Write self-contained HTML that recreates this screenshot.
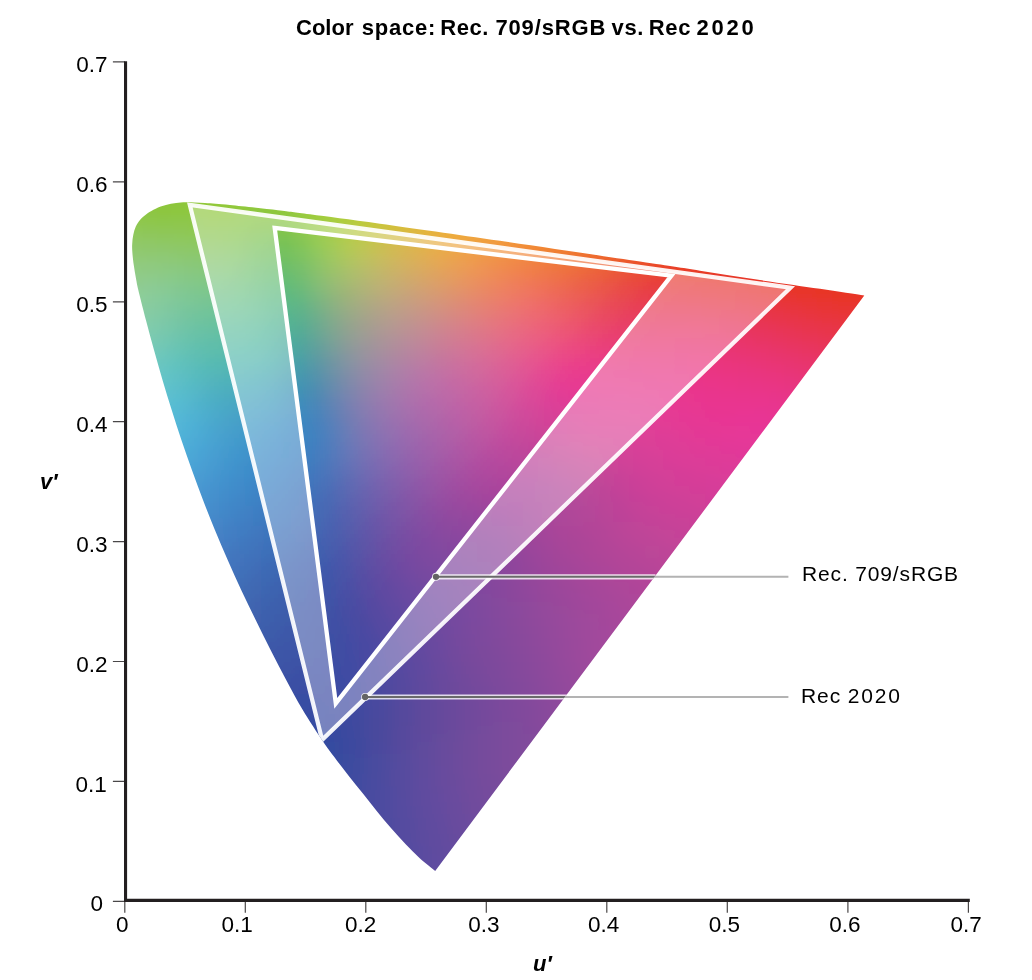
<!DOCTYPE html>
<html lang="en"><head><meta charset="utf-8"><title>Color space: Rec. 709/sRGB vs. Rec 2020</title>
<style>html,body{margin:0;padding:0;background:#fff}svg{display:block}</style></head>
<body>
<svg width="1032" height="980" viewBox="0 0 1032 980">
<defs><clipPath id="hs"><path d="M864.3 295.5C856.9 294.4 837.4 291.4 820.0 288.8C802.6 286.2 780.0 283.1 760.0 280.1C740.0 277.1 720.0 273.8 700.0 270.7C680.0 267.6 673.3 266.6 640.0 261.6C606.7 256.6 543.3 247.1 500.0 240.8C456.7 234.5 411.7 228.1 380.0 223.7C348.3 219.3 327.0 216.6 310.0 214.3C293.0 212.1 291.2 211.8 277.9 210.2C264.6 208.6 242.2 206.1 230.0 204.9C217.8 203.7 212.2 203.4 205.0 203.0C197.8 202.6 191.3 202.2 186.5 202.2C181.7 202.2 179.5 202.6 176.1 203.1C172.7 203.6 169.3 204.2 165.9 205.1C162.5 206.0 158.8 207.3 155.7 208.7C152.6 210.1 150.1 211.5 147.6 213.3C145.1 215.1 142.4 217.2 140.4 219.4C138.4 221.6 137.0 223.9 135.8 226.5C134.6 229.1 133.9 231.8 133.3 234.7C132.7 237.6 132.3 240.8 132.2 243.9C132.0 247.0 132.1 249.5 132.4 253.1C132.7 256.7 133.2 261.2 133.8 265.3C134.4 269.4 135.1 273.5 135.8 277.6C136.6 281.7 136.6 282.9 138.3 290.0C140.0 297.1 143.3 310.0 145.9 320.0C148.5 330.0 151.2 340.0 154.0 350.0C156.8 360.0 159.6 370.0 162.5 380.0C165.4 390.0 168.5 400.0 171.7 410.0C174.8 420.0 178.0 430.0 181.4 440.0C184.8 450.0 188.3 460.0 191.9 470.0C195.5 480.0 199.2 490.0 203.0 500.0C206.8 510.0 210.8 520.0 214.9 530.0C219.0 540.0 223.3 550.0 227.7 560.0C232.1 570.0 236.5 580.0 241.2 590.0C245.9 600.0 250.8 610.0 255.7 620.0C260.6 630.0 265.5 640.0 270.6 650.0C275.7 660.0 280.8 670.0 286.2 680.0C291.6 690.0 296.7 699.8 302.8 710.0C308.9 720.2 317.4 733.1 322.7 741.0C327.9 748.9 330.0 751.3 334.3 757.1C338.6 762.9 343.8 769.6 348.6 775.7C353.4 781.8 358.1 787.7 362.9 793.6C367.6 799.5 372.4 805.6 377.1 811.4C381.9 817.2 386.6 823.1 391.4 828.6C396.2 834.1 400.9 839.3 405.7 844.3C410.5 849.3 415.1 854.1 420.0 858.6C424.9 863.1 432.7 868.9 435.2 871.0Z"/></clipPath><clipPath id="c709"><path d="M274.7 227.9 L671.4 275.7 L335.8 703.4 Z"/></clipPath>
<linearGradient id="r1" gradientUnits="userSpaceOnUse" x1="120" x2="880"><stop offset=".04" stop-color="#8ec733"/><stop offset=".06" stop-color="#8dc633"/><stop offset=".08" stop-color="#8ec734"/><stop offset=".1" stop-color="#90c733"/><stop offset=".12" stop-color="#91c832"/><stop offset=".14" stop-color="#93c831"/><stop offset=".16" stop-color="#93c932"/></linearGradient>
<linearGradient id="r2" gradientUnits="userSpaceOnUse" x1="120" x2="880"><stop offset=".02" stop-color="#8ec739"/><stop offset=".04" stop-color="#8dc737"/><stop offset=".06" stop-color="#8dc636"/><stop offset=".08" stop-color="#8ec637"/><stop offset=".1" stop-color="#8fc737"/><stop offset=".12" stop-color="#91c835"/><stop offset=".14" stop-color="#92c834"/><stop offset=".16" stop-color="#92c835"/><stop offset=".18" stop-color="#92c835"/><stop offset=".2" stop-color="#94c934"/><stop offset=".22" stop-color="#98ca33"/></linearGradient>
<linearGradient id="r3" gradientUnits="userSpaceOnUse" x1="120" x2="880"><stop offset=".02" stop-color="#8ec73c"/><stop offset=".04" stop-color="#8dc63a"/><stop offset=".06" stop-color="#8dc63a"/><stop offset=".08" stop-color="#8dc63b"/><stop offset=".1" stop-color="#8fc73a"/><stop offset=".12" stop-color="#91c838"/><stop offset=".14" stop-color="#91c838"/><stop offset=".16" stop-color="#91c838"/><stop offset=".18" stop-color="#91c838"/><stop offset=".2" stop-color="#92c837"/><stop offset=".22" stop-color="#96c936"/><stop offset=".24" stop-color="#9ccb35"/><stop offset=".26" stop-color="#a4cd33"/></linearGradient>
<linearGradient id="r4" gradientUnits="userSpaceOnUse" x1="120" x2="880"><stop offset="0" stop-color="#90c843"/><stop offset=".02" stop-color="#8ec740"/><stop offset=".04" stop-color="#8dc63e"/><stop offset=".06" stop-color="#8dc63d"/><stop offset=".08" stop-color="#8dc63e"/><stop offset=".1" stop-color="#8fc73d"/><stop offset=".12" stop-color="#90c83b"/><stop offset=".14" stop-color="#91c83b"/><stop offset=".16" stop-color="#90c83c"/><stop offset=".18" stop-color="#8fc83c"/><stop offset=".2" stop-color="#8fc83b"/><stop offset=".22" stop-color="#93c939"/><stop offset=".24" stop-color="#9acb38"/><stop offset=".26" stop-color="#a2cd37"/><stop offset=".28" stop-color="#abcd35"/><stop offset=".3" stop-color="#b4cd32"/></linearGradient>
<linearGradient id="r5" gradientUnits="userSpaceOnUse" x1="120" x2="880"><stop offset="0" stop-color="#90c847"/><stop offset=".02" stop-color="#8ec744"/><stop offset=".04" stop-color="#8dc642"/><stop offset=".06" stop-color="#8dc641"/><stop offset=".08" stop-color="#8dc741"/><stop offset=".1" stop-color="#8fc741"/><stop offset=".12" stop-color="#90c83e"/><stop offset=".14" stop-color="#90c83e"/><stop offset=".16" stop-color="#8fc83f"/><stop offset=".18" stop-color="#8dc73f"/><stop offset=".2" stop-color="#8dc73e"/><stop offset=".22" stop-color="#91c83d"/><stop offset=".24" stop-color="#98ca3c"/><stop offset=".26" stop-color="#a1cc3a"/><stop offset=".28" stop-color="#aacd38"/><stop offset=".3" stop-color="#b3cd35"/><stop offset=".32" stop-color="#beca33"/><stop offset=".34" stop-color="#c8c632"/></linearGradient>
<linearGradient id="r6" gradientUnits="userSpaceOnUse" x1="120" x2="880"><stop offset="0" stop-color="#90c84b"/><stop offset=".02" stop-color="#8ec748"/><stop offset=".04" stop-color="#8dc646"/><stop offset=".06" stop-color="#8dc645"/><stop offset=".08" stop-color="#8dc745"/><stop offset=".1" stop-color="#8ec744"/><stop offset=".12" stop-color="#90c842"/><stop offset=".14" stop-color="#8fc841"/><stop offset=".16" stop-color="#8dc742"/><stop offset=".18" stop-color="#8bc742"/><stop offset=".2" stop-color="#8ac741"/><stop offset=".22" stop-color="#8ec840"/><stop offset=".24" stop-color="#96ca3f"/><stop offset=".26" stop-color="#9fcc3e"/><stop offset=".28" stop-color="#a9cd3c"/><stop offset=".3" stop-color="#b3cc39"/><stop offset=".32" stop-color="#bdca37"/><stop offset=".34" stop-color="#c8c635"/><stop offset=".36" stop-color="#d2c134"/><stop offset=".38" stop-color="#dabd32"/></linearGradient>
<linearGradient id="r7" gradientUnits="userSpaceOnUse" x1="120" x2="880"><stop offset="0" stop-color="#90c94f"/><stop offset=".02" stop-color="#8fc74c"/><stop offset=".04" stop-color="#8ec74a"/><stop offset=".06" stop-color="#8dc649"/><stop offset=".08" stop-color="#8dc749"/><stop offset=".1" stop-color="#8ec748"/><stop offset=".12" stop-color="#8fc845"/><stop offset=".14" stop-color="#8ec845"/><stop offset=".16" stop-color="#8cc746"/><stop offset=".18" stop-color="#89c646"/><stop offset=".2" stop-color="#88c644"/><stop offset=".22" stop-color="#8bc743"/><stop offset=".24" stop-color="#94c943"/><stop offset=".26" stop-color="#9ecc42"/><stop offset=".28" stop-color="#a8cd3f"/><stop offset=".3" stop-color="#b2cc3c"/><stop offset=".32" stop-color="#bdca3a"/><stop offset=".34" stop-color="#c8c539"/><stop offset=".36" stop-color="#d2c137"/><stop offset=".38" stop-color="#dabc35"/><stop offset=".4" stop-color="#e2b834"/><stop offset=".42" stop-color="#e8b333"/></linearGradient>
<linearGradient id="r8" gradientUnits="userSpaceOnUse" x1="120" x2="880"><stop offset="0" stop-color="#90c953"/><stop offset=".02" stop-color="#8fc751"/><stop offset=".04" stop-color="#8ec74f"/><stop offset=".06" stop-color="#8dc74d"/><stop offset=".08" stop-color="#8ec74d"/><stop offset=".1" stop-color="#8ec74c"/><stop offset=".12" stop-color="#8fc849"/><stop offset=".14" stop-color="#8ec849"/><stop offset=".16" stop-color="#8bc749"/><stop offset=".18" stop-color="#87c649"/><stop offset=".2" stop-color="#85c548"/><stop offset=".22" stop-color="#88c646"/><stop offset=".24" stop-color="#91c946"/><stop offset=".26" stop-color="#9ccc45"/><stop offset=".28" stop-color="#a7cd43"/><stop offset=".3" stop-color="#b2cc40"/><stop offset=".32" stop-color="#bec93e"/><stop offset=".34" stop-color="#c8c53c"/><stop offset=".36" stop-color="#d2c03b"/><stop offset=".38" stop-color="#dbbb39"/><stop offset=".4" stop-color="#e2b737"/><stop offset=".42" stop-color="#e8b236"/><stop offset=".44" stop-color="#ecae35"/></linearGradient>
<linearGradient id="r9" gradientUnits="userSpaceOnUse" x1="120" x2="880"><stop offset="0" stop-color="#90c957"/><stop offset=".02" stop-color="#8fc855"/><stop offset=".04" stop-color="#8ec753"/><stop offset=".06" stop-color="#8ec752"/><stop offset=".08" stop-color="#8ec751"/><stop offset=".1" stop-color="#8ec850"/><stop offset=".12" stop-color="#8ec84d"/><stop offset=".14" stop-color="#8dc84d"/><stop offset=".16" stop-color="#89c74d"/><stop offset=".18" stop-color="#85c54c"/><stop offset=".2" stop-color="#82c54b"/><stop offset=".22" stop-color="#85c54a"/><stop offset=".24" stop-color="#8ec84a"/><stop offset=".26" stop-color="#9bcc49"/><stop offset=".28" stop-color="#a7cd46"/><stop offset=".3" stop-color="#b2cc44"/><stop offset=".32" stop-color="#bec942"/><stop offset=".34" stop-color="#c8c440"/><stop offset=".36" stop-color="#d2bf3e"/><stop offset=".38" stop-color="#dbba3c"/><stop offset=".4" stop-color="#e2b63b"/><stop offset=".42" stop-color="#e8b139"/><stop offset=".44" stop-color="#edad38"/><stop offset=".46" stop-color="#efa837"/><stop offset=".48" stop-color="#f1a335"/></linearGradient>
<linearGradient id="r10" gradientUnits="userSpaceOnUse" x1="120" x2="880"><stop offset="0" stop-color="#91c95b"/><stop offset=".02" stop-color="#8fc85a"/><stop offset=".04" stop-color="#8ec758"/><stop offset=".06" stop-color="#8ec757"/><stop offset=".08" stop-color="#8ec756"/><stop offset=".1" stop-color="#8ec854"/><stop offset=".12" stop-color="#8ec852"/><stop offset=".14" stop-color="#8cc851"/><stop offset=".16" stop-color="#88c650"/><stop offset=".18" stop-color="#83c550"/><stop offset=".2" stop-color="#80c44e"/><stop offset=".22" stop-color="#82c44d"/><stop offset=".24" stop-color="#8cc84d"/><stop offset=".26" stop-color="#99cb4d"/><stop offset=".28" stop-color="#a6cd4a"/><stop offset=".3" stop-color="#b3cc47"/><stop offset=".32" stop-color="#bec845"/><stop offset=".34" stop-color="#c9c444"/><stop offset=".36" stop-color="#d2be42"/><stop offset=".38" stop-color="#dbb940"/><stop offset=".4" stop-color="#e2b53e"/><stop offset=".42" stop-color="#e8b03c"/><stop offset=".44" stop-color="#edac3b"/><stop offset=".46" stop-color="#efa73a"/><stop offset=".48" stop-color="#f1a238"/><stop offset=".5" stop-color="#f19d35"/><stop offset=".52" stop-color="#f19730"/></linearGradient>
<linearGradient id="r11" gradientUnits="userSpaceOnUse" x1="120" x2="880"><stop offset="0" stop-color="#91c960"/><stop offset=".02" stop-color="#90c85e"/><stop offset=".04" stop-color="#8fc75d"/><stop offset=".06" stop-color="#8ec75c"/><stop offset=".08" stop-color="#8ec85a"/><stop offset=".1" stop-color="#8ec858"/><stop offset=".12" stop-color="#8dc856"/><stop offset=".14" stop-color="#8bc855"/><stop offset=".16" stop-color="#87c654"/><stop offset=".18" stop-color="#81c553"/><stop offset=".2" stop-color="#7dc352"/><stop offset=".22" stop-color="#7ec350"/><stop offset=".24" stop-color="#89c750"/><stop offset=".26" stop-color="#98cb50"/><stop offset=".28" stop-color="#a6cc4e"/><stop offset=".3" stop-color="#b3cb4b"/><stop offset=".32" stop-color="#bfc849"/><stop offset=".34" stop-color="#c9c347"/><stop offset=".36" stop-color="#d2bd46"/><stop offset=".38" stop-color="#dbb944"/><stop offset=".4" stop-color="#e2b441"/><stop offset=".42" stop-color="#e8af3f"/><stop offset=".44" stop-color="#edaa3e"/><stop offset=".46" stop-color="#efa53d"/><stop offset=".48" stop-color="#f1a13b"/><stop offset=".5" stop-color="#f19b38"/><stop offset=".52" stop-color="#f19633"/><stop offset=".54" stop-color="#f1902f"/><stop offset=".56" stop-color="#f18a2a"/></linearGradient>
<linearGradient id="r12" gradientUnits="userSpaceOnUse" x1="120" x2="880"><stop offset="0" stop-color="#91c964"/><stop offset=".02" stop-color="#90c863"/><stop offset=".04" stop-color="#8fc862"/><stop offset=".06" stop-color="#8ec860"/><stop offset=".08" stop-color="#8ec85f"/><stop offset=".1" stop-color="#8dc85d"/><stop offset=".12" stop-color="#8dc85a"/><stop offset=".14" stop-color="#8bc859"/><stop offset=".16" stop-color="#86c658"/><stop offset=".18" stop-color="#7fc457"/><stop offset=".2" stop-color="#7bc355"/><stop offset=".22" stop-color="#7cc354"/><stop offset=".24" stop-color="#87c654"/><stop offset=".26" stop-color="#96ca54"/><stop offset=".28" stop-color="#a5cc51"/><stop offset=".3" stop-color="#b3cb4e"/><stop offset=".32" stop-color="#bfc74d"/><stop offset=".34" stop-color="#c9c24b"/><stop offset=".36" stop-color="#d2bc49"/><stop offset=".38" stop-color="#dbb847"/><stop offset=".4" stop-color="#e2b345"/><stop offset=".42" stop-color="#e8ae42"/><stop offset=".44" stop-color="#eda941"/><stop offset=".46" stop-color="#efa440"/><stop offset=".48" stop-color="#f09f3e"/><stop offset=".5" stop-color="#f19a3b"/><stop offset=".52" stop-color="#f19436"/><stop offset=".54" stop-color="#f18e32"/><stop offset=".56" stop-color="#f1892d"/><stop offset=".58" stop-color="#f18329"/><stop offset=".6" stop-color="#f07c25"/></linearGradient>
<linearGradient id="r13" gradientUnits="userSpaceOnUse" x1="120" x2="880"><stop offset="0" stop-color="#91ca68"/><stop offset=".02" stop-color="#90c868"/><stop offset=".04" stop-color="#8fc867"/><stop offset=".06" stop-color="#8ec865"/><stop offset=".08" stop-color="#8ec863"/><stop offset=".1" stop-color="#8dc861"/><stop offset=".12" stop-color="#8cc85f"/><stop offset=".14" stop-color="#8ac85d"/><stop offset=".16" stop-color="#84c65c"/><stop offset=".18" stop-color="#7dc45a"/><stop offset=".2" stop-color="#78c258"/><stop offset=".22" stop-color="#79c257"/><stop offset=".24" stop-color="#85c557"/><stop offset=".26" stop-color="#95ca57"/><stop offset=".28" stop-color="#a4cb54"/><stop offset=".3" stop-color="#b3ca52"/><stop offset=".32" stop-color="#bec751"/><stop offset=".34" stop-color="#c9c14f"/><stop offset=".36" stop-color="#d2bb4d"/><stop offset=".38" stop-color="#dab74b"/><stop offset=".4" stop-color="#e2b248"/><stop offset=".42" stop-color="#e8ad46"/><stop offset=".44" stop-color="#eca844"/><stop offset=".46" stop-color="#efa343"/><stop offset=".48" stop-color="#f09d41"/><stop offset=".5" stop-color="#f1983e"/><stop offset=".52" stop-color="#f19239"/><stop offset=".54" stop-color="#f18c35"/><stop offset=".56" stop-color="#f18730"/><stop offset=".58" stop-color="#f0812c"/><stop offset=".6" stop-color="#f07b28"/><stop offset=".62" stop-color="#ef7325"/></linearGradient>
<linearGradient id="r14" gradientUnits="userSpaceOnUse" x1="120" x2="880"><stop offset="0" stop-color="#91ca6c"/><stop offset=".02" stop-color="#90c96c"/><stop offset=".04" stop-color="#8fc86b"/><stop offset=".06" stop-color="#8ec86a"/><stop offset=".08" stop-color="#8dc868"/><stop offset=".1" stop-color="#8dc866"/><stop offset=".12" stop-color="#8cc863"/><stop offset=".14" stop-color="#89c862"/><stop offset=".16" stop-color="#83c660"/><stop offset=".18" stop-color="#7cc45e"/><stop offset=".2" stop-color="#76c25c"/><stop offset=".22" stop-color="#77c25a"/><stop offset=".24" stop-color="#83c55a"/><stop offset=".26" stop-color="#93c95a"/><stop offset=".28" stop-color="#a3ca58"/><stop offset=".3" stop-color="#b2ca55"/><stop offset=".32" stop-color="#bec654"/><stop offset=".34" stop-color="#c8c053"/><stop offset=".36" stop-color="#d2ba51"/><stop offset=".38" stop-color="#dab64f"/><stop offset=".4" stop-color="#e1b14c"/><stop offset=".42" stop-color="#e8ac49"/><stop offset=".44" stop-color="#eca747"/><stop offset=".46" stop-color="#efa146"/><stop offset=".48" stop-color="#f09c44"/><stop offset=".5" stop-color="#f19640"/><stop offset=".52" stop-color="#f1903c"/><stop offset=".54" stop-color="#f18a38"/><stop offset=".56" stop-color="#f18533"/><stop offset=".58" stop-color="#f07f2f"/><stop offset=".6" stop-color="#ef792c"/><stop offset=".62" stop-color="#ef7128"/><stop offset=".64" stop-color="#ee6925"/><stop offset=".66" stop-color="#ed6121"/></linearGradient>
<linearGradient id="r15" gradientUnits="userSpaceOnUse" x1="120" x2="880"><stop offset="0" stop-color="#91ca70"/><stop offset=".02" stop-color="#90c970"/><stop offset=".04" stop-color="#8fc970"/><stop offset=".06" stop-color="#8ec96f"/><stop offset=".08" stop-color="#8dc86c"/><stop offset=".1" stop-color="#8cc86a"/><stop offset=".12" stop-color="#8bc868"/><stop offset=".14" stop-color="#88c866"/><stop offset=".16" stop-color="#82c664"/><stop offset=".18" stop-color="#7ac362"/><stop offset=".2" stop-color="#74c15f"/><stop offset=".22" stop-color="#76c15e"/><stop offset=".24" stop-color="#81c45e"/><stop offset=".26" stop-color="#91c85d"/><stop offset=".28" stop-color="#a2c95b"/><stop offset=".3" stop-color="#b1c859"/><stop offset=".32" stop-color="#bdc458"/><stop offset=".34" stop-color="#c8bf57"/><stop offset=".36" stop-color="#d1b955"/><stop offset=".38" stop-color="#d9b453"/><stop offset=".4" stop-color="#e1b04f"/><stop offset=".42" stop-color="#e7ab4c"/><stop offset=".44" stop-color="#eca54a"/><stop offset=".46" stop-color="#eea048"/><stop offset=".48" stop-color="#f09a46"/><stop offset=".5" stop-color="#f19443"/><stop offset=".52" stop-color="#f18e3f"/><stop offset=".54" stop-color="#f1883b"/><stop offset=".56" stop-color="#f08336"/><stop offset=".58" stop-color="#f07d32"/><stop offset=".6" stop-color="#ef772f"/><stop offset=".62" stop-color="#ee6f2b"/><stop offset=".64" stop-color="#ed6728"/><stop offset=".66" stop-color="#ed6025"/><stop offset=".68" stop-color="#ec5821"/><stop offset=".7" stop-color="#eb501d"/></linearGradient>
<linearGradient id="r16" gradientUnits="userSpaceOnUse" x1="120" x2="880"><stop offset="0" stop-color="#92cb74"/><stop offset=".02" stop-color="#91c975"/><stop offset=".04" stop-color="#8fc974"/><stop offset=".06" stop-color="#8ec973"/><stop offset=".08" stop-color="#8cc971"/><stop offset=".1" stop-color="#8bc86e"/><stop offset=".12" stop-color="#8ac86c"/><stop offset=".14" stop-color="#87c86a"/><stop offset=".16" stop-color="#81c668"/><stop offset=".18" stop-color="#79c365"/><stop offset=".2" stop-color="#73c163"/><stop offset=".22" stop-color="#74c161"/><stop offset=".24" stop-color="#7fc361"/><stop offset=".26" stop-color="#90c760"/><stop offset=".28" stop-color="#a1c85e"/><stop offset=".3" stop-color="#b0c75c"/><stop offset=".32" stop-color="#bcc35c"/><stop offset=".34" stop-color="#c7be5b"/><stop offset=".36" stop-color="#d0b859"/><stop offset=".38" stop-color="#d8b356"/><stop offset=".4" stop-color="#e0ae53"/><stop offset=".42" stop-color="#e7a94f"/><stop offset=".44" stop-color="#eba44d"/><stop offset=".46" stop-color="#ee9e4b"/><stop offset=".48" stop-color="#f09849"/><stop offset=".5" stop-color="#f19246"/><stop offset=".52" stop-color="#f18c42"/><stop offset=".54" stop-color="#f1863e"/><stop offset=".56" stop-color="#f08039"/><stop offset=".58" stop-color="#ef7b35"/><stop offset=".6" stop-color="#ef7532"/><stop offset=".62" stop-color="#ee6d2f"/><stop offset=".64" stop-color="#ed652c"/><stop offset=".66" stop-color="#ec5e28"/><stop offset=".68" stop-color="#ec5625"/><stop offset=".7" stop-color="#eb4f21"/><stop offset=".72" stop-color="#ea481e"/><stop offset=".74" stop-color="#ea431b"/></linearGradient>
<linearGradient id="r17" gradientUnits="userSpaceOnUse" x1="120" x2="880"><stop offset="0" stop-color="#92cb78"/><stop offset=".02" stop-color="#91ca79"/><stop offset=".04" stop-color="#8fc979"/><stop offset=".06" stop-color="#8ec978"/><stop offset=".08" stop-color="#8cc975"/><stop offset=".1" stop-color="#8ac873"/><stop offset=".12" stop-color="#89c870"/><stop offset=".14" stop-color="#86c76e"/><stop offset=".16" stop-color="#80c66c"/><stop offset=".18" stop-color="#77c369"/><stop offset=".2" stop-color="#71c166"/><stop offset=".22" stop-color="#72c064"/><stop offset=".24" stop-color="#7dc264"/><stop offset=".26" stop-color="#8ec563"/><stop offset=".28" stop-color="#9fc762"/><stop offset=".3" stop-color="#aec560"/><stop offset=".32" stop-color="#bbc260"/><stop offset=".34" stop-color="#c5bc5f"/><stop offset=".36" stop-color="#cfb75d"/><stop offset=".38" stop-color="#d7b25a"/><stop offset=".4" stop-color="#dfad56"/><stop offset=".42" stop-color="#e6a852"/><stop offset=".44" stop-color="#eaa250"/><stop offset=".46" stop-color="#ed9c4e"/><stop offset=".48" stop-color="#ef964c"/><stop offset=".5" stop-color="#f09049"/><stop offset=".52" stop-color="#f18a45"/><stop offset=".54" stop-color="#f18441"/><stop offset=".56" stop-color="#f07e3d"/><stop offset=".58" stop-color="#ef7939"/><stop offset=".6" stop-color="#ee7235"/><stop offset=".62" stop-color="#ed6b32"/><stop offset=".64" stop-color="#ec632f"/><stop offset=".66" stop-color="#ec5c2c"/><stop offset=".68" stop-color="#eb5429"/><stop offset=".7" stop-color="#eb4d25"/><stop offset=".72" stop-color="#ea4622"/><stop offset=".74" stop-color="#e9421f"/><stop offset=".76" stop-color="#e93f1c"/></linearGradient>
<linearGradient id="r18" gradientUnits="userSpaceOnUse" x1="120" x2="880"><stop offset="0" stop-color="#92cb7c"/><stop offset=".02" stop-color="#91ca7d"/><stop offset=".04" stop-color="#8fca7d"/><stop offset=".06" stop-color="#8dc97c"/><stop offset=".08" stop-color="#8bc97a"/><stop offset=".1" stop-color="#89c877"/><stop offset=".12" stop-color="#88c874"/><stop offset=".14" stop-color="#85c772"/><stop offset=".16" stop-color="#7ec570"/><stop offset=".18" stop-color="#75c36d"/><stop offset=".2" stop-color="#6fc06a"/><stop offset=".22" stop-color="#70bf68"/><stop offset=".24" stop-color="#7bc167"/><stop offset=".26" stop-color="#8dc466"/><stop offset=".28" stop-color="#9ec565"/><stop offset=".3" stop-color="#adc464"/><stop offset=".32" stop-color="#b9c063"/><stop offset=".34" stop-color="#c4bb62"/><stop offset=".36" stop-color="#cdb561"/><stop offset=".38" stop-color="#d6b05e"/><stop offset=".4" stop-color="#ddab5a"/><stop offset=".42" stop-color="#e4a755"/><stop offset=".44" stop-color="#e9a153"/><stop offset=".46" stop-color="#ed9b51"/><stop offset=".48" stop-color="#ef944f"/><stop offset=".5" stop-color="#f08e4c"/><stop offset=".52" stop-color="#f18849"/><stop offset=".54" stop-color="#f08244"/><stop offset=".56" stop-color="#f07c40"/><stop offset=".58" stop-color="#ef773c"/><stop offset=".6" stop-color="#ee7038"/><stop offset=".62" stop-color="#ed6935"/><stop offset=".64" stop-color="#ec6133"/><stop offset=".66" stop-color="#eb5a30"/><stop offset=".68" stop-color="#eb522c"/><stop offset=".7" stop-color="#ea4b29"/><stop offset=".72" stop-color="#ea4526"/><stop offset=".74" stop-color="#e94023"/><stop offset=".76" stop-color="#e93d20"/><stop offset=".78" stop-color="#e83b1e"/><stop offset=".8" stop-color="#e83a1c"/></linearGradient>
<linearGradient id="r19" gradientUnits="userSpaceOnUse" x1="120" x2="880"><stop offset="0" stop-color="#92cc80"/><stop offset=".02" stop-color="#90cb81"/><stop offset=".04" stop-color="#8fca81"/><stop offset=".06" stop-color="#8cc980"/><stop offset=".08" stop-color="#8ac97e"/><stop offset=".1" stop-color="#88c87b"/><stop offset=".12" stop-color="#86c878"/><stop offset=".14" stop-color="#84c776"/><stop offset=".16" stop-color="#7dc573"/><stop offset=".18" stop-color="#74c270"/><stop offset=".2" stop-color="#6dc06d"/><stop offset=".22" stop-color="#6ebf6b"/><stop offset=".24" stop-color="#79c06a"/><stop offset=".26" stop-color="#8bc369"/><stop offset=".28" stop-color="#9cc368"/><stop offset=".3" stop-color="#abc267"/><stop offset=".32" stop-color="#b8be67"/><stop offset=".34" stop-color="#c2b966"/><stop offset=".36" stop-color="#ccb464"/><stop offset=".38" stop-color="#d4af61"/><stop offset=".4" stop-color="#dcaa5d"/><stop offset=".42" stop-color="#e3a559"/><stop offset=".44" stop-color="#e89f56"/><stop offset=".46" stop-color="#ec9954"/><stop offset=".48" stop-color="#ee9252"/><stop offset=".5" stop-color="#f08c4f"/><stop offset=".52" stop-color="#f0864c"/><stop offset=".54" stop-color="#f08048"/><stop offset=".56" stop-color="#f07a43"/><stop offset=".58" stop-color="#ee743f"/><stop offset=".6" stop-color="#ed6e3b"/><stop offset=".62" stop-color="#ec6739"/><stop offset=".64" stop-color="#eb5f36"/><stop offset=".66" stop-color="#eb5734"/><stop offset=".68" stop-color="#ea5030"/><stop offset=".7" stop-color="#ea492d"/><stop offset=".72" stop-color="#e9432a"/><stop offset=".74" stop-color="#e93f27"/><stop offset=".76" stop-color="#e83c24"/><stop offset=".78" stop-color="#e83b22"/><stop offset=".8" stop-color="#e83920"/><stop offset=".82" stop-color="#e8381e"/><stop offset=".84" stop-color="#e8371b"/></linearGradient>
<linearGradient id="r20" gradientUnits="userSpaceOnUse" x1="120" x2="880"><stop offset="0" stop-color="#91cc84"/><stop offset=".02" stop-color="#90cb85"/><stop offset=".04" stop-color="#8eca85"/><stop offset=".06" stop-color="#8cca84"/><stop offset=".08" stop-color="#89c982"/><stop offset=".1" stop-color="#87c87f"/><stop offset=".12" stop-color="#85c87c"/><stop offset=".14" stop-color="#82c77a"/><stop offset=".16" stop-color="#7bc577"/><stop offset=".18" stop-color="#72c274"/><stop offset=".2" stop-color="#6bbf71"/><stop offset=".22" stop-color="#6cbe6e"/><stop offset=".24" stop-color="#77bf6d"/><stop offset=".26" stop-color="#8ac16c"/><stop offset=".28" stop-color="#9bc26b"/><stop offset=".3" stop-color="#a9c06a"/><stop offset=".32" stop-color="#b6bc6a"/><stop offset=".34" stop-color="#c1b76a"/><stop offset=".36" stop-color="#cab268"/><stop offset=".38" stop-color="#d2ad65"/><stop offset=".4" stop-color="#daa861"/><stop offset=".42" stop-color="#e1a35d"/><stop offset=".44" stop-color="#e79d5a"/><stop offset=".46" stop-color="#eb9757"/><stop offset=".48" stop-color="#ee9155"/><stop offset=".5" stop-color="#ef8a52"/><stop offset=".52" stop-color="#f0844f"/><stop offset=".54" stop-color="#f07e4b"/><stop offset=".56" stop-color="#ef7847"/><stop offset=".58" stop-color="#ee7243"/><stop offset=".6" stop-color="#ed6c3f"/><stop offset=".62" stop-color="#ec653c"/><stop offset=".64" stop-color="#eb5d3a"/><stop offset=".66" stop-color="#ea5538"/><stop offset=".68" stop-color="#ea4e35"/><stop offset=".7" stop-color="#e94731"/><stop offset=".72" stop-color="#e9412e"/><stop offset=".74" stop-color="#e93e2b"/><stop offset=".76" stop-color="#e83b28"/><stop offset=".78" stop-color="#e83a26"/><stop offset=".8" stop-color="#e73925"/><stop offset=".82" stop-color="#e73822"/><stop offset=".84" stop-color="#e8361f"/><stop offset=".86" stop-color="#e8361c"/><stop offset=".88" stop-color="#e8351a"/></linearGradient>
<linearGradient id="r21" gradientUnits="userSpaceOnUse" x1="120" x2="880"><stop offset="0" stop-color="#91cc87"/><stop offset=".02" stop-color="#90cb88"/><stop offset=".04" stop-color="#8ecb89"/><stop offset=".06" stop-color="#8bca88"/><stop offset=".08" stop-color="#87c985"/><stop offset=".1" stop-color="#85c882"/><stop offset=".12" stop-color="#83c880"/><stop offset=".14" stop-color="#80c77d"/><stop offset=".16" stop-color="#79c57a"/><stop offset=".18" stop-color="#71c277"/><stop offset=".2" stop-color="#6abf74"/><stop offset=".22" stop-color="#69bd71"/><stop offset=".24" stop-color="#75be70"/><stop offset=".26" stop-color="#88c06f"/><stop offset=".28" stop-color="#99c06e"/><stop offset=".3" stop-color="#a8be6d"/><stop offset=".32" stop-color="#b4ba6d"/><stop offset=".34" stop-color="#bfb66d"/><stop offset=".36" stop-color="#c9b06b"/><stop offset=".38" stop-color="#d1ab69"/><stop offset=".4" stop-color="#d9a665"/><stop offset=".42" stop-color="#e0a160"/><stop offset=".44" stop-color="#e59c5d"/><stop offset=".46" stop-color="#ea955a"/><stop offset=".48" stop-color="#ed8f58"/><stop offset=".5" stop-color="#ef8855"/><stop offset=".52" stop-color="#f08253"/><stop offset=".54" stop-color="#f07c4f"/><stop offset=".56" stop-color="#ef764b"/><stop offset=".58" stop-color="#ee7046"/><stop offset=".6" stop-color="#ed6942"/><stop offset=".62" stop-color="#ec6240"/><stop offset=".64" stop-color="#eb5b3e"/><stop offset=".66" stop-color="#ea533c"/><stop offset=".68" stop-color="#e94c39"/><stop offset=".7" stop-color="#e94536"/><stop offset=".72" stop-color="#e94032"/><stop offset=".74" stop-color="#e83d2f"/><stop offset=".76" stop-color="#e83a2d"/><stop offset=".78" stop-color="#e8392b"/><stop offset=".8" stop-color="#e73829"/><stop offset=".82" stop-color="#e73726"/><stop offset=".84" stop-color="#e83623"/><stop offset=".86" stop-color="#e83520"/><stop offset=".88" stop-color="#e8351e"/><stop offset=".9" stop-color="#e8351b"/></linearGradient>
<linearGradient id="r22" gradientUnits="userSpaceOnUse" x1="120" x2="880"><stop offset="0" stop-color="#91cd8b"/><stop offset=".02" stop-color="#90cc8c"/><stop offset=".04" stop-color="#8dcb8d"/><stop offset=".06" stop-color="#8aca8c"/><stop offset=".08" stop-color="#86c989"/><stop offset=".1" stop-color="#84c886"/><stop offset=".12" stop-color="#81c783"/><stop offset=".14" stop-color="#7ec681"/><stop offset=".16" stop-color="#78c57e"/><stop offset=".18" stop-color="#6fc27b"/><stop offset=".2" stop-color="#68bf77"/><stop offset=".22" stop-color="#67bd74"/><stop offset=".24" stop-color="#73bd73"/><stop offset=".26" stop-color="#86bf72"/><stop offset=".28" stop-color="#98be71"/><stop offset=".3" stop-color="#a6bc70"/><stop offset=".32" stop-color="#b3b871"/><stop offset=".34" stop-color="#beb470"/><stop offset=".36" stop-color="#c7af6f"/><stop offset=".38" stop-color="#cfa96c"/><stop offset=".4" stop-color="#d7a568"/><stop offset=".42" stop-color="#dea064"/><stop offset=".44" stop-color="#e49a61"/><stop offset=".46" stop-color="#e9935e"/><stop offset=".48" stop-color="#ec8d5b"/><stop offset=".5" stop-color="#ee8759"/><stop offset=".52" stop-color="#ef8056"/><stop offset=".54" stop-color="#f07a53"/><stop offset=".56" stop-color="#ef744f"/><stop offset=".58" stop-color="#ee6e4a"/><stop offset=".6" stop-color="#ec6746"/><stop offset=".62" stop-color="#eb6043"/><stop offset=".64" stop-color="#ea5941"/><stop offset=".66" stop-color="#e9513f"/><stop offset=".68" stop-color="#e94a3d"/><stop offset=".7" stop-color="#e9433a"/><stop offset=".72" stop-color="#e93e37"/><stop offset=".74" stop-color="#e83c34"/><stop offset=".76" stop-color="#e83a31"/><stop offset=".78" stop-color="#e8392f"/><stop offset=".8" stop-color="#e7382e"/><stop offset=".82" stop-color="#e7372b"/><stop offset=".84" stop-color="#e83627"/><stop offset=".86" stop-color="#e83524"/><stop offset=".88" stop-color="#e83521"/><stop offset=".9" stop-color="#e8341f"/><stop offset=".92" stop-color="#e8341d"/><stop offset=".94" stop-color="#e8351b"/></linearGradient>
<linearGradient id="r23" gradientUnits="userSpaceOnUse" x1="120" x2="880"><stop offset="0" stop-color="#91cd8e"/><stop offset=".02" stop-color="#8fcc8f"/><stop offset=".04" stop-color="#8dcb90"/><stop offset=".06" stop-color="#89ca8f"/><stop offset=".08" stop-color="#85c98c"/><stop offset=".1" stop-color="#82c889"/><stop offset=".12" stop-color="#80c786"/><stop offset=".14" stop-color="#7cc684"/><stop offset=".16" stop-color="#76c481"/><stop offset=".18" stop-color="#6ec17e"/><stop offset=".2" stop-color="#66be7a"/><stop offset=".22" stop-color="#65bc77"/><stop offset=".24" stop-color="#70bc76"/><stop offset=".26" stop-color="#84bd75"/><stop offset=".28" stop-color="#96bc74"/><stop offset=".3" stop-color="#a5ba73"/><stop offset=".32" stop-color="#b1b673"/><stop offset=".34" stop-color="#bcb273"/><stop offset=".36" stop-color="#c5ad72"/><stop offset=".38" stop-color="#cda870"/><stop offset=".4" stop-color="#d5a36c"/><stop offset=".42" stop-color="#dd9e68"/><stop offset=".44" stop-color="#e39864"/><stop offset=".46" stop-color="#e89261"/><stop offset=".48" stop-color="#eb8b5e"/><stop offset=".5" stop-color="#ee855c"/><stop offset=".52" stop-color="#ef7e5a"/><stop offset=".54" stop-color="#f07857"/><stop offset=".56" stop-color="#ef7252"/><stop offset=".58" stop-color="#ee6c4e"/><stop offset=".6" stop-color="#ec654a"/><stop offset=".62" stop-color="#eb5e47"/><stop offset=".64" stop-color="#ea5745"/><stop offset=".66" stop-color="#e94f43"/><stop offset=".68" stop-color="#e94841"/><stop offset=".7" stop-color="#e8413e"/><stop offset=".72" stop-color="#e83d3b"/><stop offset=".74" stop-color="#e83b38"/><stop offset=".76" stop-color="#e83936"/><stop offset=".78" stop-color="#e73834"/><stop offset=".8" stop-color="#e73832"/><stop offset=".82" stop-color="#e7372f"/><stop offset=".84" stop-color="#e7352b"/><stop offset=".86" stop-color="#e83528"/><stop offset=".88" stop-color="#e83425"/><stop offset=".9" stop-color="#e83423"/><stop offset=".92" stop-color="#e83420"/><stop offset=".94" stop-color="#e8341e"/><stop offset=".96" stop-color="#e8341d"/><stop offset=".98" stop-color="#e9341c"/></linearGradient>
<linearGradient id="r24" gradientUnits="userSpaceOnUse" x1="120" x2="880"><stop offset="0" stop-color="#90cd91"/><stop offset=".02" stop-color="#8fcc93"/><stop offset=".04" stop-color="#8ccb94"/><stop offset=".06" stop-color="#88ca93"/><stop offset=".08" stop-color="#83c890"/><stop offset=".1" stop-color="#80c78c"/><stop offset=".12" stop-color="#7ec789"/><stop offset=".14" stop-color="#7ac687"/><stop offset=".16" stop-color="#74c484"/><stop offset=".18" stop-color="#6cc181"/><stop offset=".2" stop-color="#65be7e"/><stop offset=".22" stop-color="#63bb7b"/><stop offset=".24" stop-color="#6ebb79"/><stop offset=".26" stop-color="#82bb78"/><stop offset=".28" stop-color="#94ba76"/><stop offset=".3" stop-color="#a3b775"/><stop offset=".32" stop-color="#b0b476"/><stop offset=".34" stop-color="#bbb076"/><stop offset=".36" stop-color="#c4ab75"/><stop offset=".38" stop-color="#cca673"/><stop offset=".4" stop-color="#d4a170"/><stop offset=".42" stop-color="#db9c6b"/><stop offset=".44" stop-color="#e19668"/><stop offset=".46" stop-color="#e69065"/><stop offset=".48" stop-color="#ea8962"/><stop offset=".5" stop-color="#ed835f"/><stop offset=".52" stop-color="#ef7d5d"/><stop offset=".54" stop-color="#ef765b"/><stop offset=".56" stop-color="#ef7056"/><stop offset=".58" stop-color="#ed6a52"/><stop offset=".6" stop-color="#ec634d"/><stop offset=".62" stop-color="#eb5c4a"/><stop offset=".64" stop-color="#ea5548"/><stop offset=".66" stop-color="#e94d47"/><stop offset=".68" stop-color="#e84644"/><stop offset=".7" stop-color="#e84042"/><stop offset=".72" stop-color="#e83c3f"/><stop offset=".74" stop-color="#e83a3d"/><stop offset=".76" stop-color="#e8393b"/><stop offset=".78" stop-color="#e73839"/><stop offset=".8" stop-color="#e73737"/><stop offset=".82" stop-color="#e73734"/><stop offset=".84" stop-color="#e73530"/><stop offset=".86" stop-color="#e8342c"/><stop offset=".88" stop-color="#e83429"/><stop offset=".9" stop-color="#e83427"/><stop offset=".92" stop-color="#e83424"/><stop offset=".94" stop-color="#e83422"/><stop offset=".96" stop-color="#e83420"/><stop offset=".98" stop-color="#e83420"/><stop offset="1" stop-color="#e9341f"/></linearGradient>
<linearGradient id="r25" gradientUnits="userSpaceOnUse" x1="120" x2="880"><stop offset="0" stop-color="#90ce95"/><stop offset=".02" stop-color="#8ecd96"/><stop offset=".04" stop-color="#8bcc97"/><stop offset=".06" stop-color="#87ca95"/><stop offset=".08" stop-color="#82c892"/><stop offset=".1" stop-color="#7ec78f"/><stop offset=".12" stop-color="#7cc68c"/><stop offset=".14" stop-color="#78c58a"/><stop offset=".16" stop-color="#73c487"/><stop offset=".18" stop-color="#6bc184"/><stop offset=".2" stop-color="#63bd81"/><stop offset=".22" stop-color="#61ba7e"/><stop offset=".24" stop-color="#6bb97c"/><stop offset=".26" stop-color="#7fba7b"/><stop offset=".28" stop-color="#92b879"/><stop offset=".3" stop-color="#a1b578"/><stop offset=".32" stop-color="#aeb279"/><stop offset=".34" stop-color="#b9ae79"/><stop offset=".36" stop-color="#c2a979"/><stop offset=".38" stop-color="#caa477"/><stop offset=".4" stop-color="#d29f74"/><stop offset=".42" stop-color="#d99a6f"/><stop offset=".44" stop-color="#e0946c"/><stop offset=".46" stop-color="#e58e68"/><stop offset=".48" stop-color="#e98865"/><stop offset=".5" stop-color="#ec8163"/><stop offset=".52" stop-color="#ee7b61"/><stop offset=".54" stop-color="#ef755f"/><stop offset=".56" stop-color="#ef6e5a"/><stop offset=".58" stop-color="#ed6855"/><stop offset=".6" stop-color="#ec6151"/><stop offset=".62" stop-color="#eb5a4e"/><stop offset=".64" stop-color="#e9534c"/><stop offset=".66" stop-color="#e94c4a"/><stop offset=".68" stop-color="#e84448"/><stop offset=".7" stop-color="#e83e46"/><stop offset=".72" stop-color="#e83b44"/><stop offset=".74" stop-color="#e83941"/><stop offset=".76" stop-color="#e8383f"/><stop offset=".78" stop-color="#e7383d"/><stop offset=".8" stop-color="#e7373b"/><stop offset=".82" stop-color="#e73638"/><stop offset=".84" stop-color="#e73534"/><stop offset=".86" stop-color="#e83431"/><stop offset=".88" stop-color="#e8342d"/><stop offset=".9" stop-color="#e8342a"/><stop offset=".92" stop-color="#e83428"/><stop offset=".94" stop-color="#e83425"/><stop offset=".96" stop-color="#e83424"/><stop offset=".98" stop-color="#e83423"/><stop offset="1" stop-color="#e93422"/></linearGradient>
<linearGradient id="r26" gradientUnits="userSpaceOnUse" x1="120" x2="880"><stop offset="0" stop-color="#8fce98"/><stop offset=".02" stop-color="#8ecd99"/><stop offset=".04" stop-color="#8acc99"/><stop offset=".06" stop-color="#85ca98"/><stop offset=".08" stop-color="#80c895"/><stop offset=".1" stop-color="#7cc692"/><stop offset=".12" stop-color="#7ac68f"/><stop offset=".14" stop-color="#76c58d"/><stop offset=".16" stop-color="#71c48b"/><stop offset=".18" stop-color="#6ac188"/><stop offset=".2" stop-color="#62bd84"/><stop offset=".22" stop-color="#5fb981"/><stop offset=".24" stop-color="#69b87f"/><stop offset=".26" stop-color="#7cb87e"/><stop offset=".28" stop-color="#8fb67b"/><stop offset=".3" stop-color="#9fb37a"/><stop offset=".32" stop-color="#acb07c"/><stop offset=".34" stop-color="#b7ac7c"/><stop offset=".36" stop-color="#c1a77c"/><stop offset=".38" stop-color="#c8a27b"/><stop offset=".4" stop-color="#d09d77"/><stop offset=".42" stop-color="#d89873"/><stop offset=".44" stop-color="#de9270"/><stop offset=".46" stop-color="#e48c6c"/><stop offset=".48" stop-color="#e88669"/><stop offset=".5" stop-color="#ec8066"/><stop offset=".52" stop-color="#ee7965"/><stop offset=".54" stop-color="#ef7362"/><stop offset=".56" stop-color="#ef6d5e"/><stop offset=".58" stop-color="#ed6659"/><stop offset=".6" stop-color="#ec6055"/><stop offset=".62" stop-color="#eb5952"/><stop offset=".64" stop-color="#e95150"/><stop offset=".66" stop-color="#e84a4e"/><stop offset=".68" stop-color="#e8434c"/><stop offset=".7" stop-color="#e83d4a"/><stop offset=".72" stop-color="#e83a48"/><stop offset=".74" stop-color="#e83946"/><stop offset=".76" stop-color="#e83844"/><stop offset=".78" stop-color="#e73742"/><stop offset=".8" stop-color="#e73740"/><stop offset=".82" stop-color="#e7363d"/><stop offset=".84" stop-color="#e73539"/><stop offset=".86" stop-color="#e83435"/><stop offset=".88" stop-color="#e83431"/><stop offset=".9" stop-color="#e8342e"/><stop offset=".92" stop-color="#e8342b"/><stop offset=".94" stop-color="#e83428"/><stop offset=".96" stop-color="#e83427"/><stop offset=".98" stop-color="#e83427"/><stop offset="1" stop-color="#e93425"/></linearGradient>
<linearGradient id="r27" gradientUnits="userSpaceOnUse" x1="120" x2="880"><stop offset="0" stop-color="#8fce9b"/><stop offset=".02" stop-color="#8dcd9b"/><stop offset=".04" stop-color="#89cc9c"/><stop offset=".06" stop-color="#84ca9b"/><stop offset=".08" stop-color="#7fc898"/><stop offset=".1" stop-color="#7bc694"/><stop offset=".12" stop-color="#78c592"/><stop offset=".14" stop-color="#74c590"/><stop offset=".16" stop-color="#6fc38d"/><stop offset=".18" stop-color="#68c18b"/><stop offset=".2" stop-color="#60bc87"/><stop offset=".22" stop-color="#5db984"/><stop offset=".24" stop-color="#66b782"/><stop offset=".26" stop-color="#7ab680"/><stop offset=".28" stop-color="#8db47e"/><stop offset=".3" stop-color="#9db17d"/><stop offset=".32" stop-color="#abad7f"/><stop offset=".34" stop-color="#b6a97f"/><stop offset=".36" stop-color="#bfa57f"/><stop offset=".38" stop-color="#c7a07e"/><stop offset=".4" stop-color="#cf9b7b"/><stop offset=".42" stop-color="#d69677"/><stop offset=".44" stop-color="#dd9073"/><stop offset=".46" stop-color="#e38a70"/><stop offset=".48" stop-color="#e7846c"/><stop offset=".5" stop-color="#eb7e6a"/><stop offset=".52" stop-color="#ed7868"/><stop offset=".54" stop-color="#ee7166"/><stop offset=".56" stop-color="#ee6b62"/><stop offset=".58" stop-color="#ed655d"/><stop offset=".6" stop-color="#ec5e58"/><stop offset=".62" stop-color="#ea5755"/><stop offset=".64" stop-color="#e95053"/><stop offset=".66" stop-color="#e84951"/><stop offset=".68" stop-color="#e84250"/><stop offset=".7" stop-color="#e83d4e"/><stop offset=".72" stop-color="#e83a4c"/><stop offset=".74" stop-color="#e8384a"/><stop offset=".76" stop-color="#e83849"/><stop offset=".78" stop-color="#e73747"/><stop offset=".8" stop-color="#e73744"/><stop offset=".82" stop-color="#e73641"/><stop offset=".84" stop-color="#e7353d"/><stop offset=".86" stop-color="#e83439"/><stop offset=".88" stop-color="#e83435"/><stop offset=".9" stop-color="#e83432"/><stop offset=".92" stop-color="#e8342f"/><stop offset=".94" stop-color="#e8342c"/><stop offset=".96" stop-color="#e8342b"/><stop offset=".98" stop-color="#e8342a"/><stop offset="1" stop-color="#e93328"/></linearGradient>
<linearGradient id="r28" gradientUnits="userSpaceOnUse" x1="120" x2="880"><stop offset="0" stop-color="#8ece9d"/><stop offset=".02" stop-color="#8ccd9e"/><stop offset=".04" stop-color="#88cb9e"/><stop offset=".06" stop-color="#83c99d"/><stop offset=".08" stop-color="#7dc79a"/><stop offset=".1" stop-color="#79c697"/><stop offset=".12" stop-color="#75c594"/><stop offset=".14" stop-color="#72c492"/><stop offset=".16" stop-color="#6ec390"/><stop offset=".18" stop-color="#67c08e"/><stop offset=".2" stop-color="#5fbc8a"/><stop offset=".22" stop-color="#5cb887"/><stop offset=".24" stop-color="#64b585"/><stop offset=".26" stop-color="#77b483"/><stop offset=".28" stop-color="#8bb281"/><stop offset=".3" stop-color="#9caf80"/><stop offset=".32" stop-color="#a9ab81"/><stop offset=".34" stop-color="#b4a782"/><stop offset=".36" stop-color="#bda382"/><stop offset=".38" stop-color="#c59e82"/><stop offset=".4" stop-color="#cd997f"/><stop offset=".42" stop-color="#d5947b"/><stop offset=".44" stop-color="#db8e77"/><stop offset=".46" stop-color="#e18873"/><stop offset=".48" stop-color="#e68270"/><stop offset=".5" stop-color="#ea7c6d"/><stop offset=".52" stop-color="#ed766c"/><stop offset=".54" stop-color="#ee706a"/><stop offset=".56" stop-color="#ee6966"/><stop offset=".58" stop-color="#ed6360"/><stop offset=".6" stop-color="#ec5c5c"/><stop offset=".62" stop-color="#ea5559"/><stop offset=".64" stop-color="#e94e56"/><stop offset=".66" stop-color="#e84755"/><stop offset=".68" stop-color="#e84153"/><stop offset=".7" stop-color="#e83c52"/><stop offset=".72" stop-color="#e83950"/><stop offset=".74" stop-color="#e8384f"/><stop offset=".76" stop-color="#e8374d"/><stop offset=".78" stop-color="#e8374b"/><stop offset=".8" stop-color="#e73749"/><stop offset=".82" stop-color="#e73645"/><stop offset=".84" stop-color="#e73541"/><stop offset=".86" stop-color="#e8343d"/><stop offset=".88" stop-color="#e8343a"/><stop offset=".9" stop-color="#e83436"/><stop offset=".92" stop-color="#e83433"/><stop offset=".94" stop-color="#e83430"/><stop offset=".96" stop-color="#e8342e"/><stop offset=".98" stop-color="#e8342d"/><stop offset="1" stop-color="#e8332c"/></linearGradient>
<linearGradient id="r29" gradientUnits="userSpaceOnUse" x1="120" x2="880"><stop offset="0" stop-color="#8dcea0"/><stop offset=".02" stop-color="#8bcda1"/><stop offset=".04" stop-color="#87cba1"/><stop offset=".06" stop-color="#81c99f"/><stop offset=".08" stop-color="#7bc79c"/><stop offset=".1" stop-color="#77c599"/><stop offset=".12" stop-color="#73c497"/><stop offset=".14" stop-color="#70c495"/><stop offset=".16" stop-color="#6cc393"/><stop offset=".18" stop-color="#66c091"/><stop offset=".2" stop-color="#5dbb8d"/><stop offset=".22" stop-color="#5ab78a"/><stop offset=".24" stop-color="#62b488"/><stop offset=".26" stop-color="#75b286"/><stop offset=".28" stop-color="#89b084"/><stop offset=".3" stop-color="#9aad83"/><stop offset=".32" stop-color="#a7a984"/><stop offset=".34" stop-color="#b2a585"/><stop offset=".36" stop-color="#bca185"/><stop offset=".38" stop-color="#c49c85"/><stop offset=".4" stop-color="#cb9782"/><stop offset=".42" stop-color="#d3927e"/><stop offset=".44" stop-color="#da8c7b"/><stop offset=".46" stop-color="#e08677"/><stop offset=".48" stop-color="#e58173"/><stop offset=".5" stop-color="#e97a71"/><stop offset=".52" stop-color="#ec746f"/><stop offset=".54" stop-color="#ee6e6d"/><stop offset=".56" stop-color="#ee6869"/><stop offset=".58" stop-color="#ed6164"/><stop offset=".6" stop-color="#ec5b60"/><stop offset=".62" stop-color="#ea545c"/><stop offset=".64" stop-color="#e94c5a"/><stop offset=".66" stop-color="#e84658"/><stop offset=".68" stop-color="#e84057"/><stop offset=".7" stop-color="#e83b56"/><stop offset=".72" stop-color="#e83954"/><stop offset=".74" stop-color="#e83753"/><stop offset=".76" stop-color="#e83752"/><stop offset=".78" stop-color="#e83750"/><stop offset=".8" stop-color="#e7374d"/><stop offset=".82" stop-color="#e7364a"/><stop offset=".84" stop-color="#e73546"/><stop offset=".86" stop-color="#e83441"/><stop offset=".88" stop-color="#e8343e"/><stop offset=".9" stop-color="#e8343a"/><stop offset=".92" stop-color="#e83436"/><stop offset=".94" stop-color="#e83433"/><stop offset=".96" stop-color="#e83432"/><stop offset=".98" stop-color="#e83431"/><stop offset="1" stop-color="#e8332f"/></linearGradient>
<linearGradient id="r30" gradientUnits="userSpaceOnUse" x1="120" x2="880"><stop offset="0" stop-color="#8ccea3"/><stop offset=".02" stop-color="#8acda3"/><stop offset=".04" stop-color="#85cba3"/><stop offset=".06" stop-color="#80c9a2"/><stop offset=".08" stop-color="#79c69f"/><stop offset=".1" stop-color="#74c49b"/><stop offset=".12" stop-color="#71c499"/><stop offset=".14" stop-color="#6ec397"/><stop offset=".16" stop-color="#6bc296"/><stop offset=".18" stop-color="#65c093"/><stop offset=".2" stop-color="#5cbb90"/><stop offset=".22" stop-color="#58b68d"/><stop offset=".24" stop-color="#60b28a"/><stop offset=".26" stop-color="#72b088"/><stop offset=".28" stop-color="#87ae86"/><stop offset=".3" stop-color="#98ab86"/><stop offset=".32" stop-color="#a6a787"/><stop offset=".34" stop-color="#b1a388"/><stop offset=".36" stop-color="#ba9f88"/><stop offset=".38" stop-color="#c29a88"/><stop offset=".4" stop-color="#ca9585"/><stop offset=".42" stop-color="#d29082"/><stop offset=".44" stop-color="#d98a7e"/><stop offset=".46" stop-color="#df857a"/><stop offset=".48" stop-color="#e47f77"/><stop offset=".5" stop-color="#e87974"/><stop offset=".52" stop-color="#eb7373"/><stop offset=".54" stop-color="#ed6c70"/><stop offset=".56" stop-color="#ed666c"/><stop offset=".58" stop-color="#ed6067"/><stop offset=".6" stop-color="#ec5963"/><stop offset=".62" stop-color="#ea5260"/><stop offset=".64" stop-color="#e94b5d"/><stop offset=".66" stop-color="#e8445c"/><stop offset=".68" stop-color="#e83f5b"/><stop offset=".7" stop-color="#e83b5a"/><stop offset=".72" stop-color="#e83858"/><stop offset=".74" stop-color="#e83757"/><stop offset=".76" stop-color="#e83756"/><stop offset=".78" stop-color="#e83754"/><stop offset=".8" stop-color="#e83651"/><stop offset=".82" stop-color="#e7364e"/><stop offset=".84" stop-color="#e8354a"/><stop offset=".86" stop-color="#e83446"/><stop offset=".88" stop-color="#e83442"/><stop offset=".9" stop-color="#e8343e"/><stop offset=".92" stop-color="#e8343a"/><stop offset=".94" stop-color="#e83437"/><stop offset=".96" stop-color="#e83435"/><stop offset=".98" stop-color="#e83434"/><stop offset="1" stop-color="#e83332"/></linearGradient>
<linearGradient id="r31" gradientUnits="userSpaceOnUse" x1="120" x2="880"><stop offset="0" stop-color="#8bcea5"/><stop offset=".02" stop-color="#88cda6"/><stop offset=".04" stop-color="#84cba5"/><stop offset=".06" stop-color="#7ec9a4"/><stop offset=".08" stop-color="#78c6a1"/><stop offset=".1" stop-color="#72c49d"/><stop offset=".12" stop-color="#6fc39b"/><stop offset=".14" stop-color="#6cc39a"/><stop offset=".16" stop-color="#69c298"/><stop offset=".18" stop-color="#63bf96"/><stop offset=".2" stop-color="#5bba93"/><stop offset=".22" stop-color="#57b58f"/><stop offset=".24" stop-color="#5eb18d"/><stop offset=".26" stop-color="#70ae8b"/><stop offset=".28" stop-color="#85ac89"/><stop offset=".3" stop-color="#96a988"/><stop offset=".32" stop-color="#a4a589"/><stop offset=".34" stop-color="#afa18b"/><stop offset=".36" stop-color="#b99d8b"/><stop offset=".38" stop-color="#c1988b"/><stop offset=".4" stop-color="#c99389"/><stop offset=".42" stop-color="#d08e85"/><stop offset=".44" stop-color="#d78882"/><stop offset=".46" stop-color="#de837e"/><stop offset=".48" stop-color="#e37d7a"/><stop offset=".5" stop-color="#e77778"/><stop offset=".52" stop-color="#ea7176"/><stop offset=".54" stop-color="#ec6b73"/><stop offset=".56" stop-color="#ed656f"/><stop offset=".58" stop-color="#ed5e6b"/><stop offset=".6" stop-color="#ec5866"/><stop offset=".62" stop-color="#ea5063"/><stop offset=".64" stop-color="#e94961"/><stop offset=".66" stop-color="#e8435f"/><stop offset=".68" stop-color="#e83e5e"/><stop offset=".7" stop-color="#e83a5d"/><stop offset=".72" stop-color="#e8385c"/><stop offset=".74" stop-color="#e8375b"/><stop offset=".76" stop-color="#e8375a"/><stop offset=".78" stop-color="#e83758"/><stop offset=".8" stop-color="#e83656"/><stop offset=".82" stop-color="#e83652"/><stop offset=".84" stop-color="#e8354e"/><stop offset=".86" stop-color="#e8344a"/><stop offset=".88" stop-color="#e83446"/><stop offset=".9" stop-color="#e83442"/><stop offset=".92" stop-color="#e8343e"/><stop offset=".94" stop-color="#e8343b"/><stop offset=".96" stop-color="#e83439"/><stop offset=".98" stop-color="#e83337"/></linearGradient>
<linearGradient id="r32" gradientUnits="userSpaceOnUse" x1="120" x2="880"><stop offset="0" stop-color="#89cea8"/><stop offset=".02" stop-color="#87cda8"/><stop offset=".04" stop-color="#82cba7"/><stop offset=".06" stop-color="#7cc8a6"/><stop offset=".08" stop-color="#76c5a3"/><stop offset=".1" stop-color="#70c39f"/><stop offset=".12" stop-color="#6dc29d"/><stop offset=".14" stop-color="#6ac29c"/><stop offset=".16" stop-color="#67c19a"/><stop offset=".18" stop-color="#61be98"/><stop offset=".2" stop-color="#59b995"/><stop offset=".22" stop-color="#55b492"/><stop offset=".24" stop-color="#5caf8f"/><stop offset=".26" stop-color="#6ead8d"/><stop offset=".28" stop-color="#83aa8b"/><stop offset=".3" stop-color="#95a78b"/><stop offset=".32" stop-color="#a3a38c"/><stop offset=".34" stop-color="#ae9f8d"/><stop offset=".36" stop-color="#b79b8e"/><stop offset=".38" stop-color="#bf968d"/><stop offset=".4" stop-color="#c7918b"/><stop offset=".42" stop-color="#cf8c88"/><stop offset=".44" stop-color="#d68685"/><stop offset=".46" stop-color="#dd8181"/><stop offset=".48" stop-color="#e27b7e"/><stop offset=".5" stop-color="#e6757b"/><stop offset=".52" stop-color="#ea6f79"/><stop offset=".54" stop-color="#ec6976"/><stop offset=".56" stop-color="#ed6373"/><stop offset=".58" stop-color="#ed5d6e"/><stop offset=".6" stop-color="#ec566a"/><stop offset=".62" stop-color="#ea4f66"/><stop offset=".64" stop-color="#e94864"/><stop offset=".66" stop-color="#e84263"/><stop offset=".68" stop-color="#e83d62"/><stop offset=".7" stop-color="#e83a61"/><stop offset=".72" stop-color="#e83860"/><stop offset=".74" stop-color="#e8375f"/><stop offset=".76" stop-color="#e8375e"/><stop offset=".78" stop-color="#e8375d"/><stop offset=".8" stop-color="#e8365a"/><stop offset=".82" stop-color="#e83656"/><stop offset=".84" stop-color="#e83552"/><stop offset=".86" stop-color="#e8344e"/><stop offset=".88" stop-color="#e8344a"/><stop offset=".9" stop-color="#e83446"/><stop offset=".92" stop-color="#e83442"/><stop offset=".94" stop-color="#e8343f"/><stop offset=".96" stop-color="#e8343d"/><stop offset=".98" stop-color="#e8333b"/></linearGradient>
<linearGradient id="r33" gradientUnits="userSpaceOnUse" x1="120" x2="880"><stop offset=".02" stop-color="#85cdaa"/><stop offset=".04" stop-color="#81cbaa"/><stop offset=".06" stop-color="#7bc8a8"/><stop offset=".08" stop-color="#74c5a5"/><stop offset=".1" stop-color="#6ec3a2"/><stop offset=".12" stop-color="#6bc29f"/><stop offset=".14" stop-color="#68c19e"/><stop offset=".16" stop-color="#65c09d"/><stop offset=".18" stop-color="#5fbe9b"/><stop offset=".2" stop-color="#57b997"/><stop offset=".22" stop-color="#54b394"/><stop offset=".24" stop-color="#5aae91"/><stop offset=".26" stop-color="#6cab8f"/><stop offset=".28" stop-color="#81a98d"/><stop offset=".3" stop-color="#93a58d"/><stop offset=".32" stop-color="#a1a18e"/><stop offset=".34" stop-color="#ac9d8f"/><stop offset=".36" stop-color="#b69990"/><stop offset=".38" stop-color="#be9490"/><stop offset=".4" stop-color="#c68f8e"/><stop offset=".42" stop-color="#ce898b"/><stop offset=".44" stop-color="#d58488"/><stop offset=".46" stop-color="#dc7f84"/><stop offset=".48" stop-color="#e17a81"/><stop offset=".5" stop-color="#e6747e"/><stop offset=".52" stop-color="#e96e7c"/><stop offset=".54" stop-color="#eb6779"/><stop offset=".56" stop-color="#ec6176"/><stop offset=".58" stop-color="#ec5b71"/><stop offset=".6" stop-color="#ec546d"/><stop offset=".62" stop-color="#ea4d6a"/><stop offset=".64" stop-color="#e94767"/><stop offset=".66" stop-color="#e84166"/><stop offset=".68" stop-color="#e83d65"/><stop offset=".7" stop-color="#e83965"/><stop offset=".72" stop-color="#e83764"/><stop offset=".74" stop-color="#e83763"/><stop offset=".76" stop-color="#e93762"/><stop offset=".78" stop-color="#e83761"/><stop offset=".8" stop-color="#e8365e"/><stop offset=".82" stop-color="#e8355a"/><stop offset=".84" stop-color="#e83556"/><stop offset=".86" stop-color="#e83452"/><stop offset=".88" stop-color="#e8344e"/><stop offset=".9" stop-color="#e8344a"/><stop offset=".92" stop-color="#e83446"/><stop offset=".94" stop-color="#e83443"/><stop offset=".96" stop-color="#e83440"/><stop offset=".98" stop-color="#e8333e"/></linearGradient>
<linearGradient id="r34" gradientUnits="userSpaceOnUse" x1="120" x2="880"><stop offset=".02" stop-color="#84cdad"/><stop offset=".04" stop-color="#7fcbac"/><stop offset=".06" stop-color="#79c8aa"/><stop offset=".08" stop-color="#72c5a7"/><stop offset=".1" stop-color="#6cc2a4"/><stop offset=".12" stop-color="#69c1a1"/><stop offset=".14" stop-color="#66c1a0"/><stop offset=".16" stop-color="#63c09f"/><stop offset=".18" stop-color="#5dbd9d"/><stop offset=".2" stop-color="#56b89a"/><stop offset=".22" stop-color="#52b196"/><stop offset=".24" stop-color="#58ac93"/><stop offset=".26" stop-color="#6ba991"/><stop offset=".28" stop-color="#80a78f"/><stop offset=".3" stop-color="#92a38f"/><stop offset=".32" stop-color="#a09f90"/><stop offset=".34" stop-color="#ab9b92"/><stop offset=".36" stop-color="#b59792"/><stop offset=".38" stop-color="#bd9292"/><stop offset=".4" stop-color="#c58d91"/><stop offset=".42" stop-color="#cd878e"/><stop offset=".44" stop-color="#d4828b"/><stop offset=".46" stop-color="#da7d87"/><stop offset=".48" stop-color="#e07884"/><stop offset=".5" stop-color="#e57281"/><stop offset=".52" stop-color="#e86c7f"/><stop offset=".54" stop-color="#eb667c"/><stop offset=".56" stop-color="#ec5f78"/><stop offset=".58" stop-color="#ec5974"/><stop offset=".6" stop-color="#ec5370"/><stop offset=".62" stop-color="#ea4b6d"/><stop offset=".64" stop-color="#e9456b"/><stop offset=".66" stop-color="#e84069"/><stop offset=".68" stop-color="#e83c69"/><stop offset=".7" stop-color="#e83968"/><stop offset=".72" stop-color="#e83767"/><stop offset=".74" stop-color="#e93767"/><stop offset=".76" stop-color="#e93766"/><stop offset=".78" stop-color="#e93764"/><stop offset=".8" stop-color="#e83661"/><stop offset=".82" stop-color="#e8355e"/><stop offset=".84" stop-color="#e8355a"/><stop offset=".86" stop-color="#e83456"/><stop offset=".88" stop-color="#e83452"/><stop offset=".9" stop-color="#e8344e"/><stop offset=".92" stop-color="#e8344a"/><stop offset=".94" stop-color="#e83447"/><stop offset=".96" stop-color="#e83444"/><stop offset=".98" stop-color="#e83341"/></linearGradient>
<linearGradient id="r35" gradientUnits="userSpaceOnUse" x1="120" x2="880"><stop offset=".02" stop-color="#82ccaf"/><stop offset=".04" stop-color="#7dcaae"/><stop offset=".06" stop-color="#77c8ac"/><stop offset=".08" stop-color="#70c4a9"/><stop offset=".1" stop-color="#6ac2a6"/><stop offset=".12" stop-color="#67c0a4"/><stop offset=".14" stop-color="#64c0a2"/><stop offset=".16" stop-color="#61bfa1"/><stop offset=".18" stop-color="#5bbc9f"/><stop offset=".2" stop-color="#54b79c"/><stop offset=".22" stop-color="#51b099"/><stop offset=".24" stop-color="#57ab96"/><stop offset=".26" stop-color="#69a893"/><stop offset=".28" stop-color="#7ea591"/><stop offset=".3" stop-color="#90a291"/><stop offset=".32" stop-color="#9f9e92"/><stop offset=".34" stop-color="#aa9994"/><stop offset=".36" stop-color="#b49594"/><stop offset=".38" stop-color="#bc9094"/><stop offset=".4" stop-color="#c48b93"/><stop offset=".42" stop-color="#cc8590"/><stop offset=".44" stop-color="#d3808e"/><stop offset=".46" stop-color="#d97b8a"/><stop offset=".48" stop-color="#df7687"/><stop offset=".5" stop-color="#e47084"/><stop offset=".52" stop-color="#e76a82"/><stop offset=".54" stop-color="#ea647f"/><stop offset=".56" stop-color="#ec5e7b"/><stop offset=".58" stop-color="#ec5777"/><stop offset=".6" stop-color="#eb5173"/><stop offset=".62" stop-color="#ea4a70"/><stop offset=".64" stop-color="#e9446e"/><stop offset=".66" stop-color="#e83f6d"/><stop offset=".68" stop-color="#e83b6c"/><stop offset=".7" stop-color="#e8396c"/><stop offset=".72" stop-color="#e9376b"/><stop offset=".74" stop-color="#e9376a"/><stop offset=".76" stop-color="#e9376a"/><stop offset=".78" stop-color="#e93768"/><stop offset=".8" stop-color="#e83665"/><stop offset=".82" stop-color="#e83561"/><stop offset=".84" stop-color="#e8355e"/><stop offset=".86" stop-color="#e8345a"/><stop offset=".88" stop-color="#e83456"/><stop offset=".9" stop-color="#e83451"/><stop offset=".92" stop-color="#e8344e"/><stop offset=".94" stop-color="#e8344a"/><stop offset=".96" stop-color="#e83447"/><stop offset=".98" stop-color="#e83345"/></linearGradient>
<linearGradient id="r36" gradientUnits="userSpaceOnUse" x1="120" x2="880"><stop offset=".02" stop-color="#80ccb1"/><stop offset=".04" stop-color="#7ccab0"/><stop offset=".06" stop-color="#75c7af"/><stop offset=".08" stop-color="#6ec4ac"/><stop offset=".1" stop-color="#68c1a8"/><stop offset=".12" stop-color="#65c0a6"/><stop offset=".14" stop-color="#62bfa4"/><stop offset=".16" stop-color="#5fbea3"/><stop offset=".18" stop-color="#5abca1"/><stop offset=".2" stop-color="#53b69e"/><stop offset=".22" stop-color="#4faf9b"/><stop offset=".24" stop-color="#55a998"/><stop offset=".26" stop-color="#67a696"/><stop offset=".28" stop-color="#7ca493"/><stop offset=".3" stop-color="#8fa093"/><stop offset=".32" stop-color="#9d9c95"/><stop offset=".34" stop-color="#a99796"/><stop offset=".36" stop-color="#b29397"/><stop offset=".38" stop-color="#bb8e97"/><stop offset=".4" stop-color="#c38995"/><stop offset=".42" stop-color="#cb8393"/><stop offset=".44" stop-color="#d27e90"/><stop offset=".46" stop-color="#d8798d"/><stop offset=".48" stop-color="#de7489"/><stop offset=".5" stop-color="#e36f87"/><stop offset=".52" stop-color="#e76984"/><stop offset=".54" stop-color="#e96282"/><stop offset=".56" stop-color="#eb5c7e"/><stop offset=".58" stop-color="#ec557a"/><stop offset=".6" stop-color="#eb4f77"/><stop offset=".62" stop-color="#ea4874"/><stop offset=".64" stop-color="#e94271"/><stop offset=".66" stop-color="#e83e70"/><stop offset=".68" stop-color="#e83b6f"/><stop offset=".7" stop-color="#e8386f"/><stop offset=".72" stop-color="#e9376e"/><stop offset=".74" stop-color="#e9376e"/><stop offset=".76" stop-color="#e9376d"/><stop offset=".78" stop-color="#e9366b"/><stop offset=".8" stop-color="#e93668"/><stop offset=".82" stop-color="#e83565"/><stop offset=".84" stop-color="#e83561"/><stop offset=".86" stop-color="#e8345d"/><stop offset=".88" stop-color="#e83459"/><stop offset=".9" stop-color="#e83455"/><stop offset=".92" stop-color="#e83451"/><stop offset=".94" stop-color="#e8344e"/><stop offset=".96" stop-color="#e8344b"/></linearGradient>
<linearGradient id="r37" gradientUnits="userSpaceOnUse" x1="120" x2="880"><stop offset=".02" stop-color="#7fccb3"/><stop offset=".04" stop-color="#7acab2"/><stop offset=".06" stop-color="#73c7b1"/><stop offset=".08" stop-color="#6cc4ae"/><stop offset=".1" stop-color="#66c1aa"/><stop offset=".12" stop-color="#63bfa8"/><stop offset=".14" stop-color="#60bea6"/><stop offset=".16" stop-color="#5dbda5"/><stop offset=".18" stop-color="#58bba3"/><stop offset=".2" stop-color="#52b5a1"/><stop offset=".22" stop-color="#4eae9d"/><stop offset=".24" stop-color="#53a79a"/><stop offset=".26" stop-color="#66a498"/><stop offset=".28" stop-color="#7ba296"/><stop offset=".3" stop-color="#8e9e96"/><stop offset=".32" stop-color="#9c9a97"/><stop offset=".34" stop-color="#a79598"/><stop offset=".36" stop-color="#b19199"/><stop offset=".38" stop-color="#ba8c99"/><stop offset=".4" stop-color="#c28797"/><stop offset=".42" stop-color="#ca8195"/><stop offset=".44" stop-color="#d17c92"/><stop offset=".46" stop-color="#d7788f"/><stop offset=".48" stop-color="#dd738c"/><stop offset=".5" stop-color="#e26d89"/><stop offset=".52" stop-color="#e66787"/><stop offset=".54" stop-color="#e96184"/><stop offset=".56" stop-color="#eb5a81"/><stop offset=".58" stop-color="#ec537d"/><stop offset=".6" stop-color="#eb4d7a"/><stop offset=".62" stop-color="#ea4677"/><stop offset=".64" stop-color="#e94175"/><stop offset=".66" stop-color="#e83d73"/><stop offset=".68" stop-color="#e83a73"/><stop offset=".7" stop-color="#e93872"/><stop offset=".72" stop-color="#e93772"/><stop offset=".74" stop-color="#e93671"/><stop offset=".76" stop-color="#e93670"/><stop offset=".78" stop-color="#e9366f"/><stop offset=".8" stop-color="#e9366c"/><stop offset=".82" stop-color="#e93569"/><stop offset=".84" stop-color="#e83465"/><stop offset=".86" stop-color="#e83461"/><stop offset=".88" stop-color="#e8345d"/><stop offset=".9" stop-color="#e83459"/><stop offset=".92" stop-color="#e83455"/><stop offset=".94" stop-color="#e83452"/><stop offset=".96" stop-color="#e8344e"/></linearGradient>
<linearGradient id="r38" gradientUnits="userSpaceOnUse" x1="120" x2="880"><stop offset=".02" stop-color="#7dccb6"/><stop offset=".04" stop-color="#78cab5"/><stop offset=".06" stop-color="#71c7b3"/><stop offset=".08" stop-color="#6ac3b0"/><stop offset=".1" stop-color="#64c0ac"/><stop offset=".12" stop-color="#61beaa"/><stop offset=".14" stop-color="#5ebda8"/><stop offset=".16" stop-color="#5bbda7"/><stop offset=".18" stop-color="#57baa5"/><stop offset=".2" stop-color="#51b5a3"/><stop offset=".22" stop-color="#4dada0"/><stop offset=".24" stop-color="#52a69d"/><stop offset=".26" stop-color="#64a29a"/><stop offset=".28" stop-color="#79a098"/><stop offset=".3" stop-color="#8c9c98"/><stop offset=".32" stop-color="#9b9899"/><stop offset=".34" stop-color="#a6949a"/><stop offset=".36" stop-color="#b08f9a"/><stop offset=".38" stop-color="#b98a9b"/><stop offset=".4" stop-color="#c18599"/><stop offset=".42" stop-color="#c97f96"/><stop offset=".44" stop-color="#d07a94"/><stop offset=".46" stop-color="#d67692"/><stop offset=".48" stop-color="#dc718f"/><stop offset=".5" stop-color="#e16b8c"/><stop offset=".52" stop-color="#e56589"/><stop offset=".54" stop-color="#e85f86"/><stop offset=".56" stop-color="#ea5883"/><stop offset=".58" stop-color="#eb5180"/><stop offset=".6" stop-color="#eb4b7d"/><stop offset=".62" stop-color="#ea457a"/><stop offset=".64" stop-color="#e94078"/><stop offset=".66" stop-color="#e93c76"/><stop offset=".68" stop-color="#e83a76"/><stop offset=".7" stop-color="#e93875"/><stop offset=".72" stop-color="#e93775"/><stop offset=".74" stop-color="#e93674"/><stop offset=".76" stop-color="#e93673"/><stop offset=".78" stop-color="#e93672"/><stop offset=".8" stop-color="#e9366f"/><stop offset=".82" stop-color="#e9356c"/><stop offset=".84" stop-color="#e83468"/><stop offset=".86" stop-color="#e83465"/><stop offset=".88" stop-color="#e83461"/><stop offset=".9" stop-color="#e8345d"/><stop offset=".92" stop-color="#e83459"/><stop offset=".94" stop-color="#e83455"/><stop offset=".96" stop-color="#e83352"/></linearGradient>
<linearGradient id="r39" gradientUnits="userSpaceOnUse" x1="120" x2="880"><stop offset=".02" stop-color="#7bccb8"/><stop offset=".04" stop-color="#76c9b7"/><stop offset=".06" stop-color="#6fc6b6"/><stop offset=".08" stop-color="#68c3b3"/><stop offset=".1" stop-color="#62c0af"/><stop offset=".12" stop-color="#5fbeab"/><stop offset=".14" stop-color="#5cbdaa"/><stop offset=".16" stop-color="#59bca9"/><stop offset=".18" stop-color="#55b9a7"/><stop offset=".2" stop-color="#50b4a5"/><stop offset=".22" stop-color="#4caba2"/><stop offset=".24" stop-color="#51a49f"/><stop offset=".26" stop-color="#62a09c"/><stop offset=".28" stop-color="#779e9a"/><stop offset=".3" stop-color="#8b9a9a"/><stop offset=".32" stop-color="#99969b"/><stop offset=".34" stop-color="#a5929c"/><stop offset=".36" stop-color="#af8d9c"/><stop offset=".38" stop-color="#b8889d"/><stop offset=".4" stop-color="#c0839b"/><stop offset=".42" stop-color="#c87d98"/><stop offset=".44" stop-color="#cf7997"/><stop offset=".46" stop-color="#d57494"/><stop offset=".48" stop-color="#db6f91"/><stop offset=".5" stop-color="#e06a8e"/><stop offset=".52" stop-color="#e4648b"/><stop offset=".54" stop-color="#e75d89"/><stop offset=".56" stop-color="#ea5686"/><stop offset=".58" stop-color="#eb4f82"/><stop offset=".6" stop-color="#eb4980"/><stop offset=".62" stop-color="#ea437d"/><stop offset=".64" stop-color="#e93f7b"/><stop offset=".66" stop-color="#e93c7a"/><stop offset=".68" stop-color="#e93979"/><stop offset=".7" stop-color="#e93878"/><stop offset=".72" stop-color="#e93778"/><stop offset=".74" stop-color="#e93677"/><stop offset=".76" stop-color="#e93676"/><stop offset=".78" stop-color="#e93675"/><stop offset=".8" stop-color="#e93572"/><stop offset=".82" stop-color="#e9356f"/><stop offset=".84" stop-color="#e9346c"/><stop offset=".86" stop-color="#e83468"/><stop offset=".88" stop-color="#e83465"/><stop offset=".9" stop-color="#e83461"/><stop offset=".92" stop-color="#e8345c"/><stop offset=".94" stop-color="#e83459"/><stop offset=".96" stop-color="#e83355"/></linearGradient>
<linearGradient id="r40" gradientUnits="userSpaceOnUse" x1="120" x2="880"><stop offset=".02" stop-color="#79cbba"/><stop offset=".04" stop-color="#74c9ba"/><stop offset=".06" stop-color="#6dc6b8"/><stop offset=".08" stop-color="#66c3b5"/><stop offset=".1" stop-color="#61bfb1"/><stop offset=".12" stop-color="#5dbdad"/><stop offset=".14" stop-color="#5abcac"/><stop offset=".16" stop-color="#58bbab"/><stop offset=".18" stop-color="#54b8aa"/><stop offset=".2" stop-color="#4fb3a7"/><stop offset=".22" stop-color="#4baaa4"/><stop offset=".24" stop-color="#50a3a1"/><stop offset=".26" stop-color="#619e9f"/><stop offset=".28" stop-color="#769c9d"/><stop offset=".3" stop-color="#89989c"/><stop offset=".32" stop-color="#98949d"/><stop offset=".34" stop-color="#a4909e"/><stop offset=".36" stop-color="#ae8b9e"/><stop offset=".38" stop-color="#b7869f"/><stop offset=".4" stop-color="#bf819d"/><stop offset=".42" stop-color="#c67b9a"/><stop offset=".44" stop-color="#cd7799"/><stop offset=".46" stop-color="#d47296"/><stop offset=".48" stop-color="#da6e93"/><stop offset=".5" stop-color="#df6890"/><stop offset=".52" stop-color="#e3628d"/><stop offset=".54" stop-color="#e65b8b"/><stop offset=".56" stop-color="#e95488"/><stop offset=".58" stop-color="#ea4d85"/><stop offset=".6" stop-color="#eb4782"/><stop offset=".62" stop-color="#ea4180"/><stop offset=".64" stop-color="#e93e7e"/><stop offset=".66" stop-color="#e93b7c"/><stop offset=".68" stop-color="#e9397c"/><stop offset=".7" stop-color="#e9387b"/><stop offset=".72" stop-color="#e9377b"/><stop offset=".74" stop-color="#e9367a"/><stop offset=".76" stop-color="#e93679"/><stop offset=".78" stop-color="#e93677"/><stop offset=".8" stop-color="#e93575"/><stop offset=".82" stop-color="#e93572"/><stop offset=".84" stop-color="#e9346f"/><stop offset=".86" stop-color="#e8346c"/><stop offset=".88" stop-color="#e83468"/><stop offset=".9" stop-color="#e83464"/><stop offset=".92" stop-color="#e83460"/><stop offset=".94" stop-color="#e8345c"/><stop offset=".96" stop-color="#e83358"/></linearGradient>
<linearGradient id="r41" gradientUnits="userSpaceOnUse" x1="120" x2="880"><stop offset=".02" stop-color="#77cbbd"/><stop offset=".04" stop-color="#72c9bc"/><stop offset=".06" stop-color="#6bc6bb"/><stop offset=".08" stop-color="#64c2b7"/><stop offset=".1" stop-color="#5fbeb3"/><stop offset=".12" stop-color="#5bbcaf"/><stop offset=".14" stop-color="#59baae"/><stop offset=".16" stop-color="#56b9ad"/><stop offset=".18" stop-color="#53b7ac"/><stop offset=".2" stop-color="#4eb2aa"/><stop offset=".22" stop-color="#4aa9a7"/><stop offset=".24" stop-color="#4ea1a4"/><stop offset=".26" stop-color="#5f9ca1"/><stop offset=".28" stop-color="#74999f"/><stop offset=".3" stop-color="#87969f"/><stop offset=".32" stop-color="#97939f"/><stop offset=".34" stop-color="#a38ea0"/><stop offset=".36" stop-color="#ad89a0"/><stop offset=".38" stop-color="#b684a0"/><stop offset=".4" stop-color="#be7f9f"/><stop offset=".42" stop-color="#c5799c"/><stop offset=".44" stop-color="#cc759a"/><stop offset=".46" stop-color="#d37198"/><stop offset=".48" stop-color="#d96c95"/><stop offset=".5" stop-color="#de6792"/><stop offset=".52" stop-color="#e2608f"/><stop offset=".54" stop-color="#e6598d"/><stop offset=".56" stop-color="#e8528a"/><stop offset=".58" stop-color="#ea4b87"/><stop offset=".6" stop-color="#ea4585"/><stop offset=".62" stop-color="#ea4083"/><stop offset=".64" stop-color="#e93d81"/><stop offset=".66" stop-color="#e93b7f"/><stop offset=".68" stop-color="#e9397e"/><stop offset=".7" stop-color="#e9387e"/><stop offset=".72" stop-color="#e9377d"/><stop offset=".74" stop-color="#e9367d"/><stop offset=".76" stop-color="#ea367c"/><stop offset=".78" stop-color="#ea367a"/><stop offset=".8" stop-color="#e93578"/><stop offset=".82" stop-color="#e93575"/><stop offset=".84" stop-color="#e93472"/><stop offset=".86" stop-color="#e8346f"/><stop offset=".88" stop-color="#e8346c"/><stop offset=".9" stop-color="#e83468"/><stop offset=".92" stop-color="#e83463"/><stop offset=".94" stop-color="#e8345f"/></linearGradient>
<linearGradient id="r42" gradientUnits="userSpaceOnUse" x1="120" x2="880"><stop offset=".02" stop-color="#76cbbf"/><stop offset=".04" stop-color="#70c8be"/><stop offset=".06" stop-color="#69c5bd"/><stop offset=".08" stop-color="#62c2ba"/><stop offset=".1" stop-color="#5dbeb5"/><stop offset=".12" stop-color="#59bbb1"/><stop offset=".14" stop-color="#57b9b0"/><stop offset=".16" stop-color="#55b8af"/><stop offset=".18" stop-color="#52b6ae"/><stop offset=".2" stop-color="#4db1ac"/><stop offset=".22" stop-color="#49a7a9"/><stop offset=".24" stop-color="#4d9fa6"/><stop offset=".26" stop-color="#5d9aa3"/><stop offset=".28" stop-color="#7297a1"/><stop offset=".3" stop-color="#8695a1"/><stop offset=".32" stop-color="#9591a1"/><stop offset=".34" stop-color="#a28ca2"/><stop offset=".36" stop-color="#ac87a2"/><stop offset=".38" stop-color="#b582a2"/><stop offset=".4" stop-color="#bd7da1"/><stop offset=".42" stop-color="#c4779f"/><stop offset=".44" stop-color="#cb739c"/><stop offset=".46" stop-color="#d26f9a"/><stop offset=".48" stop-color="#d76b97"/><stop offset=".5" stop-color="#dd6594"/><stop offset=".52" stop-color="#e15e91"/><stop offset=".54" stop-color="#e5578f"/><stop offset=".56" stop-color="#e8508c"/><stop offset=".58" stop-color="#ea4889"/><stop offset=".6" stop-color="#ea4387"/><stop offset=".62" stop-color="#e93e86"/><stop offset=".64" stop-color="#e93c83"/><stop offset=".66" stop-color="#e83a82"/><stop offset=".68" stop-color="#e93981"/><stop offset=".7" stop-color="#e93881"/><stop offset=".72" stop-color="#e93780"/><stop offset=".74" stop-color="#e9367f"/><stop offset=".76" stop-color="#ea367e"/><stop offset=".78" stop-color="#ea357c"/><stop offset=".8" stop-color="#e9357a"/><stop offset=".82" stop-color="#e93478"/><stop offset=".84" stop-color="#e93475"/><stop offset=".86" stop-color="#e83472"/><stop offset=".88" stop-color="#e8346f"/><stop offset=".9" stop-color="#e8346b"/><stop offset=".92" stop-color="#e83467"/><stop offset=".94" stop-color="#e83463"/></linearGradient>
<linearGradient id="r43" gradientUnits="userSpaceOnUse" x1="120" x2="880"><stop offset=".02" stop-color="#74cac1"/><stop offset=".04" stop-color="#6ec8c1"/><stop offset=".06" stop-color="#67c5bf"/><stop offset=".08" stop-color="#61c1bc"/><stop offset=".1" stop-color="#5cbdb7"/><stop offset=".12" stop-color="#58bab3"/><stop offset=".14" stop-color="#55b8b2"/><stop offset=".16" stop-color="#53b7b1"/><stop offset=".18" stop-color="#50b5b0"/><stop offset=".2" stop-color="#4cafae"/><stop offset=".22" stop-color="#47a6ab"/><stop offset=".24" stop-color="#4b9da8"/><stop offset=".26" stop-color="#5c98a5"/><stop offset=".28" stop-color="#7095a3"/><stop offset=".3" stop-color="#8493a3"/><stop offset=".32" stop-color="#948fa3"/><stop offset=".34" stop-color="#a08ba4"/><stop offset=".36" stop-color="#ab86a4"/><stop offset=".38" stop-color="#b480a4"/><stop offset=".4" stop-color="#bc7ba3"/><stop offset=".42" stop-color="#c376a0"/><stop offset=".44" stop-color="#ca719e"/><stop offset=".46" stop-color="#d06d9b"/><stop offset=".48" stop-color="#d66998"/><stop offset=".5" stop-color="#db6395"/><stop offset=".52" stop-color="#e05d93"/><stop offset=".54" stop-color="#e45590"/><stop offset=".56" stop-color="#e74e8e"/><stop offset=".58" stop-color="#e9468b"/><stop offset=".6" stop-color="#ea4189"/><stop offset=".62" stop-color="#e93d88"/><stop offset=".64" stop-color="#e93b86"/><stop offset=".66" stop-color="#e83a84"/><stop offset=".68" stop-color="#e83984"/><stop offset=".7" stop-color="#e93883"/><stop offset=".72" stop-color="#e93782"/><stop offset=".74" stop-color="#e93681"/><stop offset=".76" stop-color="#ea3680"/><stop offset=".78" stop-color="#ea357f"/><stop offset=".8" stop-color="#ea357d"/><stop offset=".82" stop-color="#e9347b"/><stop offset=".84" stop-color="#e93478"/><stop offset=".86" stop-color="#e93475"/><stop offset=".88" stop-color="#e83472"/><stop offset=".9" stop-color="#e8346e"/><stop offset=".92" stop-color="#e8346a"/><stop offset=".94" stop-color="#e83466"/></linearGradient>
<linearGradient id="r44" gradientUnits="userSpaceOnUse" x1="120" x2="880"><stop offset=".02" stop-color="#72cac3"/><stop offset=".04" stop-color="#6cc8c3"/><stop offset=".06" stop-color="#66c4c2"/><stop offset=".08" stop-color="#5fc1be"/><stop offset=".1" stop-color="#5abcba"/><stop offset=".12" stop-color="#56b9b6"/><stop offset=".14" stop-color="#54b7b4"/><stop offset=".16" stop-color="#52b5b3"/><stop offset=".18" stop-color="#4fb3b2"/><stop offset=".2" stop-color="#4badb0"/><stop offset=".22" stop-color="#46a4ad"/><stop offset=".24" stop-color="#4a9baa"/><stop offset=".26" stop-color="#5a96a7"/><stop offset=".28" stop-color="#6f93a5"/><stop offset=".3" stop-color="#8291a5"/><stop offset=".32" stop-color="#938da5"/><stop offset=".34" stop-color="#9f89a5"/><stop offset=".36" stop-color="#aa84a6"/><stop offset=".38" stop-color="#b37ea6"/><stop offset=".4" stop-color="#bb79a4"/><stop offset=".42" stop-color="#c274a2"/><stop offset=".44" stop-color="#c970a0"/><stop offset=".46" stop-color="#cf6c9d"/><stop offset=".48" stop-color="#d5689a"/><stop offset=".5" stop-color="#da6297"/><stop offset=".52" stop-color="#df5b94"/><stop offset=".54" stop-color="#e35492"/><stop offset=".56" stop-color="#e64c8f"/><stop offset=".58" stop-color="#e8448d"/><stop offset=".6" stop-color="#e93f8b"/><stop offset=".62" stop-color="#e93c8a"/><stop offset=".64" stop-color="#e83a88"/><stop offset=".66" stop-color="#e83a87"/><stop offset=".68" stop-color="#e83986"/><stop offset=".7" stop-color="#e93885"/><stop offset=".72" stop-color="#e93785"/><stop offset=".74" stop-color="#e93684"/><stop offset=".76" stop-color="#ea3682"/><stop offset=".78" stop-color="#ea3581"/><stop offset=".8" stop-color="#ea357f"/><stop offset=".82" stop-color="#e9347d"/><stop offset=".84" stop-color="#e9347b"/><stop offset=".86" stop-color="#e93478"/><stop offset=".88" stop-color="#e83475"/><stop offset=".9" stop-color="#e83471"/><stop offset=".92" stop-color="#e8346d"/><stop offset=".94" stop-color="#e83469"/></linearGradient>
<linearGradient id="r45" gradientUnits="userSpaceOnUse" x1="120" x2="880"><stop offset=".02" stop-color="#71cac6"/><stop offset=".04" stop-color="#6bc7c5"/><stop offset=".06" stop-color="#64c4c4"/><stop offset=".08" stop-color="#5ec0c1"/><stop offset=".1" stop-color="#59bbbc"/><stop offset=".12" stop-color="#55b8b8"/><stop offset=".14" stop-color="#53b5b5"/><stop offset=".16" stop-color="#51b4b4"/><stop offset=".18" stop-color="#4eb1b4"/><stop offset=".2" stop-color="#49abb2"/><stop offset=".22" stop-color="#45a2af"/><stop offset=".24" stop-color="#4899ac"/><stop offset=".26" stop-color="#5894a9"/><stop offset=".28" stop-color="#6d92a7"/><stop offset=".3" stop-color="#818fa6"/><stop offset=".32" stop-color="#918ba6"/><stop offset=".34" stop-color="#9e87a7"/><stop offset=".36" stop-color="#a982a7"/><stop offset=".38" stop-color="#b27ca7"/><stop offset=".4" stop-color="#ba77a6"/><stop offset=".42" stop-color="#c172a4"/><stop offset=".44" stop-color="#c86ea1"/><stop offset=".46" stop-color="#ce6b9e"/><stop offset=".48" stop-color="#d4669b"/><stop offset=".5" stop-color="#d96098"/><stop offset=".52" stop-color="#de5a96"/><stop offset=".54" stop-color="#e25293"/><stop offset=".56" stop-color="#e54a91"/><stop offset=".58" stop-color="#e8438f"/><stop offset=".6" stop-color="#e93d8d"/><stop offset=".62" stop-color="#e83b8c"/><stop offset=".64" stop-color="#e83a8a"/><stop offset=".66" stop-color="#e83989"/><stop offset=".68" stop-color="#e83988"/><stop offset=".7" stop-color="#e93887"/><stop offset=".72" stop-color="#e93787"/><stop offset=".74" stop-color="#e93686"/><stop offset=".76" stop-color="#ea3684"/><stop offset=".78" stop-color="#ea3583"/><stop offset=".8" stop-color="#ea3581"/><stop offset=".82" stop-color="#e93480"/><stop offset=".84" stop-color="#e9347e"/><stop offset=".86" stop-color="#e9347b"/><stop offset=".88" stop-color="#e83478"/><stop offset=".9" stop-color="#e83474"/><stop offset=".92" stop-color="#e83470"/><stop offset=".94" stop-color="#e8346c"/></linearGradient>
<linearGradient id="r46" gradientUnits="userSpaceOnUse" x1="120" x2="880"><stop offset=".02" stop-color="#6fc9c8"/><stop offset=".04" stop-color="#69c7c7"/><stop offset=".06" stop-color="#63c3c6"/><stop offset=".08" stop-color="#5dbfc3"/><stop offset=".1" stop-color="#58bbbe"/><stop offset=".12" stop-color="#54b6ba"/><stop offset=".14" stop-color="#51b4b7"/><stop offset=".16" stop-color="#4fb2b6"/><stop offset=".18" stop-color="#4cafb5"/><stop offset=".2" stop-color="#48a9b4"/><stop offset=".22" stop-color="#44a0b1"/><stop offset=".24" stop-color="#4797ae"/><stop offset=".26" stop-color="#5692ab"/><stop offset=".28" stop-color="#6b90a8"/><stop offset=".3" stop-color="#7f8da8"/><stop offset=".32" stop-color="#908aa8"/><stop offset=".34" stop-color="#9d85a8"/><stop offset=".36" stop-color="#a880a8"/><stop offset=".38" stop-color="#b17ba8"/><stop offset=".4" stop-color="#b975a7"/><stop offset=".42" stop-color="#c071a5"/><stop offset=".44" stop-color="#c76da2"/><stop offset=".46" stop-color="#cd699f"/><stop offset=".48" stop-color="#d2659c"/><stop offset=".5" stop-color="#d85f99"/><stop offset=".52" stop-color="#dd5897"/><stop offset=".54" stop-color="#e15094"/><stop offset=".56" stop-color="#e44892"/><stop offset=".58" stop-color="#e74190"/><stop offset=".6" stop-color="#e83c8e"/><stop offset=".62" stop-color="#e83a8d"/><stop offset=".64" stop-color="#e83a8c"/><stop offset=".66" stop-color="#e8398b"/><stop offset=".68" stop-color="#e8398a"/><stop offset=".7" stop-color="#e83889"/><stop offset=".72" stop-color="#e93889"/><stop offset=".74" stop-color="#e93788"/><stop offset=".76" stop-color="#e93686"/><stop offset=".78" stop-color="#ea3585"/><stop offset=".8" stop-color="#ea3484"/><stop offset=".82" stop-color="#e93482"/><stop offset=".84" stop-color="#e93480"/><stop offset=".86" stop-color="#e9347e"/><stop offset=".88" stop-color="#e8347b"/><stop offset=".9" stop-color="#e83477"/><stop offset=".92" stop-color="#e83473"/></linearGradient>
<linearGradient id="r47" gradientUnits="userSpaceOnUse" x1="120" x2="880"><stop offset=".04" stop-color="#68c6c9"/><stop offset=".06" stop-color="#62c3c8"/><stop offset=".08" stop-color="#5cbfc5"/><stop offset=".1" stop-color="#57bac0"/><stop offset=".12" stop-color="#53b5bc"/><stop offset=".14" stop-color="#50b2b9"/><stop offset=".16" stop-color="#4eb0b8"/><stop offset=".18" stop-color="#4badb7"/><stop offset=".2" stop-color="#47a7b6"/><stop offset=".22" stop-color="#439eb3"/><stop offset=".24" stop-color="#4695b0"/><stop offset=".26" stop-color="#5591ad"/><stop offset=".28" stop-color="#6a8eaa"/><stop offset=".3" stop-color="#7e8ba9"/><stop offset=".32" stop-color="#8f88a9"/><stop offset=".34" stop-color="#9c84a9"/><stop offset=".36" stop-color="#a77fa9"/><stop offset=".38" stop-color="#b079a9"/><stop offset=".4" stop-color="#b874a8"/><stop offset=".42" stop-color="#bf6fa6"/><stop offset=".44" stop-color="#c56ba3"/><stop offset=".46" stop-color="#cb68a0"/><stop offset=".48" stop-color="#d1649d"/><stop offset=".5" stop-color="#d65e9a"/><stop offset=".52" stop-color="#db5798"/><stop offset=".54" stop-color="#e04f95"/><stop offset=".56" stop-color="#e34793"/><stop offset=".58" stop-color="#e64091"/><stop offset=".6" stop-color="#e73b90"/><stop offset=".62" stop-color="#e73a8f"/><stop offset=".64" stop-color="#e73a8d"/><stop offset=".66" stop-color="#e73a8c"/><stop offset=".68" stop-color="#e8398c"/><stop offset=".7" stop-color="#e8398b"/><stop offset=".72" stop-color="#e9388a"/><stop offset=".74" stop-color="#e93789"/><stop offset=".76" stop-color="#e93688"/><stop offset=".78" stop-color="#ea3587"/><stop offset=".8" stop-color="#ea3486"/><stop offset=".82" stop-color="#e93484"/><stop offset=".84" stop-color="#e93483"/><stop offset=".86" stop-color="#e93480"/><stop offset=".88" stop-color="#e8347e"/><stop offset=".9" stop-color="#e8347a"/><stop offset=".92" stop-color="#e83476"/></linearGradient>
<linearGradient id="r48" gradientUnits="userSpaceOnUse" x1="120" x2="880"><stop offset=".04" stop-color="#66c6cb"/><stop offset=".06" stop-color="#60c2ca"/><stop offset=".08" stop-color="#5bbec7"/><stop offset=".1" stop-color="#56b9c3"/><stop offset=".12" stop-color="#52b4be"/><stop offset=".14" stop-color="#4fb1bb"/><stop offset=".16" stop-color="#4dafba"/><stop offset=".18" stop-color="#4aabb9"/><stop offset=".2" stop-color="#46a5b8"/><stop offset=".22" stop-color="#429cb5"/><stop offset=".24" stop-color="#4494b2"/><stop offset=".26" stop-color="#538fae"/><stop offset=".28" stop-color="#688cac"/><stop offset=".3" stop-color="#7d8aab"/><stop offset=".32" stop-color="#8e86aa"/><stop offset=".34" stop-color="#9b82aa"/><stop offset=".36" stop-color="#a67daa"/><stop offset=".38" stop-color="#af77aa"/><stop offset=".4" stop-color="#b772a9"/><stop offset=".42" stop-color="#be6ea7"/><stop offset=".44" stop-color="#c46aa4"/><stop offset=".46" stop-color="#ca67a1"/><stop offset=".48" stop-color="#d0629e"/><stop offset=".5" stop-color="#d55d9b"/><stop offset=".52" stop-color="#da5599"/><stop offset=".54" stop-color="#de4e96"/><stop offset=".56" stop-color="#e24694"/><stop offset=".58" stop-color="#e53e92"/><stop offset=".6" stop-color="#e73a91"/><stop offset=".62" stop-color="#e73a90"/><stop offset=".64" stop-color="#e73a8f"/><stop offset=".66" stop-color="#e73a8e"/><stop offset=".68" stop-color="#e73a8d"/><stop offset=".7" stop-color="#e8398d"/><stop offset=".72" stop-color="#e8388c"/><stop offset=".74" stop-color="#e9378b"/><stop offset=".76" stop-color="#e9368a"/><stop offset=".78" stop-color="#ea3589"/><stop offset=".8" stop-color="#ea3487"/><stop offset=".82" stop-color="#e93486"/><stop offset=".84" stop-color="#e93485"/><stop offset=".86" stop-color="#e93483"/><stop offset=".88" stop-color="#e83480"/><stop offset=".9" stop-color="#e8347d"/><stop offset=".92" stop-color="#e83478"/></linearGradient>
<linearGradient id="r49" gradientUnits="userSpaceOnUse" x1="120" x2="880"><stop offset=".04" stop-color="#65c5cd"/><stop offset=".06" stop-color="#5fc2cc"/><stop offset=".08" stop-color="#5abdc9"/><stop offset=".1" stop-color="#55b8c5"/><stop offset=".12" stop-color="#51b3c0"/><stop offset=".14" stop-color="#4eafbd"/><stop offset=".16" stop-color="#4cadbc"/><stop offset=".18" stop-color="#49aabb"/><stop offset=".2" stop-color="#45a4ba"/><stop offset=".22" stop-color="#419bb7"/><stop offset=".24" stop-color="#4392b3"/><stop offset=".26" stop-color="#528db0"/><stop offset=".28" stop-color="#678bad"/><stop offset=".3" stop-color="#7b88ac"/><stop offset=".32" stop-color="#8c84ab"/><stop offset=".34" stop-color="#9a81ab"/><stop offset=".36" stop-color="#a57cab"/><stop offset=".38" stop-color="#ae76aa"/><stop offset=".4" stop-color="#b671a9"/><stop offset=".42" stop-color="#bc6da7"/><stop offset=".44" stop-color="#c369a5"/><stop offset=".46" stop-color="#c965a2"/><stop offset=".48" stop-color="#ce619f"/><stop offset=".5" stop-color="#d45b9c"/><stop offset=".52" stop-color="#d95499"/><stop offset=".54" stop-color="#dd4c97"/><stop offset=".56" stop-color="#e14595"/><stop offset=".58" stop-color="#e43e94"/><stop offset=".6" stop-color="#e63a92"/><stop offset=".62" stop-color="#e63a91"/><stop offset=".64" stop-color="#e63a90"/><stop offset=".66" stop-color="#e63a8f"/><stop offset=".68" stop-color="#e73a8f"/><stop offset=".7" stop-color="#e7398e"/><stop offset=".72" stop-color="#e8388d"/><stop offset=".74" stop-color="#e9378c"/><stop offset=".76" stop-color="#e9368b"/><stop offset=".78" stop-color="#e9358a"/><stop offset=".8" stop-color="#ea3489"/><stop offset=".82" stop-color="#e93488"/><stop offset=".84" stop-color="#e93487"/><stop offset=".86" stop-color="#e93485"/><stop offset=".88" stop-color="#e83483"/><stop offset=".9" stop-color="#e8347f"/><stop offset=".92" stop-color="#e7347b"/></linearGradient>
<linearGradient id="r50" gradientUnits="userSpaceOnUse" x1="120" x2="880"><stop offset=".04" stop-color="#64c4cf"/><stop offset=".06" stop-color="#5ec1ce"/><stop offset=".08" stop-color="#59bccb"/><stop offset=".1" stop-color="#54b7c7"/><stop offset=".12" stop-color="#50b1c2"/><stop offset=".14" stop-color="#4daebf"/><stop offset=".16" stop-color="#4babbd"/><stop offset=".18" stop-color="#48a8bd"/><stop offset=".2" stop-color="#44a2bc"/><stop offset=".22" stop-color="#4199b9"/><stop offset=".24" stop-color="#4290b5"/><stop offset=".26" stop-color="#508bb2"/><stop offset=".28" stop-color="#6689af"/><stop offset=".3" stop-color="#7a86ad"/><stop offset=".32" stop-color="#8b83ac"/><stop offset=".34" stop-color="#997fac"/><stop offset=".36" stop-color="#a47aab"/><stop offset=".38" stop-color="#ad74ab"/><stop offset=".4" stop-color="#b570aa"/><stop offset=".42" stop-color="#bb6ca8"/><stop offset=".44" stop-color="#c168a5"/><stop offset=".46" stop-color="#c764a3"/><stop offset=".48" stop-color="#cd60a0"/><stop offset=".5" stop-color="#d25a9d"/><stop offset=".52" stop-color="#d7539a"/><stop offset=".54" stop-color="#dc4b98"/><stop offset=".56" stop-color="#df4496"/><stop offset=".58" stop-color="#e33d95"/><stop offset=".6" stop-color="#e53a93"/><stop offset=".62" stop-color="#e53a92"/><stop offset=".64" stop-color="#e63b91"/><stop offset=".66" stop-color="#e63b91"/><stop offset=".68" stop-color="#e63b90"/><stop offset=".7" stop-color="#e73a90"/><stop offset=".72" stop-color="#e8398f"/><stop offset=".74" stop-color="#e8378e"/><stop offset=".76" stop-color="#e9368d"/><stop offset=".78" stop-color="#e9358c"/><stop offset=".8" stop-color="#e9348b"/><stop offset=".82" stop-color="#e9348a"/><stop offset=".84" stop-color="#e93489"/><stop offset=".86" stop-color="#e83488"/><stop offset=".88" stop-color="#e83485"/><stop offset=".9" stop-color="#e83482"/><stop offset=".92" stop-color="#e7347d"/></linearGradient>
<linearGradient id="r51" gradientUnits="userSpaceOnUse" x1="120" x2="880"><stop offset=".04" stop-color="#63c4d1"/><stop offset=".06" stop-color="#5dc0d0"/><stop offset=".08" stop-color="#58bccd"/><stop offset=".1" stop-color="#53b6c9"/><stop offset=".12" stop-color="#4fb0c4"/><stop offset=".14" stop-color="#4cacc0"/><stop offset=".16" stop-color="#4aa9bf"/><stop offset=".18" stop-color="#47a6be"/><stop offset=".2" stop-color="#44a0bd"/><stop offset=".22" stop-color="#4098bb"/><stop offset=".24" stop-color="#428fb7"/><stop offset=".26" stop-color="#4f8ab4"/><stop offset=".28" stop-color="#6587b1"/><stop offset=".3" stop-color="#7985af"/><stop offset=".32" stop-color="#8a81ad"/><stop offset=".34" stop-color="#987dad"/><stop offset=".36" stop-color="#a379ac"/><stop offset=".38" stop-color="#ac73ab"/><stop offset=".4" stop-color="#b36eaa"/><stop offset=".42" stop-color="#ba6ba8"/><stop offset=".44" stop-color="#c067a6"/><stop offset=".46" stop-color="#c663a3"/><stop offset=".48" stop-color="#cc5fa0"/><stop offset=".5" stop-color="#d1599d"/><stop offset=".52" stop-color="#d6529b"/><stop offset=".54" stop-color="#da4b98"/><stop offset=".56" stop-color="#de4397"/><stop offset=".58" stop-color="#e13d95"/><stop offset=".6" stop-color="#e33a94"/><stop offset=".62" stop-color="#e43a93"/><stop offset=".64" stop-color="#e53b92"/><stop offset=".66" stop-color="#e53c92"/><stop offset=".68" stop-color="#e63b91"/><stop offset=".7" stop-color="#e63a91"/><stop offset=".72" stop-color="#e73990"/><stop offset=".74" stop-color="#e8388f"/><stop offset=".76" stop-color="#e9368e"/><stop offset=".78" stop-color="#e9358d"/><stop offset=".8" stop-color="#e9348c"/><stop offset=".82" stop-color="#e9348c"/><stop offset=".84" stop-color="#e9348b"/><stop offset=".86" stop-color="#e8348a"/><stop offset=".88" stop-color="#e83487"/><stop offset=".9" stop-color="#e83484"/><stop offset=".92" stop-color="#e73480"/></linearGradient>
<linearGradient id="r52" gradientUnits="userSpaceOnUse" x1="120" x2="880"><stop offset=".04" stop-color="#61c3d2"/><stop offset=".06" stop-color="#5cc0d1"/><stop offset=".08" stop-color="#57bbcf"/><stop offset=".1" stop-color="#52b5cb"/><stop offset=".12" stop-color="#4eafc5"/><stop offset=".14" stop-color="#4babc2"/><stop offset=".16" stop-color="#49a8c0"/><stop offset=".18" stop-color="#47a4c0"/><stop offset=".2" stop-color="#439fbf"/><stop offset=".22" stop-color="#4096bd"/><stop offset=".24" stop-color="#418db9"/><stop offset=".26" stop-color="#4e88b5"/><stop offset=".28" stop-color="#6385b2"/><stop offset=".3" stop-color="#7883b0"/><stop offset=".32" stop-color="#8980ae"/><stop offset=".34" stop-color="#977cae"/><stop offset=".36" stop-color="#a277ad"/><stop offset=".38" stop-color="#ab72ac"/><stop offset=".4" stop-color="#b26dab"/><stop offset=".42" stop-color="#b869a9"/><stop offset=".44" stop-color="#bf66a6"/><stop offset=".46" stop-color="#c562a3"/><stop offset=".48" stop-color="#ca5ea1"/><stop offset=".5" stop-color="#d0589e"/><stop offset=".52" stop-color="#d4519b"/><stop offset=".54" stop-color="#d94a99"/><stop offset=".56" stop-color="#dc4397"/><stop offset=".58" stop-color="#e03d96"/><stop offset=".6" stop-color="#e23b95"/><stop offset=".62" stop-color="#e43b94"/><stop offset=".64" stop-color="#e43c93"/><stop offset=".66" stop-color="#e53c93"/><stop offset=".68" stop-color="#e53c92"/><stop offset=".7" stop-color="#e63b92"/><stop offset=".72" stop-color="#e73991"/><stop offset=".74" stop-color="#e73890"/><stop offset=".76" stop-color="#e8368f"/><stop offset=".78" stop-color="#e9358e"/><stop offset=".8" stop-color="#e9358e"/><stop offset=".82" stop-color="#e9348d"/><stop offset=".84" stop-color="#e9348d"/><stop offset=".86" stop-color="#e8348c"/><stop offset=".88" stop-color="#e83489"/><stop offset=".9" stop-color="#e73486"/></linearGradient>
<linearGradient id="r53" gradientUnits="userSpaceOnUse" x1="120" x2="880"><stop offset=".04" stop-color="#60c2d3"/><stop offset=".06" stop-color="#5bbfd3"/><stop offset=".08" stop-color="#56bad1"/><stop offset=".1" stop-color="#51b4cc"/><stop offset=".12" stop-color="#4daec7"/><stop offset=".14" stop-color="#4ba9c4"/><stop offset=".16" stop-color="#48a6c2"/><stop offset=".18" stop-color="#46a2c1"/><stop offset=".2" stop-color="#439dc1"/><stop offset=".22" stop-color="#4095be"/><stop offset=".24" stop-color="#408cbb"/><stop offset=".26" stop-color="#4d87b7"/><stop offset=".28" stop-color="#6284b4"/><stop offset=".3" stop-color="#7681b1"/><stop offset=".32" stop-color="#887eaf"/><stop offset=".34" stop-color="#957aae"/><stop offset=".36" stop-color="#a076ad"/><stop offset=".38" stop-color="#aa70ac"/><stop offset=".4" stop-color="#b16cab"/><stop offset=".42" stop-color="#b768a9"/><stop offset=".44" stop-color="#bd65a6"/><stop offset=".46" stop-color="#c361a4"/><stop offset=".48" stop-color="#c95da1"/><stop offset=".5" stop-color="#ce579e"/><stop offset=".52" stop-color="#d3509b"/><stop offset=".54" stop-color="#d74999"/><stop offset=".56" stop-color="#db4398"/><stop offset=".58" stop-color="#de3e97"/><stop offset=".6" stop-color="#e13c96"/><stop offset=".62" stop-color="#e23c95"/><stop offset=".64" stop-color="#e33d94"/><stop offset=".66" stop-color="#e43d94"/><stop offset=".68" stop-color="#e43d93"/><stop offset=".7" stop-color="#e53b93"/><stop offset=".72" stop-color="#e63a92"/><stop offset=".74" stop-color="#e73891"/><stop offset=".76" stop-color="#e83790"/><stop offset=".78" stop-color="#e9358f"/><stop offset=".8" stop-color="#e9358f"/><stop offset=".82" stop-color="#e9358f"/><stop offset=".84" stop-color="#e9348e"/><stop offset=".86" stop-color="#e8348e"/><stop offset=".88" stop-color="#e8348b"/><stop offset=".9" stop-color="#e73488"/></linearGradient>
<linearGradient id="r54" gradientUnits="userSpaceOnUse" x1="120" x2="880"><stop offset=".04" stop-color="#5fc2d5"/><stop offset=".06" stop-color="#5abed4"/><stop offset=".08" stop-color="#55b9d2"/><stop offset=".1" stop-color="#51b3ce"/><stop offset=".12" stop-color="#4dadc9"/><stop offset=".14" stop-color="#4aa8c5"/><stop offset=".16" stop-color="#48a4c3"/><stop offset=".18" stop-color="#45a1c3"/><stop offset=".2" stop-color="#439cc2"/><stop offset=".22" stop-color="#3f94c0"/><stop offset=".24" stop-color="#408bbc"/><stop offset=".26" stop-color="#4c86b9"/><stop offset=".28" stop-color="#6083b5"/><stop offset=".3" stop-color="#7580b2"/><stop offset=".32" stop-color="#867db0"/><stop offset=".34" stop-color="#9479af"/><stop offset=".36" stop-color="#9f75ae"/><stop offset=".38" stop-color="#a86fad"/><stop offset=".4" stop-color="#af6bab"/><stop offset=".42" stop-color="#b568a9"/><stop offset=".44" stop-color="#bc64a7"/><stop offset=".46" stop-color="#c260a4"/><stop offset=".48" stop-color="#c75ca1"/><stop offset=".5" stop-color="#cd569e"/><stop offset=".52" stop-color="#d14f9c"/><stop offset=".54" stop-color="#d54999"/><stop offset=".56" stop-color="#d94398"/><stop offset=".58" stop-color="#dc3f97"/><stop offset=".6" stop-color="#df3d96"/><stop offset=".62" stop-color="#e13d95"/><stop offset=".64" stop-color="#e23e95"/><stop offset=".66" stop-color="#e33e94"/><stop offset=".68" stop-color="#e33d94"/><stop offset=".7" stop-color="#e43c93"/><stop offset=".72" stop-color="#e53a93"/><stop offset=".74" stop-color="#e63892"/><stop offset=".76" stop-color="#e73791"/><stop offset=".78" stop-color="#e83590"/><stop offset=".8" stop-color="#e93590"/><stop offset=".82" stop-color="#e93590"/><stop offset=".84" stop-color="#e83590"/><stop offset=".86" stop-color="#e8348f"/><stop offset=".88" stop-color="#e7348d"/><stop offset=".9" stop-color="#e7348a"/></linearGradient>
<linearGradient id="r55" gradientUnits="userSpaceOnUse" x1="120" x2="880"><stop offset=".04" stop-color="#5ec1d6"/><stop offset=".06" stop-color="#59bdd5"/><stop offset=".08" stop-color="#54b8d3"/><stop offset=".1" stop-color="#50b2d0"/><stop offset=".12" stop-color="#4caccb"/><stop offset=".14" stop-color="#49a7c7"/><stop offset=".16" stop-color="#47a3c5"/><stop offset=".18" stop-color="#449fc4"/><stop offset=".2" stop-color="#429ac3"/><stop offset=".22" stop-color="#3f92c1"/><stop offset=".24" stop-color="#3f8abe"/><stop offset=".26" stop-color="#4a85ba"/><stop offset=".28" stop-color="#5e82b6"/><stop offset=".3" stop-color="#737fb3"/><stop offset=".32" stop-color="#857cb1"/><stop offset=".34" stop-color="#9278af"/><stop offset=".36" stop-color="#9d74ae"/><stop offset=".38" stop-color="#a66fad"/><stop offset=".4" stop-color="#ad6aab"/><stop offset=".42" stop-color="#b467a9"/><stop offset=".44" stop-color="#ba63a7"/><stop offset=".46" stop-color="#c05fa4"/><stop offset=".48" stop-color="#c65ba1"/><stop offset=".5" stop-color="#cb559e"/><stop offset=".52" stop-color="#cf4e9c"/><stop offset=".54" stop-color="#d3489a"/><stop offset=".56" stop-color="#d74398"/><stop offset=".58" stop-color="#db3f97"/><stop offset=".6" stop-color="#de3e96"/><stop offset=".62" stop-color="#e03e96"/><stop offset=".64" stop-color="#e13f95"/><stop offset=".66" stop-color="#e23f95"/><stop offset=".68" stop-color="#e33e95"/><stop offset=".7" stop-color="#e43c94"/><stop offset=".72" stop-color="#e53b94"/><stop offset=".74" stop-color="#e63993"/><stop offset=".76" stop-color="#e73792"/><stop offset=".78" stop-color="#e83691"/><stop offset=".8" stop-color="#e83591"/><stop offset=".82" stop-color="#e93592"/><stop offset=".84" stop-color="#e83592"/><stop offset=".86" stop-color="#e83591"/><stop offset=".88" stop-color="#e7348f"/><stop offset=".9" stop-color="#e7348c"/></linearGradient>
<linearGradient id="r56" gradientUnits="userSpaceOnUse" x1="120" x2="880"><stop offset=".04" stop-color="#5dc0d7"/><stop offset=".06" stop-color="#58bcd6"/><stop offset=".08" stop-color="#53b7d5"/><stop offset=".1" stop-color="#4fb1d1"/><stop offset=".12" stop-color="#4cabcc"/><stop offset=".14" stop-color="#49a5c8"/><stop offset=".16" stop-color="#46a1c6"/><stop offset=".18" stop-color="#449dc5"/><stop offset=".2" stop-color="#4198c4"/><stop offset=".22" stop-color="#3e91c2"/><stop offset=".24" stop-color="#3e89bf"/><stop offset=".26" stop-color="#4984bb"/><stop offset=".28" stop-color="#5d81b7"/><stop offset=".3" stop-color="#717eb3"/><stop offset=".32" stop-color="#837bb1"/><stop offset=".34" stop-color="#9177b0"/><stop offset=".36" stop-color="#9c72ae"/><stop offset=".38" stop-color="#a56ead"/><stop offset=".4" stop-color="#ac69ab"/><stop offset=".42" stop-color="#b266a9"/><stop offset=".44" stop-color="#b962a7"/><stop offset=".46" stop-color="#bf5ea4"/><stop offset=".48" stop-color="#c55aa1"/><stop offset=".5" stop-color="#ca549f"/><stop offset=".52" stop-color="#ce4e9c"/><stop offset=".54" stop-color="#d2489a"/><stop offset=".56" stop-color="#d54398"/><stop offset=".58" stop-color="#d94097"/><stop offset=".6" stop-color="#dc3f97"/><stop offset=".62" stop-color="#df3f96"/><stop offset=".64" stop-color="#e04096"/><stop offset=".66" stop-color="#e14095"/><stop offset=".68" stop-color="#e23f95"/><stop offset=".7" stop-color="#e33d95"/><stop offset=".72" stop-color="#e43b94"/><stop offset=".74" stop-color="#e53994"/><stop offset=".76" stop-color="#e63793"/><stop offset=".78" stop-color="#e73692"/><stop offset=".8" stop-color="#e83692"/><stop offset=".82" stop-color="#e83593"/><stop offset=".84" stop-color="#e83593"/><stop offset=".86" stop-color="#e73592"/><stop offset=".88" stop-color="#e73590"/><stop offset=".9" stop-color="#e7348d"/></linearGradient>
<linearGradient id="r57" gradientUnits="userSpaceOnUse" x1="120" x2="880"><stop offset=".04" stop-color="#5cbfd8"/><stop offset=".06" stop-color="#57bbd7"/><stop offset=".08" stop-color="#53b6d6"/><stop offset=".1" stop-color="#4fb0d2"/><stop offset=".12" stop-color="#4baacd"/><stop offset=".14" stop-color="#48a4c9"/><stop offset=".16" stop-color="#45a0c7"/><stop offset=".18" stop-color="#439cc6"/><stop offset=".2" stop-color="#4097c5"/><stop offset=".22" stop-color="#3d8fc3"/><stop offset=".24" stop-color="#3d88c0"/><stop offset=".26" stop-color="#4883bc"/><stop offset=".28" stop-color="#5b80b8"/><stop offset=".3" stop-color="#707db4"/><stop offset=".32" stop-color="#817ab2"/><stop offset=".34" stop-color="#8f76b0"/><stop offset=".36" stop-color="#9a71af"/><stop offset=".38" stop-color="#a36dad"/><stop offset=".4" stop-color="#aa69ab"/><stop offset=".42" stop-color="#b065a9"/><stop offset=".44" stop-color="#b761a7"/><stop offset=".46" stop-color="#bd5ea4"/><stop offset=".48" stop-color="#c359a1"/><stop offset=".5" stop-color="#c8539f"/><stop offset=".52" stop-color="#cc4d9c"/><stop offset=".54" stop-color="#d0479a"/><stop offset=".56" stop-color="#d44398"/><stop offset=".58" stop-color="#d74197"/><stop offset=".6" stop-color="#db4197"/><stop offset=".62" stop-color="#de4096"/><stop offset=".64" stop-color="#df4096"/><stop offset=".66" stop-color="#e04196"/><stop offset=".68" stop-color="#e13f96"/><stop offset=".7" stop-color="#e23d95"/><stop offset=".72" stop-color="#e33b95"/><stop offset=".74" stop-color="#e43994"/><stop offset=".76" stop-color="#e63894"/><stop offset=".78" stop-color="#e73693"/><stop offset=".8" stop-color="#e83694"/><stop offset=".82" stop-color="#e83694"/><stop offset=".84" stop-color="#e83594"/><stop offset=".86" stop-color="#e73593"/><stop offset=".88" stop-color="#e73592"/></linearGradient>
<linearGradient id="r58" gradientUnits="userSpaceOnUse" x1="120" x2="880"><stop offset=".04" stop-color="#5cbed9"/><stop offset=".06" stop-color="#57bad8"/><stop offset=".08" stop-color="#52b5d7"/><stop offset=".1" stop-color="#4eafd4"/><stop offset=".12" stop-color="#4ba8ce"/><stop offset=".14" stop-color="#48a3ca"/><stop offset=".16" stop-color="#459ec8"/><stop offset=".18" stop-color="#429ac7"/><stop offset=".2" stop-color="#3f95c6"/><stop offset=".22" stop-color="#3c8ec4"/><stop offset=".24" stop-color="#3c87c1"/><stop offset=".26" stop-color="#4782bd"/><stop offset=".28" stop-color="#5980b9"/><stop offset=".3" stop-color="#6e7db5"/><stop offset=".32" stop-color="#8079b2"/><stop offset=".34" stop-color="#8d75b1"/><stop offset=".36" stop-color="#9870af"/><stop offset=".38" stop-color="#a16cad"/><stop offset=".4" stop-color="#a868ab"/><stop offset=".42" stop-color="#af64a9"/><stop offset=".44" stop-color="#b660a7"/><stop offset=".46" stop-color="#bc5da4"/><stop offset=".48" stop-color="#c258a1"/><stop offset=".5" stop-color="#c6529f"/><stop offset=".52" stop-color="#ca4c9c"/><stop offset=".54" stop-color="#ce479a"/><stop offset=".56" stop-color="#d24398"/><stop offset=".58" stop-color="#d54298"/><stop offset=".6" stop-color="#d94297"/><stop offset=".62" stop-color="#dd4197"/><stop offset=".64" stop-color="#de4196"/><stop offset=".66" stop-color="#df4196"/><stop offset=".68" stop-color="#df4096"/><stop offset=".7" stop-color="#e13e96"/><stop offset=".72" stop-color="#e23c95"/><stop offset=".74" stop-color="#e43a95"/><stop offset=".76" stop-color="#e53894"/><stop offset=".78" stop-color="#e63794"/><stop offset=".8" stop-color="#e73694"/><stop offset=".82" stop-color="#e73695"/><stop offset=".84" stop-color="#e73695"/><stop offset=".86" stop-color="#e73594"/><stop offset=".88" stop-color="#e63593"/></linearGradient>
<linearGradient id="r59" gradientUnits="userSpaceOnUse" x1="120" x2="880"><stop offset=".06" stop-color="#56b9d9"/><stop offset=".08" stop-color="#52b4d7"/><stop offset=".1" stop-color="#4daed4"/><stop offset=".12" stop-color="#4aa7cf"/><stop offset=".14" stop-color="#47a2cb"/><stop offset=".16" stop-color="#449dc9"/><stop offset=".18" stop-color="#4199c8"/><stop offset=".2" stop-color="#3e94c7"/><stop offset=".22" stop-color="#3b8dc5"/><stop offset=".24" stop-color="#3c86c1"/><stop offset=".26" stop-color="#4682be"/><stop offset=".28" stop-color="#587fba"/><stop offset=".3" stop-color="#6d7cb6"/><stop offset=".32" stop-color="#7e78b3"/><stop offset=".34" stop-color="#8c74b1"/><stop offset=".36" stop-color="#966faf"/><stop offset=".38" stop-color="#9f6bae"/><stop offset=".4" stop-color="#a767ab"/><stop offset=".42" stop-color="#ad64a9"/><stop offset=".44" stop-color="#b460a7"/><stop offset=".46" stop-color="#ba5ca4"/><stop offset=".48" stop-color="#c057a1"/><stop offset=".5" stop-color="#c5519f"/><stop offset=".52" stop-color="#c94b9c"/><stop offset=".54" stop-color="#cc469a"/><stop offset=".56" stop-color="#d04498"/><stop offset=".58" stop-color="#d44398"/><stop offset=".6" stop-color="#d84297"/><stop offset=".62" stop-color="#db4297"/><stop offset=".64" stop-color="#dd4297"/><stop offset=".66" stop-color="#dd4297"/><stop offset=".68" stop-color="#de4097"/><stop offset=".7" stop-color="#e03e96"/><stop offset=".72" stop-color="#e13c96"/><stop offset=".74" stop-color="#e33a95"/><stop offset=".76" stop-color="#e43995"/><stop offset=".78" stop-color="#e53795"/><stop offset=".8" stop-color="#e63795"/><stop offset=".82" stop-color="#e73796"/><stop offset=".84" stop-color="#e73696"/><stop offset=".86" stop-color="#e63695"/><stop offset=".88" stop-color="#e63594"/></linearGradient>
<linearGradient id="r60" gradientUnits="userSpaceOnUse" x1="120" x2="880"><stop offset=".06" stop-color="#55b8d9"/><stop offset=".08" stop-color="#51b3d8"/><stop offset=".1" stop-color="#4dadd5"/><stop offset=".12" stop-color="#4aa6d0"/><stop offset=".14" stop-color="#47a0cc"/><stop offset=".16" stop-color="#439cca"/><stop offset=".18" stop-color="#4097c8"/><stop offset=".2" stop-color="#3d92c7"/><stop offset=".22" stop-color="#3b8cc5"/><stop offset=".24" stop-color="#3b85c2"/><stop offset=".26" stop-color="#4581be"/><stop offset=".28" stop-color="#577fba"/><stop offset=".3" stop-color="#6b7cb6"/><stop offset=".32" stop-color="#7d77b3"/><stop offset=".34" stop-color="#8a73b1"/><stop offset=".36" stop-color="#956fb0"/><stop offset=".38" stop-color="#9e6aae"/><stop offset=".4" stop-color="#a566ab"/><stop offset=".42" stop-color="#ab63a9"/><stop offset=".44" stop-color="#b25fa7"/><stop offset=".46" stop-color="#b95aa4"/><stop offset=".48" stop-color="#bf56a1"/><stop offset=".5" stop-color="#c3509f"/><stop offset=".52" stop-color="#c74b9c"/><stop offset=".54" stop-color="#ca469a"/><stop offset=".56" stop-color="#ce4498"/><stop offset=".58" stop-color="#d24398"/><stop offset=".6" stop-color="#d64397"/><stop offset=".62" stop-color="#da4397"/><stop offset=".64" stop-color="#db4397"/><stop offset=".66" stop-color="#dc4297"/><stop offset=".68" stop-color="#dd4197"/><stop offset=".7" stop-color="#df3f97"/><stop offset=".72" stop-color="#e03d96"/><stop offset=".74" stop-color="#e23b96"/><stop offset=".76" stop-color="#e33995"/><stop offset=".78" stop-color="#e53895"/><stop offset=".8" stop-color="#e63796"/><stop offset=".82" stop-color="#e63797"/><stop offset=".84" stop-color="#e63697"/><stop offset=".86" stop-color="#e63696"/><stop offset=".88" stop-color="#e53595"/></linearGradient>
<linearGradient id="r61" gradientUnits="userSpaceOnUse" x1="120" x2="880"><stop offset=".06" stop-color="#55b7da"/><stop offset=".08" stop-color="#51b2d8"/><stop offset=".1" stop-color="#4dacd5"/><stop offset=".12" stop-color="#49a5d1"/><stop offset=".14" stop-color="#469fcd"/><stop offset=".16" stop-color="#439aca"/><stop offset=".18" stop-color="#4096c9"/><stop offset=".2" stop-color="#3c91c7"/><stop offset=".22" stop-color="#3a8ac5"/><stop offset=".24" stop-color="#3b85c2"/><stop offset=".26" stop-color="#4481bf"/><stop offset=".28" stop-color="#567ebb"/><stop offset=".3" stop-color="#6a7bb7"/><stop offset=".32" stop-color="#7b76b4"/><stop offset=".34" stop-color="#8872b2"/><stop offset=".36" stop-color="#936eb0"/><stop offset=".38" stop-color="#9c69ae"/><stop offset=".4" stop-color="#a365ab"/><stop offset=".42" stop-color="#aa62a9"/><stop offset=".44" stop-color="#b15ea6"/><stop offset=".46" stop-color="#b759a4"/><stop offset=".48" stop-color="#bd55a1"/><stop offset=".5" stop-color="#c14f9f"/><stop offset=".52" stop-color="#c54a9c"/><stop offset=".54" stop-color="#c8469a"/><stop offset=".56" stop-color="#cc4498"/><stop offset=".58" stop-color="#d04498"/><stop offset=".6" stop-color="#d44497"/><stop offset=".62" stop-color="#d84497"/><stop offset=".64" stop-color="#da4397"/><stop offset=".66" stop-color="#db4397"/><stop offset=".68" stop-color="#dc4197"/><stop offset=".7" stop-color="#de3f97"/><stop offset=".72" stop-color="#df3d97"/><stop offset=".74" stop-color="#e13b96"/><stop offset=".76" stop-color="#e33996"/><stop offset=".78" stop-color="#e43896"/><stop offset=".8" stop-color="#e53897"/><stop offset=".82" stop-color="#e63797"/><stop offset=".84" stop-color="#e53797"/><stop offset=".86" stop-color="#e53697"/><stop offset=".88" stop-color="#e53696"/></linearGradient>
<linearGradient id="r62" gradientUnits="userSpaceOnUse" x1="120" x2="880"><stop offset=".06" stop-color="#54b5da"/><stop offset=".08" stop-color="#50b0d8"/><stop offset=".1" stop-color="#4caad5"/><stop offset=".12" stop-color="#49a4d1"/><stop offset=".14" stop-color="#459ecd"/><stop offset=".16" stop-color="#4299cb"/><stop offset=".18" stop-color="#3f94c9"/><stop offset=".2" stop-color="#3c8fc8"/><stop offset=".22" stop-color="#3a89c5"/><stop offset=".24" stop-color="#3b84c2"/><stop offset=".26" stop-color="#4480bf"/><stop offset=".28" stop-color="#557dbb"/><stop offset=".3" stop-color="#697ab7"/><stop offset=".32" stop-color="#7a76b4"/><stop offset=".34" stop-color="#8771b2"/><stop offset=".36" stop-color="#916db0"/><stop offset=".38" stop-color="#9a68ae"/><stop offset=".4" stop-color="#a264ab"/><stop offset=".42" stop-color="#a961a9"/><stop offset=".44" stop-color="#b05da6"/><stop offset=".46" stop-color="#b658a4"/><stop offset=".48" stop-color="#bb53a1"/><stop offset=".5" stop-color="#c04e9f"/><stop offset=".52" stop-color="#c3499c"/><stop offset=".54" stop-color="#c6469a"/><stop offset=".56" stop-color="#ca4499"/><stop offset=".58" stop-color="#ce4498"/><stop offset=".6" stop-color="#d34597"/><stop offset=".62" stop-color="#d64597"/><stop offset=".64" stop-color="#d84497"/><stop offset=".66" stop-color="#d94397"/><stop offset=".68" stop-color="#db4197"/><stop offset=".7" stop-color="#dc3f97"/><stop offset=".72" stop-color="#de3d97"/><stop offset=".74" stop-color="#e03b97"/><stop offset=".76" stop-color="#e23a96"/><stop offset=".78" stop-color="#e33997"/><stop offset=".8" stop-color="#e43897"/><stop offset=".82" stop-color="#e53898"/><stop offset=".84" stop-color="#e53798"/><stop offset=".86" stop-color="#e53798"/></linearGradient>
<linearGradient id="r63" gradientUnits="userSpaceOnUse" x1="120" x2="880"><stop offset=".06" stop-color="#54b4da"/><stop offset=".08" stop-color="#50afd9"/><stop offset=".1" stop-color="#4ca9d6"/><stop offset=".12" stop-color="#48a3d2"/><stop offset=".14" stop-color="#459dce"/><stop offset=".16" stop-color="#4298cb"/><stop offset=".18" stop-color="#3e93c9"/><stop offset=".2" stop-color="#3b8ec8"/><stop offset=".22" stop-color="#3988c5"/><stop offset=".24" stop-color="#3b83c2"/><stop offset=".26" stop-color="#447fbf"/><stop offset=".28" stop-color="#557cbb"/><stop offset=".3" stop-color="#6879b7"/><stop offset=".32" stop-color="#7875b4"/><stop offset=".34" stop-color="#8570b2"/><stop offset=".36" stop-color="#906cb0"/><stop offset=".38" stop-color="#9967ae"/><stop offset=".4" stop-color="#a063ab"/><stop offset=".42" stop-color="#a760a9"/><stop offset=".44" stop-color="#ae5ba6"/><stop offset=".46" stop-color="#b457a3"/><stop offset=".48" stop-color="#ba52a1"/><stop offset=".5" stop-color="#be4d9e"/><stop offset=".52" stop-color="#c1499c"/><stop offset=".54" stop-color="#c4459a"/><stop offset=".56" stop-color="#c84499"/><stop offset=".58" stop-color="#cc4598"/><stop offset=".6" stop-color="#d04698"/><stop offset=".62" stop-color="#d44597"/><stop offset=".64" stop-color="#d64497"/><stop offset=".66" stop-color="#d74397"/><stop offset=".68" stop-color="#d94197"/><stop offset=".7" stop-color="#db3f97"/><stop offset=".72" stop-color="#dd3d97"/><stop offset=".74" stop-color="#df3c97"/><stop offset=".76" stop-color="#e13a97"/><stop offset=".78" stop-color="#e23997"/><stop offset=".8" stop-color="#e33998"/><stop offset=".82" stop-color="#e43898"/><stop offset=".84" stop-color="#e43898"/><stop offset=".86" stop-color="#e43798"/></linearGradient>
<linearGradient id="r64" gradientUnits="userSpaceOnUse" x1="120" x2="880"><stop offset=".06" stop-color="#53b3da"/><stop offset=".08" stop-color="#4faed9"/><stop offset=".1" stop-color="#4ba8d6"/><stop offset=".12" stop-color="#48a1d2"/><stop offset=".14" stop-color="#449cce"/><stop offset=".16" stop-color="#4196cb"/><stop offset=".18" stop-color="#3e92c9"/><stop offset=".2" stop-color="#3b8dc8"/><stop offset=".22" stop-color="#3987c5"/><stop offset=".24" stop-color="#3c82c2"/><stop offset=".26" stop-color="#447ebf"/><stop offset=".28" stop-color="#547bbb"/><stop offset=".3" stop-color="#6778b8"/><stop offset=".32" stop-color="#7774b4"/><stop offset=".34" stop-color="#846fb2"/><stop offset=".36" stop-color="#8e6ab0"/><stop offset=".38" stop-color="#9766ad"/><stop offset=".4" stop-color="#9f62ab"/><stop offset=".42" stop-color="#a65fa8"/><stop offset=".44" stop-color="#ad5aa6"/><stop offset=".46" stop-color="#b356a3"/><stop offset=".48" stop-color="#b851a1"/><stop offset=".5" stop-color="#bc4c9e"/><stop offset=".52" stop-color="#bf489c"/><stop offset=".54" stop-color="#c2459a"/><stop offset=".56" stop-color="#c64599"/><stop offset=".58" stop-color="#ca4698"/><stop offset=".6" stop-color="#ce4698"/><stop offset=".62" stop-color="#d24697"/><stop offset=".64" stop-color="#d44597"/><stop offset=".66" stop-color="#d64397"/><stop offset=".68" stop-color="#d84198"/><stop offset=".7" stop-color="#da3f98"/><stop offset=".72" stop-color="#dc3e97"/><stop offset=".74" stop-color="#de3c97"/><stop offset=".76" stop-color="#e03b97"/><stop offset=".78" stop-color="#e13a97"/><stop offset=".8" stop-color="#e23998"/><stop offset=".82" stop-color="#e33998"/><stop offset=".84" stop-color="#e33899"/><stop offset=".86" stop-color="#e33799"/></linearGradient>
<linearGradient id="r65" gradientUnits="userSpaceOnUse" x1="120" x2="880"><stop offset=".06" stop-color="#53b1da"/><stop offset=".08" stop-color="#4facd8"/><stop offset=".1" stop-color="#4ba6d5"/><stop offset=".12" stop-color="#47a0d2"/><stop offset=".14" stop-color="#449ace"/><stop offset=".16" stop-color="#4195cc"/><stop offset=".18" stop-color="#3d90ca"/><stop offset=".2" stop-color="#3b8bc8"/><stop offset=".22" stop-color="#3986c5"/><stop offset=".24" stop-color="#3c81c2"/><stop offset=".26" stop-color="#457dbf"/><stop offset=".28" stop-color="#547abb"/><stop offset=".3" stop-color="#6677b8"/><stop offset=".32" stop-color="#7572b4"/><stop offset=".34" stop-color="#826eb2"/><stop offset=".36" stop-color="#8d69b0"/><stop offset=".38" stop-color="#9665ad"/><stop offset=".4" stop-color="#9e61ab"/><stop offset=".42" stop-color="#a55da8"/><stop offset=".44" stop-color="#ab59a6"/><stop offset=".46" stop-color="#b254a3"/><stop offset=".48" stop-color="#b74fa0"/><stop offset=".5" stop-color="#ba4b9e"/><stop offset=".52" stop-color="#bd479c"/><stop offset=".54" stop-color="#c0459a"/><stop offset=".56" stop-color="#c34599"/><stop offset=".58" stop-color="#c74699"/><stop offset=".6" stop-color="#cc4798"/><stop offset=".62" stop-color="#cf4697"/><stop offset=".64" stop-color="#d24597"/><stop offset=".66" stop-color="#d44398"/><stop offset=".68" stop-color="#d64198"/><stop offset=".7" stop-color="#d94098"/><stop offset=".72" stop-color="#db3e98"/><stop offset=".74" stop-color="#dd3c97"/><stop offset=".76" stop-color="#df3b97"/><stop offset=".78" stop-color="#e03a98"/><stop offset=".8" stop-color="#e13998"/><stop offset=".82" stop-color="#e23999"/><stop offset=".84" stop-color="#e23899"/><stop offset=".86" stop-color="#e23799"/></linearGradient>
<linearGradient id="r66" gradientUnits="userSpaceOnUse" x1="120" x2="880"><stop offset=".06" stop-color="#52b0da"/><stop offset=".08" stop-color="#4fabd8"/><stop offset=".1" stop-color="#4ba5d5"/><stop offset=".12" stop-color="#479fd2"/><stop offset=".14" stop-color="#4499ce"/><stop offset=".16" stop-color="#4094cc"/><stop offset=".18" stop-color="#3d8fc9"/><stop offset=".2" stop-color="#3a8ac7"/><stop offset=".22" stop-color="#3985c5"/><stop offset=".24" stop-color="#3c80c2"/><stop offset=".26" stop-color="#457cbe"/><stop offset=".28" stop-color="#5479bb"/><stop offset=".3" stop-color="#6576b7"/><stop offset=".32" stop-color="#7471b4"/><stop offset=".34" stop-color="#816db2"/><stop offset=".36" stop-color="#8b68af"/><stop offset=".38" stop-color="#9464ad"/><stop offset=".4" stop-color="#9c60aa"/><stop offset=".42" stop-color="#a35ca8"/><stop offset=".44" stop-color="#aa58a5"/><stop offset=".46" stop-color="#b053a3"/><stop offset=".48" stop-color="#b54ea0"/><stop offset=".5" stop-color="#b94a9e"/><stop offset=".52" stop-color="#bc479c"/><stop offset=".54" stop-color="#be459b"/><stop offset=".56" stop-color="#c1459a"/><stop offset=".58" stop-color="#c54799"/><stop offset=".6" stop-color="#c94798"/><stop offset=".62" stop-color="#cd4797"/><stop offset=".64" stop-color="#d04597"/><stop offset=".66" stop-color="#d24398"/><stop offset=".68" stop-color="#d54198"/><stop offset=".7" stop-color="#d84098"/><stop offset=".72" stop-color="#da3e98"/><stop offset=".74" stop-color="#dc3d98"/><stop offset=".76" stop-color="#de3b98"/><stop offset=".78" stop-color="#df3b98"/><stop offset=".8" stop-color="#e03a98"/><stop offset=".82" stop-color="#e13999"/><stop offset=".84" stop-color="#e13899"/><stop offset=".86" stop-color="#e23899"/></linearGradient>
<linearGradient id="r67" gradientUnits="userSpaceOnUse" x1="120" x2="880"><stop offset=".06" stop-color="#52aeda"/><stop offset=".08" stop-color="#4ea9d8"/><stop offset=".1" stop-color="#4ba4d5"/><stop offset=".12" stop-color="#479dd2"/><stop offset=".14" stop-color="#4398ce"/><stop offset=".16" stop-color="#4093cc"/><stop offset=".18" stop-color="#3d8ec9"/><stop offset=".2" stop-color="#3a89c7"/><stop offset=".22" stop-color="#3a84c5"/><stop offset=".24" stop-color="#3c7fc1"/><stop offset=".26" stop-color="#457bbe"/><stop offset=".28" stop-color="#5378ba"/><stop offset=".3" stop-color="#6474b7"/><stop offset=".32" stop-color="#7370b4"/><stop offset=".34" stop-color="#7f6bb1"/><stop offset=".36" stop-color="#8a67af"/><stop offset=".38" stop-color="#9363ad"/><stop offset=".4" stop-color="#9b5faa"/><stop offset=".42" stop-color="#a25ba7"/><stop offset=".44" stop-color="#a956a5"/><stop offset=".46" stop-color="#af52a2"/><stop offset=".48" stop-color="#b34da0"/><stop offset=".5" stop-color="#b7499e"/><stop offset=".52" stop-color="#ba469c"/><stop offset=".54" stop-color="#bc459b"/><stop offset=".56" stop-color="#bf469a"/><stop offset=".58" stop-color="#c34799"/><stop offset=".6" stop-color="#c74898"/><stop offset=".62" stop-color="#cb4798"/><stop offset=".64" stop-color="#ce4598"/><stop offset=".66" stop-color="#d04398"/><stop offset=".68" stop-color="#d44198"/><stop offset=".7" stop-color="#d64098"/><stop offset=".72" stop-color="#d93e98"/><stop offset=".74" stop-color="#db3d98"/><stop offset=".76" stop-color="#dc3c98"/><stop offset=".78" stop-color="#de3b98"/><stop offset=".8" stop-color="#df3a98"/><stop offset=".82" stop-color="#e03a99"/><stop offset=".84" stop-color="#e0399a"/></linearGradient>
<linearGradient id="r68" gradientUnits="userSpaceOnUse" x1="120" x2="880"><stop offset=".06" stop-color="#52adda"/><stop offset=".08" stop-color="#4ea8d8"/><stop offset=".1" stop-color="#4aa2d5"/><stop offset=".12" stop-color="#479cd1"/><stop offset=".14" stop-color="#4396ce"/><stop offset=".16" stop-color="#4091cb"/><stop offset=".18" stop-color="#3c8cc9"/><stop offset=".2" stop-color="#3a88c7"/><stop offset=".22" stop-color="#3a83c4"/><stop offset=".24" stop-color="#3d7ec1"/><stop offset=".26" stop-color="#457abd"/><stop offset=".28" stop-color="#5376ba"/><stop offset=".3" stop-color="#6373b7"/><stop offset=".32" stop-color="#716eb4"/><stop offset=".34" stop-color="#7d6ab1"/><stop offset=".36" stop-color="#8866af"/><stop offset=".38" stop-color="#9161ac"/><stop offset=".4" stop-color="#995daa"/><stop offset=".42" stop-color="#a159a7"/><stop offset=".44" stop-color="#a755a4"/><stop offset=".46" stop-color="#ad50a2"/><stop offset=".48" stop-color="#b24c9f"/><stop offset=".5" stop-color="#b5489e"/><stop offset=".52" stop-color="#b8469c"/><stop offset=".54" stop-color="#ba459b"/><stop offset=".56" stop-color="#bd469a"/><stop offset=".58" stop-color="#c04899"/><stop offset=".6" stop-color="#c44998"/><stop offset=".62" stop-color="#c84898"/><stop offset=".64" stop-color="#cb4598"/><stop offset=".66" stop-color="#cf4398"/><stop offset=".68" stop-color="#d24198"/><stop offset=".7" stop-color="#d54098"/><stop offset=".72" stop-color="#d83e98"/><stop offset=".74" stop-color="#da3d98"/><stop offset=".76" stop-color="#db3c98"/><stop offset=".78" stop-color="#dd3b98"/><stop offset=".8" stop-color="#de3b99"/><stop offset=".82" stop-color="#df3a99"/><stop offset=".84" stop-color="#df399a"/></linearGradient>
<linearGradient id="r69" gradientUnits="userSpaceOnUse" x1="120" x2="880"><stop offset=".06" stop-color="#51abd9"/><stop offset=".08" stop-color="#4ea6d7"/><stop offset=".1" stop-color="#4aa1d4"/><stop offset=".12" stop-color="#469bd1"/><stop offset=".14" stop-color="#4395ce"/><stop offset=".16" stop-color="#3f90cb"/><stop offset=".18" stop-color="#3c8bc9"/><stop offset=".2" stop-color="#3a86c6"/><stop offset=".22" stop-color="#3a81c4"/><stop offset=".24" stop-color="#3d7dc0"/><stop offset=".26" stop-color="#4578bd"/><stop offset=".28" stop-color="#5275b9"/><stop offset=".3" stop-color="#6271b6"/><stop offset=".32" stop-color="#706db3"/><stop offset=".34" stop-color="#7c69b1"/><stop offset=".36" stop-color="#8764ae"/><stop offset=".38" stop-color="#9060ac"/><stop offset=".4" stop-color="#985ca9"/><stop offset=".42" stop-color="#9f58a6"/><stop offset=".44" stop-color="#a654a4"/><stop offset=".46" stop-color="#ac4fa1"/><stop offset=".48" stop-color="#b04b9f"/><stop offset=".5" stop-color="#b3479d"/><stop offset=".52" stop-color="#b6469c"/><stop offset=".54" stop-color="#b8459b"/><stop offset=".56" stop-color="#ba469b"/><stop offset=".58" stop-color="#be489a"/><stop offset=".6" stop-color="#c24999"/><stop offset=".62" stop-color="#c64898"/><stop offset=".64" stop-color="#c94598"/><stop offset=".66" stop-color="#cd4398"/><stop offset=".68" stop-color="#d14198"/><stop offset=".7" stop-color="#d44098"/><stop offset=".72" stop-color="#d63e98"/><stop offset=".74" stop-color="#d93d98"/><stop offset=".76" stop-color="#da3c98"/><stop offset=".78" stop-color="#dc3c98"/><stop offset=".8" stop-color="#dd3b99"/><stop offset=".82" stop-color="#de3a99"/><stop offset=".84" stop-color="#de399a"/></linearGradient>
<linearGradient id="r70" gradientUnits="userSpaceOnUse" x1="120" x2="880"><stop offset=".08" stop-color="#4da5d7"/><stop offset=".1" stop-color="#4a9fd4"/><stop offset=".12" stop-color="#4699d0"/><stop offset=".14" stop-color="#4294ce"/><stop offset=".16" stop-color="#3f8fcb"/><stop offset=".18" stop-color="#3c8ac9"/><stop offset=".2" stop-color="#3a85c6"/><stop offset=".22" stop-color="#3a80c3"/><stop offset=".24" stop-color="#3d7bc0"/><stop offset=".26" stop-color="#4577bc"/><stop offset=".28" stop-color="#5273b9"/><stop offset=".3" stop-color="#606fb6"/><stop offset=".32" stop-color="#6e6cb3"/><stop offset=".34" stop-color="#7a67b0"/><stop offset=".36" stop-color="#8563ae"/><stop offset=".38" stop-color="#8e5fab"/><stop offset=".4" stop-color="#975ba8"/><stop offset=".42" stop-color="#9e57a6"/><stop offset=".44" stop-color="#a452a3"/><stop offset=".46" stop-color="#aa4ea1"/><stop offset=".48" stop-color="#af4a9f"/><stop offset=".5" stop-color="#b2479d"/><stop offset=".52" stop-color="#b4459c"/><stop offset=".54" stop-color="#b6459b"/><stop offset=".56" stop-color="#b8469b"/><stop offset=".58" stop-color="#bc489a"/><stop offset=".6" stop-color="#c04999"/><stop offset=".62" stop-color="#c44898"/><stop offset=".64" stop-color="#c74598"/><stop offset=".66" stop-color="#cb4398"/><stop offset=".68" stop-color="#cf4198"/><stop offset=".7" stop-color="#d34098"/><stop offset=".72" stop-color="#d53f98"/><stop offset=".74" stop-color="#d73e98"/><stop offset=".76" stop-color="#d93d98"/><stop offset=".78" stop-color="#da3c98"/><stop offset=".8" stop-color="#dc3b99"/><stop offset=".82" stop-color="#dd3b9a"/><stop offset=".84" stop-color="#dd3a9a"/></linearGradient>
<linearGradient id="r71" gradientUnits="userSpaceOnUse" x1="120" x2="880"><stop offset=".08" stop-color="#4da3d6"/><stop offset=".1" stop-color="#499dd3"/><stop offset=".12" stop-color="#4698d0"/><stop offset=".14" stop-color="#4292cd"/><stop offset=".16" stop-color="#3f8ecb"/><stop offset=".18" stop-color="#3c89c8"/><stop offset=".2" stop-color="#3a84c6"/><stop offset=".22" stop-color="#3b7fc3"/><stop offset=".24" stop-color="#3e7abf"/><stop offset=".26" stop-color="#4575bc"/><stop offset=".28" stop-color="#5172b8"/><stop offset=".3" stop-color="#5f6eb5"/><stop offset=".32" stop-color="#6d6ab2"/><stop offset=".34" stop-color="#7966b0"/><stop offset=".36" stop-color="#8362ad"/><stop offset=".38" stop-color="#8d5eab"/><stop offset=".4" stop-color="#955aa8"/><stop offset=".42" stop-color="#9d55a5"/><stop offset=".44" stop-color="#a351a3"/><stop offset=".46" stop-color="#a94da0"/><stop offset=".48" stop-color="#ad499e"/><stop offset=".5" stop-color="#b0469d"/><stop offset=".52" stop-color="#b2459c"/><stop offset=".54" stop-color="#b4459b"/><stop offset=".56" stop-color="#b6469b"/><stop offset=".58" stop-color="#ba499a"/><stop offset=".6" stop-color="#be4a99"/><stop offset=".62" stop-color="#c24898"/><stop offset=".64" stop-color="#c54598"/><stop offset=".66" stop-color="#c94298"/><stop offset=".68" stop-color="#ce4198"/><stop offset=".7" stop-color="#d14098"/><stop offset=".72" stop-color="#d43f98"/><stop offset=".74" stop-color="#d63e98"/><stop offset=".76" stop-color="#d83d98"/><stop offset=".78" stop-color="#d93c99"/><stop offset=".8" stop-color="#db3c99"/><stop offset=".82" stop-color="#dc3b9a"/><stop offset=".84" stop-color="#dd3a9a"/></linearGradient>
<linearGradient id="r72" gradientUnits="userSpaceOnUse" x1="120" x2="880"><stop offset=".08" stop-color="#4da2d6"/><stop offset=".1" stop-color="#499cd2"/><stop offset=".12" stop-color="#4696d0"/><stop offset=".14" stop-color="#4291cd"/><stop offset=".16" stop-color="#3f8cca"/><stop offset=".18" stop-color="#3c88c8"/><stop offset=".2" stop-color="#3b83c5"/><stop offset=".22" stop-color="#3b7ec2"/><stop offset=".24" stop-color="#3e79bf"/><stop offset=".26" stop-color="#4574bb"/><stop offset=".28" stop-color="#5070b7"/><stop offset=".3" stop-color="#5e6cb4"/><stop offset=".32" stop-color="#6c68b2"/><stop offset=".34" stop-color="#7864af"/><stop offset=".36" stop-color="#8260ac"/><stop offset=".38" stop-color="#8b5caa"/><stop offset=".4" stop-color="#9458a7"/><stop offset=".42" stop-color="#9b54a5"/><stop offset=".44" stop-color="#a250a2"/><stop offset=".46" stop-color="#a74ca0"/><stop offset=".48" stop-color="#ab489e"/><stop offset=".5" stop-color="#ae459d"/><stop offset=".52" stop-color="#b0449c"/><stop offset=".54" stop-color="#b2459c"/><stop offset=".56" stop-color="#b4469b"/><stop offset=".58" stop-color="#b8499b"/><stop offset=".6" stop-color="#bc4a9a"/><stop offset=".62" stop-color="#c04899"/><stop offset=".64" stop-color="#c34598"/><stop offset=".66" stop-color="#c84298"/><stop offset=".68" stop-color="#cc4198"/><stop offset=".7" stop-color="#d04098"/><stop offset=".72" stop-color="#d33f98"/><stop offset=".74" stop-color="#d53e98"/><stop offset=".76" stop-color="#d73d98"/><stop offset=".78" stop-color="#d83d99"/><stop offset=".8" stop-color="#d93c99"/><stop offset=".82" stop-color="#db3b9a"/></linearGradient>
<linearGradient id="r73" gradientUnits="userSpaceOnUse" x1="120" x2="880"><stop offset=".08" stop-color="#4ca0d5"/><stop offset=".1" stop-color="#499ad2"/><stop offset=".12" stop-color="#4595cf"/><stop offset=".14" stop-color="#4290cc"/><stop offset=".16" stop-color="#3f8bca"/><stop offset=".18" stop-color="#3c86c7"/><stop offset=".2" stop-color="#3b82c4"/><stop offset=".22" stop-color="#3b7dc1"/><stop offset=".24" stop-color="#3e78be"/><stop offset=".26" stop-color="#4573ba"/><stop offset=".28" stop-color="#506eb7"/><stop offset=".3" stop-color="#5d6bb4"/><stop offset=".32" stop-color="#6a67b1"/><stop offset=".34" stop-color="#7663ae"/><stop offset=".36" stop-color="#805fac"/><stop offset=".38" stop-color="#8a5ba9"/><stop offset=".4" stop-color="#9257a7"/><stop offset=".42" stop-color="#9a53a4"/><stop offset=".44" stop-color="#a04fa2"/><stop offset=".46" stop-color="#a54ba0"/><stop offset=".48" stop-color="#a9479e"/><stop offset=".5" stop-color="#ac459d"/><stop offset=".52" stop-color="#ae449c"/><stop offset=".54" stop-color="#b0459c"/><stop offset=".56" stop-color="#b2479b"/><stop offset=".58" stop-color="#b6499b"/><stop offset=".6" stop-color="#ba4a9a"/><stop offset=".62" stop-color="#be4899"/><stop offset=".64" stop-color="#c24598"/><stop offset=".66" stop-color="#c64298"/><stop offset=".68" stop-color="#cb4198"/><stop offset=".7" stop-color="#cf4098"/><stop offset=".72" stop-color="#d23f98"/><stop offset=".74" stop-color="#d43e98"/><stop offset=".76" stop-color="#d63e98"/><stop offset=".78" stop-color="#d73d99"/><stop offset=".8" stop-color="#d83c99"/><stop offset=".82" stop-color="#da3b9a"/></linearGradient>
<linearGradient id="r74" gradientUnits="userSpaceOnUse" x1="120" x2="880"><stop offset=".08" stop-color="#4c9ed4"/><stop offset=".1" stop-color="#4999d1"/><stop offset=".12" stop-color="#4593cf"/><stop offset=".14" stop-color="#428fcc"/><stop offset=".16" stop-color="#3f8ac9"/><stop offset=".18" stop-color="#3d85c7"/><stop offset=".2" stop-color="#3b81c4"/><stop offset=".22" stop-color="#3b7cc1"/><stop offset=".24" stop-color="#3e76bd"/><stop offset=".26" stop-color="#4571b9"/><stop offset=".28" stop-color="#4f6db6"/><stop offset=".3" stop-color="#5c69b3"/><stop offset=".32" stop-color="#6965b0"/><stop offset=".34" stop-color="#7562ae"/><stop offset=".36" stop-color="#7f5eab"/><stop offset=".38" stop-color="#885aa9"/><stop offset=".4" stop-color="#9156a6"/><stop offset=".42" stop-color="#9852a4"/><stop offset=".44" stop-color="#9f4ea1"/><stop offset=".46" stop-color="#a44a9f"/><stop offset=".48" stop-color="#a8469d"/><stop offset=".5" stop-color="#aa449c"/><stop offset=".52" stop-color="#ac449c"/><stop offset=".54" stop-color="#ae459c"/><stop offset=".56" stop-color="#b0479c"/><stop offset=".58" stop-color="#b44a9b"/><stop offset=".6" stop-color="#b84a9a"/><stop offset=".62" stop-color="#bc4899"/><stop offset=".64" stop-color="#c04498"/><stop offset=".66" stop-color="#c54298"/><stop offset=".68" stop-color="#ca4198"/><stop offset=".7" stop-color="#ce4098"/><stop offset=".72" stop-color="#d13f98"/><stop offset=".74" stop-color="#d33f98"/><stop offset=".76" stop-color="#d43e98"/><stop offset=".78" stop-color="#d63d99"/><stop offset=".8" stop-color="#d73c99"/><stop offset=".82" stop-color="#d93c9a"/></linearGradient>
<linearGradient id="r75" gradientUnits="userSpaceOnUse" x1="120" x2="880"><stop offset=".08" stop-color="#4c9dd4"/><stop offset=".1" stop-color="#4997d1"/><stop offset=".12" stop-color="#4592ce"/><stop offset=".14" stop-color="#428dcb"/><stop offset=".16" stop-color="#3f89c9"/><stop offset=".18" stop-color="#3d84c6"/><stop offset=".2" stop-color="#3b80c3"/><stop offset=".22" stop-color="#3c7bc0"/><stop offset=".24" stop-color="#3e75bc"/><stop offset=".26" stop-color="#4470b8"/><stop offset=".28" stop-color="#4f6bb5"/><stop offset=".3" stop-color="#5c68b2"/><stop offset=".32" stop-color="#6864af"/><stop offset=".34" stop-color="#7360ad"/><stop offset=".36" stop-color="#7e5caa"/><stop offset=".38" stop-color="#8758a8"/><stop offset=".4" stop-color="#9055a6"/><stop offset=".42" stop-color="#9751a3"/><stop offset=".44" stop-color="#9d4da1"/><stop offset=".46" stop-color="#a2499f"/><stop offset=".48" stop-color="#a6469d"/><stop offset=".5" stop-color="#a8449c"/><stop offset=".52" stop-color="#aa449c"/><stop offset=".54" stop-color="#ac459c"/><stop offset=".56" stop-color="#af479c"/><stop offset=".58" stop-color="#b34a9b"/><stop offset=".6" stop-color="#b74a9a"/><stop offset=".62" stop-color="#bb4899"/><stop offset=".64" stop-color="#bf4498"/><stop offset=".66" stop-color="#c44298"/><stop offset=".68" stop-color="#c94198"/><stop offset=".7" stop-color="#cd4098"/><stop offset=".72" stop-color="#cf4098"/><stop offset=".74" stop-color="#d23f98"/><stop offset=".76" stop-color="#d33e98"/><stop offset=".78" stop-color="#d53e99"/><stop offset=".8" stop-color="#d63d9a"/><stop offset=".82" stop-color="#d83c9a"/></linearGradient>
<linearGradient id="r76" gradientUnits="userSpaceOnUse" x1="120" x2="880"><stop offset=".08" stop-color="#4c9bd3"/><stop offset=".1" stop-color="#4896d0"/><stop offset=".12" stop-color="#4591cd"/><stop offset=".14" stop-color="#428ccb"/><stop offset=".16" stop-color="#3f87c8"/><stop offset=".18" stop-color="#3d83c5"/><stop offset=".2" stop-color="#3c7ec3"/><stop offset=".22" stop-color="#3c7ac0"/><stop offset=".24" stop-color="#3f74bc"/><stop offset=".26" stop-color="#446eb8"/><stop offset=".28" stop-color="#4e6ab4"/><stop offset=".3" stop-color="#5b66b1"/><stop offset=".32" stop-color="#6763af"/><stop offset=".34" stop-color="#725fac"/><stop offset=".36" stop-color="#7c5baa"/><stop offset=".38" stop-color="#8657a7"/><stop offset=".4" stop-color="#8e53a5"/><stop offset=".42" stop-color="#9650a3"/><stop offset=".44" stop-color="#9b4ca0"/><stop offset=".46" stop-color="#a0489f"/><stop offset=".48" stop-color="#a4459d"/><stop offset=".5" stop-color="#a6449c"/><stop offset=".52" stop-color="#a9449c"/><stop offset=".54" stop-color="#ab459c"/><stop offset=".56" stop-color="#ae479b"/><stop offset=".58" stop-color="#b2499b"/><stop offset=".6" stop-color="#b64a9a"/><stop offset=".62" stop-color="#ba4799"/><stop offset=".64" stop-color="#be4498"/><stop offset=".66" stop-color="#c24298"/><stop offset=".68" stop-color="#c74198"/><stop offset=".7" stop-color="#cb4098"/><stop offset=".72" stop-color="#ce4098"/><stop offset=".74" stop-color="#d03f98"/><stop offset=".76" stop-color="#d23f98"/><stop offset=".78" stop-color="#d43e99"/><stop offset=".8" stop-color="#d53d9a"/><stop offset=".82" stop-color="#d73c9a"/></linearGradient>
<linearGradient id="r77" gradientUnits="userSpaceOnUse" x1="120" x2="880"><stop offset=".08" stop-color="#4b9ad3"/><stop offset=".1" stop-color="#4895d0"/><stop offset=".12" stop-color="#4590cd"/><stop offset=".14" stop-color="#428bca"/><stop offset=".16" stop-color="#3f86c7"/><stop offset=".18" stop-color="#3d82c5"/><stop offset=".2" stop-color="#3c7dc2"/><stop offset=".22" stop-color="#3d79bf"/><stop offset=".24" stop-color="#3f73bb"/><stop offset=".26" stop-color="#446db7"/><stop offset=".28" stop-color="#4e69b4"/><stop offset=".3" stop-color="#5a65b1"/><stop offset=".32" stop-color="#6661ae"/><stop offset=".34" stop-color="#715dac"/><stop offset=".36" stop-color="#7b5aa9"/><stop offset=".38" stop-color="#8456a7"/><stop offset=".4" stop-color="#8d52a4"/><stop offset=".42" stop-color="#944fa2"/><stop offset=".44" stop-color="#9a4ba0"/><stop offset=".46" stop-color="#9e489e"/><stop offset=".48" stop-color="#a2459d"/><stop offset=".5" stop-color="#a4449c"/><stop offset=".52" stop-color="#a7449c"/><stop offset=".54" stop-color="#a9459b"/><stop offset=".56" stop-color="#ad479b"/><stop offset=".58" stop-color="#b0499b"/><stop offset=".6" stop-color="#b4499a"/><stop offset=".62" stop-color="#b84799"/><stop offset=".64" stop-color="#bd4498"/><stop offset=".66" stop-color="#c14298"/><stop offset=".68" stop-color="#c64198"/><stop offset=".7" stop-color="#ca4198"/><stop offset=".72" stop-color="#cd4098"/><stop offset=".74" stop-color="#cf4098"/><stop offset=".76" stop-color="#d13f98"/><stop offset=".78" stop-color="#d33e99"/><stop offset=".8" stop-color="#d43d9a"/></linearGradient>
<linearGradient id="r78" gradientUnits="userSpaceOnUse" x1="120" x2="880"><stop offset=".08" stop-color="#4b98d2"/><stop offset=".1" stop-color="#4893cf"/><stop offset=".12" stop-color="#458ecc"/><stop offset=".14" stop-color="#4289c9"/><stop offset=".16" stop-color="#3f85c7"/><stop offset=".18" stop-color="#3d81c4"/><stop offset=".2" stop-color="#3c7cc1"/><stop offset=".22" stop-color="#3d78be"/><stop offset=".24" stop-color="#3f72bb"/><stop offset=".26" stop-color="#446cb6"/><stop offset=".28" stop-color="#4d67b3"/><stop offset=".3" stop-color="#5964b0"/><stop offset=".32" stop-color="#6560ad"/><stop offset=".34" stop-color="#705cab"/><stop offset=".36" stop-color="#7a58a8"/><stop offset=".38" stop-color="#8355a6"/><stop offset=".4" stop-color="#8b51a4"/><stop offset=".42" stop-color="#934ea2"/><stop offset=".44" stop-color="#984aa0"/><stop offset=".46" stop-color="#9c479e"/><stop offset=".48" stop-color="#a0459d"/><stop offset=".5" stop-color="#a2449c"/><stop offset=".52" stop-color="#a5439c"/><stop offset=".54" stop-color="#a8449b"/><stop offset=".56" stop-color="#ab469b"/><stop offset=".58" stop-color="#af489b"/><stop offset=".6" stop-color="#b3499a"/><stop offset=".62" stop-color="#b74799"/><stop offset=".64" stop-color="#bb4498"/><stop offset=".66" stop-color="#c04398"/><stop offset=".68" stop-color="#c54298"/><stop offset=".7" stop-color="#c94198"/><stop offset=".72" stop-color="#cc4198"/><stop offset=".74" stop-color="#ce4098"/><stop offset=".76" stop-color="#d03f98"/><stop offset=".78" stop-color="#d13e99"/><stop offset=".8" stop-color="#d33e9a"/></linearGradient>
<linearGradient id="r79" gradientUnits="userSpaceOnUse" x1="120" x2="880"><stop offset=".08" stop-color="#4b97d1"/><stop offset=".1" stop-color="#4892cf"/><stop offset=".12" stop-color="#458dcc"/><stop offset=".14" stop-color="#4288c9"/><stop offset=".16" stop-color="#4084c6"/><stop offset=".18" stop-color="#3e7fc3"/><stop offset=".2" stop-color="#3d7bc1"/><stop offset=".22" stop-color="#3d77be"/><stop offset=".24" stop-color="#4072ba"/><stop offset=".26" stop-color="#446bb6"/><stop offset=".28" stop-color="#4d66b2"/><stop offset=".3" stop-color="#5862af"/><stop offset=".32" stop-color="#645fad"/><stop offset=".34" stop-color="#6f5baa"/><stop offset=".36" stop-color="#7957a8"/><stop offset=".38" stop-color="#8254a6"/><stop offset=".4" stop-color="#8a50a3"/><stop offset=".42" stop-color="#914da1"/><stop offset=".44" stop-color="#964a9f"/><stop offset=".46" stop-color="#9a479e"/><stop offset=".48" stop-color="#9d459d"/><stop offset=".5" stop-color="#a0439c"/><stop offset=".52" stop-color="#a3439c"/><stop offset=".54" stop-color="#a7449b"/><stop offset=".56" stop-color="#ab469b"/><stop offset=".58" stop-color="#af489a"/><stop offset=".6" stop-color="#b2489a"/><stop offset=".62" stop-color="#b64699"/><stop offset=".64" stop-color="#bb4498"/><stop offset=".66" stop-color="#bf4398"/><stop offset=".68" stop-color="#c44298"/><stop offset=".7" stop-color="#c84298"/><stop offset=".72" stop-color="#cb4198"/><stop offset=".74" stop-color="#cd4098"/><stop offset=".76" stop-color="#cf4098"/><stop offset=".78" stop-color="#d03f99"/><stop offset=".8" stop-color="#d23e9a"/></linearGradient>
<linearGradient id="r80" gradientUnits="userSpaceOnUse" x1="120" x2="880"><stop offset=".1" stop-color="#4891ce"/><stop offset=".12" stop-color="#458ccb"/><stop offset=".14" stop-color="#4287c8"/><stop offset=".16" stop-color="#4082c5"/><stop offset=".18" stop-color="#3e7ec3"/><stop offset=".2" stop-color="#3d7ac0"/><stop offset=".22" stop-color="#3e76bd"/><stop offset=".24" stop-color="#4071b9"/><stop offset=".26" stop-color="#446bb5"/><stop offset=".28" stop-color="#4d65b2"/><stop offset=".3" stop-color="#5861af"/><stop offset=".32" stop-color="#635dac"/><stop offset=".34" stop-color="#6e5aaa"/><stop offset=".36" stop-color="#7856a7"/><stop offset=".38" stop-color="#8153a5"/><stop offset=".4" stop-color="#894fa3"/><stop offset=".42" stop-color="#8f4ca1"/><stop offset=".44" stop-color="#95499f"/><stop offset=".46" stop-color="#98469e"/><stop offset=".48" stop-color="#9b449d"/><stop offset=".5" stop-color="#9e439c"/><stop offset=".52" stop-color="#a2439b"/><stop offset=".54" stop-color="#a5449b"/><stop offset=".56" stop-color="#aa469b"/><stop offset=".58" stop-color="#ae479a"/><stop offset=".6" stop-color="#b14799"/><stop offset=".62" stop-color="#b54699"/><stop offset=".64" stop-color="#ba4498"/><stop offset=".66" stop-color="#be4398"/><stop offset=".68" stop-color="#c34298"/><stop offset=".7" stop-color="#c74298"/><stop offset=".72" stop-color="#ca4198"/><stop offset=".74" stop-color="#cc4198"/><stop offset=".76" stop-color="#cd4098"/><stop offset=".78" stop-color="#cf3f99"/><stop offset=".8" stop-color="#d13e9a"/></linearGradient>
<linearGradient id="r81" gradientUnits="userSpaceOnUse" x1="120" x2="880"><stop offset=".1" stop-color="#488fcd"/><stop offset=".12" stop-color="#458aca"/><stop offset=".14" stop-color="#4286c7"/><stop offset=".16" stop-color="#4081c5"/><stop offset=".18" stop-color="#3e7dc2"/><stop offset=".2" stop-color="#3d79bf"/><stop offset=".22" stop-color="#3e75bc"/><stop offset=".24" stop-color="#4070b9"/><stop offset=".26" stop-color="#446ab5"/><stop offset=".28" stop-color="#4c64b1"/><stop offset=".3" stop-color="#5760ae"/><stop offset=".32" stop-color="#625cab"/><stop offset=".34" stop-color="#6d58a9"/><stop offset=".36" stop-color="#7755a7"/><stop offset=".38" stop-color="#8052a5"/><stop offset=".4" stop-color="#874ea3"/><stop offset=".42" stop-color="#8e4ba1"/><stop offset=".44" stop-color="#93499f"/><stop offset=".46" stop-color="#96469e"/><stop offset=".48" stop-color="#99449d"/><stop offset=".5" stop-color="#9c439c"/><stop offset=".52" stop-color="#a0439b"/><stop offset=".54" stop-color="#a4449b"/><stop offset=".56" stop-color="#a9469a"/><stop offset=".58" stop-color="#ad479a"/><stop offset=".6" stop-color="#b14799"/><stop offset=".62" stop-color="#b44699"/><stop offset=".64" stop-color="#b94498"/><stop offset=".66" stop-color="#bd4398"/><stop offset=".68" stop-color="#c24398"/><stop offset=".7" stop-color="#c54298"/><stop offset=".72" stop-color="#c84298"/><stop offset=".74" stop-color="#cb4198"/><stop offset=".76" stop-color="#cc4098"/><stop offset=".78" stop-color="#ce3f99"/><stop offset=".8" stop-color="#d03e9a"/></linearGradient>
<linearGradient id="r82" gradientUnits="userSpaceOnUse" x1="120" x2="880"><stop offset=".1" stop-color="#488ecd"/><stop offset=".12" stop-color="#4589ca"/><stop offset=".14" stop-color="#4384c7"/><stop offset=".16" stop-color="#4080c4"/><stop offset=".18" stop-color="#3e7cc1"/><stop offset=".2" stop-color="#3d78bf"/><stop offset=".22" stop-color="#3e74bc"/><stop offset=".24" stop-color="#406fb8"/><stop offset=".26" stop-color="#4469b4"/><stop offset=".28" stop-color="#4c63b1"/><stop offset=".3" stop-color="#565fae"/><stop offset=".32" stop-color="#615bab"/><stop offset=".34" stop-color="#6c57a8"/><stop offset=".36" stop-color="#7654a6"/><stop offset=".38" stop-color="#7e51a4"/><stop offset=".4" stop-color="#864ea2"/><stop offset=".42" stop-color="#8c4ba0"/><stop offset=".44" stop-color="#91489f"/><stop offset=".46" stop-color="#94469e"/><stop offset=".48" stop-color="#97449d"/><stop offset=".5" stop-color="#9a439c"/><stop offset=".52" stop-color="#9e439b"/><stop offset=".54" stop-color="#a3449b"/><stop offset=".56" stop-color="#a8459a"/><stop offset=".58" stop-color="#ac469a"/><stop offset=".6" stop-color="#b04699"/><stop offset=".62" stop-color="#b34698"/><stop offset=".64" stop-color="#b84498"/><stop offset=".66" stop-color="#bc4398"/><stop offset=".68" stop-color="#c14398"/><stop offset=".7" stop-color="#c44398"/><stop offset=".72" stop-color="#c74298"/><stop offset=".74" stop-color="#c94298"/><stop offset=".76" stop-color="#cb4198"/><stop offset=".78" stop-color="#cd4099"/></linearGradient>
<linearGradient id="r83" gradientUnits="userSpaceOnUse" x1="120" x2="880"><stop offset=".1" stop-color="#488ccc"/><stop offset=".12" stop-color="#4588c9"/><stop offset=".14" stop-color="#4383c6"/><stop offset=".16" stop-color="#407ec3"/><stop offset=".18" stop-color="#3e7ac0"/><stop offset=".2" stop-color="#3e77be"/><stop offset=".22" stop-color="#3e73bb"/><stop offset=".24" stop-color="#406eb8"/><stop offset=".26" stop-color="#4468b4"/><stop offset=".28" stop-color="#4b62b0"/><stop offset=".3" stop-color="#555ead"/><stop offset=".32" stop-color="#605aaa"/><stop offset=".34" stop-color="#6b56a8"/><stop offset=".36" stop-color="#7553a6"/><stop offset=".38" stop-color="#7d50a4"/><stop offset=".4" stop-color="#854da2"/><stop offset=".42" stop-color="#8b4aa0"/><stop offset=".44" stop-color="#8f489f"/><stop offset=".46" stop-color="#92469e"/><stop offset=".48" stop-color="#95449d"/><stop offset=".5" stop-color="#98439c"/><stop offset=".52" stop-color="#9d439b"/><stop offset=".54" stop-color="#a2449b"/><stop offset=".56" stop-color="#a7459a"/><stop offset=".58" stop-color="#ac4699"/><stop offset=".6" stop-color="#af4699"/><stop offset=".62" stop-color="#b34598"/><stop offset=".64" stop-color="#b74498"/><stop offset=".66" stop-color="#bb4498"/><stop offset=".68" stop-color="#c04498"/><stop offset=".7" stop-color="#c34398"/><stop offset=".72" stop-color="#c64398"/><stop offset=".74" stop-color="#c84298"/><stop offset=".76" stop-color="#ca4198"/><stop offset=".78" stop-color="#cc4099"/></linearGradient>
<linearGradient id="r84" gradientUnits="userSpaceOnUse" x1="120" x2="880"><stop offset=".1" stop-color="#488bcb"/><stop offset=".12" stop-color="#4586c8"/><stop offset=".14" stop-color="#4381c5"/><stop offset=".16" stop-color="#417dc2"/><stop offset=".18" stop-color="#3f79c0"/><stop offset=".2" stop-color="#3e75bd"/><stop offset=".22" stop-color="#3e71ba"/><stop offset=".24" stop-color="#406db7"/><stop offset=".26" stop-color="#4467b3"/><stop offset=".28" stop-color="#4b61b0"/><stop offset=".3" stop-color="#555dac"/><stop offset=".32" stop-color="#5f59aa"/><stop offset=".34" stop-color="#6a55a7"/><stop offset=".36" stop-color="#7452a5"/><stop offset=".38" stop-color="#7c4fa3"/><stop offset=".4" stop-color="#844ca2"/><stop offset=".42" stop-color="#894aa0"/><stop offset=".44" stop-color="#8e479f"/><stop offset=".46" stop-color="#91469e"/><stop offset=".48" stop-color="#93449d"/><stop offset=".5" stop-color="#96449c"/><stop offset=".52" stop-color="#9b449b"/><stop offset=".54" stop-color="#a0449b"/><stop offset=".56" stop-color="#a6459a"/><stop offset=".58" stop-color="#ab4599"/><stop offset=".6" stop-color="#ae4599"/><stop offset=".62" stop-color="#b24598"/><stop offset=".64" stop-color="#b64498"/><stop offset=".66" stop-color="#bb4498"/><stop offset=".68" stop-color="#bf4498"/><stop offset=".7" stop-color="#c24498"/><stop offset=".72" stop-color="#c54398"/><stop offset=".74" stop-color="#c74298"/><stop offset=".76" stop-color="#c94199"/><stop offset=".78" stop-color="#cb4099"/></linearGradient>
<linearGradient id="r85" gradientUnits="userSpaceOnUse" x1="120" x2="880"><stop offset=".1" stop-color="#488aca"/><stop offset=".12" stop-color="#4585c7"/><stop offset=".14" stop-color="#4380c4"/><stop offset=".16" stop-color="#417cc2"/><stop offset=".18" stop-color="#3f78bf"/><stop offset=".2" stop-color="#3e74bc"/><stop offset=".22" stop-color="#3e70b9"/><stop offset=".24" stop-color="#406bb6"/><stop offset=".26" stop-color="#4366b3"/><stop offset=".28" stop-color="#4a60af"/><stop offset=".3" stop-color="#545cac"/><stop offset=".32" stop-color="#5f58a9"/><stop offset=".34" stop-color="#6954a7"/><stop offset=".36" stop-color="#7351a5"/><stop offset=".38" stop-color="#7b4ea3"/><stop offset=".4" stop-color="#824ca1"/><stop offset=".42" stop-color="#8849a0"/><stop offset=".44" stop-color="#8c479f"/><stop offset=".46" stop-color="#8f469e"/><stop offset=".48" stop-color="#91449d"/><stop offset=".5" stop-color="#95449c"/><stop offset=".52" stop-color="#9a449b"/><stop offset=".54" stop-color="#9f449b"/><stop offset=".56" stop-color="#a5459a"/><stop offset=".58" stop-color="#aa4599"/><stop offset=".6" stop-color="#ad4598"/><stop offset=".62" stop-color="#b14598"/><stop offset=".64" stop-color="#b54498"/><stop offset=".66" stop-color="#ba4498"/><stop offset=".68" stop-color="#be4498"/><stop offset=".7" stop-color="#c14498"/><stop offset=".72" stop-color="#c44498"/><stop offset=".74" stop-color="#c64398"/><stop offset=".76" stop-color="#c84299"/><stop offset=".78" stop-color="#ca4199"/></linearGradient>
<linearGradient id="r86" gradientUnits="userSpaceOnUse" x1="120" x2="880"><stop offset=".1" stop-color="#4888ca"/><stop offset=".12" stop-color="#4683c7"/><stop offset=".14" stop-color="#437fc4"/><stop offset=".16" stop-color="#417bc1"/><stop offset=".18" stop-color="#3f77be"/><stop offset=".2" stop-color="#3e73bb"/><stop offset=".22" stop-color="#3e6fb9"/><stop offset=".24" stop-color="#3f6ab5"/><stop offset=".26" stop-color="#4364b2"/><stop offset=".28" stop-color="#4a5fae"/><stop offset=".3" stop-color="#535bab"/><stop offset=".32" stop-color="#5e57a9"/><stop offset=".34" stop-color="#6853a6"/><stop offset=".36" stop-color="#7250a4"/><stop offset=".38" stop-color="#7a4da3"/><stop offset=".4" stop-color="#814ba1"/><stop offset=".42" stop-color="#8749a0"/><stop offset=".44" stop-color="#8a479f"/><stop offset=".46" stop-color="#8d459e"/><stop offset=".48" stop-color="#90449d"/><stop offset=".5" stop-color="#93449c"/><stop offset=".52" stop-color="#98449b"/><stop offset=".54" stop-color="#9e449b"/><stop offset=".56" stop-color="#a4449a"/><stop offset=".58" stop-color="#a94599"/><stop offset=".6" stop-color="#ac4598"/><stop offset=".62" stop-color="#b04598"/><stop offset=".64" stop-color="#b54498"/><stop offset=".66" stop-color="#b94498"/><stop offset=".68" stop-color="#bd4598"/><stop offset=".7" stop-color="#c04598"/><stop offset=".72" stop-color="#c34498"/><stop offset=".74" stop-color="#c54398"/><stop offset=".76" stop-color="#c74299"/><stop offset=".78" stop-color="#c9419a"/></linearGradient>
<linearGradient id="r87" gradientUnits="userSpaceOnUse" x1="120" x2="880"><stop offset=".1" stop-color="#4887c9"/><stop offset=".12" stop-color="#4682c6"/><stop offset=".14" stop-color="#437dc3"/><stop offset=".16" stop-color="#4179c0"/><stop offset=".18" stop-color="#3f75bd"/><stop offset=".2" stop-color="#3e72ba"/><stop offset=".22" stop-color="#3e6eb8"/><stop offset=".24" stop-color="#3f69b5"/><stop offset=".26" stop-color="#4263b1"/><stop offset=".28" stop-color="#495eae"/><stop offset=".3" stop-color="#525aab"/><stop offset=".32" stop-color="#5d56a8"/><stop offset=".34" stop-color="#6852a6"/><stop offset=".36" stop-color="#714fa4"/><stop offset=".38" stop-color="#794da2"/><stop offset=".4" stop-color="#804aa1"/><stop offset=".42" stop-color="#8549a0"/><stop offset=".44" stop-color="#89479f"/><stop offset=".46" stop-color="#8b459e"/><stop offset=".48" stop-color="#8e449d"/><stop offset=".5" stop-color="#91449c"/><stop offset=".52" stop-color="#97449b"/><stop offset=".54" stop-color="#9d449a"/><stop offset=".56" stop-color="#a3449a"/><stop offset=".58" stop-color="#a84599"/><stop offset=".6" stop-color="#ab4598"/><stop offset=".62" stop-color="#af4498"/><stop offset=".64" stop-color="#b44498"/><stop offset=".66" stop-color="#b84498"/><stop offset=".68" stop-color="#bc4598"/><stop offset=".7" stop-color="#bf4598"/><stop offset=".72" stop-color="#c24598"/><stop offset=".74" stop-color="#c44498"/><stop offset=".76" stop-color="#c64299"/></linearGradient>
<linearGradient id="r88" gradientUnits="userSpaceOnUse" x1="120" x2="880"><stop offset=".1" stop-color="#4885c8"/><stop offset=".12" stop-color="#4681c5"/><stop offset=".14" stop-color="#447cc2"/><stop offset=".16" stop-color="#4178bf"/><stop offset=".18" stop-color="#3f74bc"/><stop offset=".2" stop-color="#3e70ba"/><stop offset=".22" stop-color="#3d6cb7"/><stop offset=".24" stop-color="#3e67b4"/><stop offset=".26" stop-color="#4262b1"/><stop offset=".28" stop-color="#485dad"/><stop offset=".3" stop-color="#5259aa"/><stop offset=".32" stop-color="#5c55a7"/><stop offset=".34" stop-color="#6751a5"/><stop offset=".36" stop-color="#704fa3"/><stop offset=".38" stop-color="#794ca2"/><stop offset=".4" stop-color="#7f4aa1"/><stop offset=".42" stop-color="#8448a0"/><stop offset=".44" stop-color="#87479f"/><stop offset=".46" stop-color="#8a469e"/><stop offset=".48" stop-color="#8c459d"/><stop offset=".5" stop-color="#90449c"/><stop offset=".52" stop-color="#95449b"/><stop offset=".54" stop-color="#9c449a"/><stop offset=".56" stop-color="#a2449a"/><stop offset=".58" stop-color="#a74499"/><stop offset=".6" stop-color="#aa4498"/><stop offset=".62" stop-color="#ae4498"/><stop offset=".64" stop-color="#b34498"/><stop offset=".66" stop-color="#b74498"/><stop offset=".68" stop-color="#bb4598"/><stop offset=".7" stop-color="#be4598"/><stop offset=".72" stop-color="#c14598"/><stop offset=".74" stop-color="#c34498"/><stop offset=".76" stop-color="#c54399"/></linearGradient>
<linearGradient id="r89" gradientUnits="userSpaceOnUse" x1="120" x2="880"><stop offset=".1" stop-color="#4884c7"/><stop offset=".12" stop-color="#467fc4"/><stop offset=".14" stop-color="#447bc1"/><stop offset=".16" stop-color="#4177be"/><stop offset=".18" stop-color="#3f73bb"/><stop offset=".2" stop-color="#3e6fb9"/><stop offset=".22" stop-color="#3d6bb6"/><stop offset=".24" stop-color="#3e66b3"/><stop offset=".26" stop-color="#4161b0"/><stop offset=".28" stop-color="#475cad"/><stop offset=".3" stop-color="#5158aa"/><stop offset=".32" stop-color="#5c54a7"/><stop offset=".34" stop-color="#6651a5"/><stop offset=".36" stop-color="#704ea3"/><stop offset=".38" stop-color="#784ba2"/><stop offset=".4" stop-color="#7e4aa1"/><stop offset=".42" stop-color="#8348a0"/><stop offset=".44" stop-color="#86479f"/><stop offset=".46" stop-color="#89469e"/><stop offset=".48" stop-color="#8b459d"/><stop offset=".5" stop-color="#8f449c"/><stop offset=".52" stop-color="#94449b"/><stop offset=".54" stop-color="#9b449b"/><stop offset=".56" stop-color="#a1449a"/><stop offset=".58" stop-color="#a64499"/><stop offset=".6" stop-color="#aa4498"/><stop offset=".62" stop-color="#ae4498"/><stop offset=".64" stop-color="#b24498"/><stop offset=".66" stop-color="#b64598"/><stop offset=".68" stop-color="#b94598"/><stop offset=".7" stop-color="#bd4698"/><stop offset=".72" stop-color="#bf4598"/><stop offset=".74" stop-color="#c24498"/><stop offset=".76" stop-color="#c44399"/></linearGradient>
<linearGradient id="r90" gradientUnits="userSpaceOnUse" x1="120" x2="880"><stop offset=".12" stop-color="#467ec3"/><stop offset=".14" stop-color="#4479c0"/><stop offset=".16" stop-color="#4175bd"/><stop offset=".18" stop-color="#3f72bb"/><stop offset=".2" stop-color="#3d6eb8"/><stop offset=".22" stop-color="#3d6ab5"/><stop offset=".24" stop-color="#3d65b2"/><stop offset=".26" stop-color="#4060af"/><stop offset=".28" stop-color="#475bac"/><stop offset=".3" stop-color="#5057a9"/><stop offset=".32" stop-color="#5b53a6"/><stop offset=".34" stop-color="#6550a4"/><stop offset=".36" stop-color="#6f4da3"/><stop offset=".38" stop-color="#774ba1"/><stop offset=".4" stop-color="#7d49a0"/><stop offset=".42" stop-color="#8148a0"/><stop offset=".44" stop-color="#85479f"/><stop offset=".46" stop-color="#87469e"/><stop offset=".48" stop-color="#8a459d"/><stop offset=".5" stop-color="#8e459c"/><stop offset=".52" stop-color="#93449b"/><stop offset=".54" stop-color="#9a449b"/><stop offset=".56" stop-color="#a0459a"/><stop offset=".58" stop-color="#a54599"/><stop offset=".6" stop-color="#a94498"/><stop offset=".62" stop-color="#ad4498"/><stop offset=".64" stop-color="#b14498"/><stop offset=".66" stop-color="#b54598"/><stop offset=".68" stop-color="#b84598"/><stop offset=".7" stop-color="#bb4698"/><stop offset=".72" stop-color="#be4598"/><stop offset=".74" stop-color="#c14499"/><stop offset=".76" stop-color="#c34399"/></linearGradient>
<linearGradient id="r91" gradientUnits="userSpaceOnUse" x1="120" x2="880"><stop offset=".12" stop-color="#467dc2"/><stop offset=".14" stop-color="#4478bf"/><stop offset=".16" stop-color="#4274bc"/><stop offset=".18" stop-color="#3f71ba"/><stop offset=".2" stop-color="#3d6db7"/><stop offset=".22" stop-color="#3d68b4"/><stop offset=".24" stop-color="#3d64b2"/><stop offset=".26" stop-color="#405faf"/><stop offset=".28" stop-color="#465aac"/><stop offset=".3" stop-color="#4f56a9"/><stop offset=".32" stop-color="#5a52a6"/><stop offset=".34" stop-color="#654fa4"/><stop offset=".36" stop-color="#6e4ca2"/><stop offset=".38" stop-color="#764aa1"/><stop offset=".4" stop-color="#7c49a0"/><stop offset=".42" stop-color="#8048a0"/><stop offset=".44" stop-color="#83479f"/><stop offset=".46" stop-color="#86469e"/><stop offset=".48" stop-color="#89459d"/><stop offset=".5" stop-color="#8d459c"/><stop offset=".52" stop-color="#92459c"/><stop offset=".54" stop-color="#98459b"/><stop offset=".56" stop-color="#9f459a"/><stop offset=".58" stop-color="#a44599"/><stop offset=".6" stop-color="#a84599"/><stop offset=".62" stop-color="#ac4598"/><stop offset=".64" stop-color="#b04598"/><stop offset=".66" stop-color="#b44598"/><stop offset=".68" stop-color="#b74598"/><stop offset=".7" stop-color="#ba4698"/><stop offset=".72" stop-color="#bd4598"/><stop offset=".74" stop-color="#c04499"/><stop offset=".76" stop-color="#c24399"/></linearGradient>
<linearGradient id="r92" gradientUnits="userSpaceOnUse" x1="120" x2="880"><stop offset=".12" stop-color="#467cc2"/><stop offset=".14" stop-color="#4477bf"/><stop offset=".16" stop-color="#4273bc"/><stop offset=".18" stop-color="#3f6fb9"/><stop offset=".2" stop-color="#3d6cb6"/><stop offset=".22" stop-color="#3c67b4"/><stop offset=".24" stop-color="#3d63b1"/><stop offset=".26" stop-color="#3f5eae"/><stop offset=".28" stop-color="#4559ab"/><stop offset=".3" stop-color="#4f55a8"/><stop offset=".32" stop-color="#5a51a5"/><stop offset=".34" stop-color="#644ea4"/><stop offset=".36" stop-color="#6d4ca2"/><stop offset=".38" stop-color="#754aa1"/><stop offset=".4" stop-color="#7b49a0"/><stop offset=".42" stop-color="#7f48a0"/><stop offset=".44" stop-color="#82479f"/><stop offset=".46" stop-color="#85469e"/><stop offset=".48" stop-color="#88459d"/><stop offset=".5" stop-color="#8c459c"/><stop offset=".52" stop-color="#91459c"/><stop offset=".54" stop-color="#98459b"/><stop offset=".56" stop-color="#9e459a"/><stop offset=".58" stop-color="#a34599"/><stop offset=".6" stop-color="#a74599"/><stop offset=".62" stop-color="#ab4598"/><stop offset=".64" stop-color="#af4598"/><stop offset=".66" stop-color="#b34598"/><stop offset=".68" stop-color="#b64598"/><stop offset=".7" stop-color="#b94598"/><stop offset=".72" stop-color="#bc4598"/><stop offset=".74" stop-color="#bf4499"/></linearGradient>
<linearGradient id="r93" gradientUnits="userSpaceOnUse" x1="120" x2="880"><stop offset=".12" stop-color="#467ac1"/><stop offset=".14" stop-color="#4476be"/><stop offset=".16" stop-color="#4272bb"/><stop offset=".18" stop-color="#3f6eb8"/><stop offset=".2" stop-color="#3d6ab5"/><stop offset=".22" stop-color="#3c66b3"/><stop offset=".24" stop-color="#3c61b0"/><stop offset=".26" stop-color="#3e5cae"/><stop offset=".28" stop-color="#4458ab"/><stop offset=".3" stop-color="#4e54a8"/><stop offset=".32" stop-color="#5951a5"/><stop offset=".34" stop-color="#634ea3"/><stop offset=".36" stop-color="#6c4ba2"/><stop offset=".38" stop-color="#7449a1"/><stop offset=".4" stop-color="#7a48a0"/><stop offset=".42" stop-color="#7e48a0"/><stop offset=".44" stop-color="#81479f"/><stop offset=".46" stop-color="#84469e"/><stop offset=".48" stop-color="#87469e"/><stop offset=".5" stop-color="#8b459d"/><stop offset=".52" stop-color="#90459c"/><stop offset=".54" stop-color="#97459b"/><stop offset=".56" stop-color="#9d459a"/><stop offset=".58" stop-color="#a24599"/><stop offset=".6" stop-color="#a64599"/><stop offset=".62" stop-color="#aa4599"/><stop offset=".64" stop-color="#ae4598"/><stop offset=".66" stop-color="#b24598"/><stop offset=".68" stop-color="#b54598"/><stop offset=".7" stop-color="#b84598"/><stop offset=".72" stop-color="#bb4598"/><stop offset=".74" stop-color="#be4499"/></linearGradient>
<linearGradient id="r94" gradientUnits="userSpaceOnUse" x1="120" x2="880"><stop offset=".12" stop-color="#4679c0"/><stop offset=".14" stop-color="#4475bd"/><stop offset=".16" stop-color="#4171ba"/><stop offset=".18" stop-color="#3f6db7"/><stop offset=".2" stop-color="#3d69b4"/><stop offset=".22" stop-color="#3c65b2"/><stop offset=".24" stop-color="#3c60b0"/><stop offset=".26" stop-color="#3e5bad"/><stop offset=".28" stop-color="#4457aa"/><stop offset=".3" stop-color="#4d53a7"/><stop offset=".32" stop-color="#5850a5"/><stop offset=".34" stop-color="#624da3"/><stop offset=".36" stop-color="#6b4ba2"/><stop offset=".38" stop-color="#7349a1"/><stop offset=".4" stop-color="#7948a0"/><stop offset=".42" stop-color="#7c48a0"/><stop offset=".44" stop-color="#80479f"/><stop offset=".46" stop-color="#83469f"/><stop offset=".48" stop-color="#86469e"/><stop offset=".5" stop-color="#8a469d"/><stop offset=".52" stop-color="#90459c"/><stop offset=".54" stop-color="#96459b"/><stop offset=".56" stop-color="#9c459a"/><stop offset=".58" stop-color="#a1459a"/><stop offset=".6" stop-color="#a54599"/><stop offset=".62" stop-color="#a94599"/><stop offset=".64" stop-color="#ad4599"/><stop offset=".66" stop-color="#b14598"/><stop offset=".68" stop-color="#b44598"/><stop offset=".7" stop-color="#b74598"/><stop offset=".72" stop-color="#ba4598"/><stop offset=".74" stop-color="#bd4499"/></linearGradient>
<linearGradient id="r95" gradientUnits="userSpaceOnUse" x1="120" x2="880"><stop offset=".12" stop-color="#4578bf"/><stop offset=".14" stop-color="#4474bc"/><stop offset=".16" stop-color="#4170b9"/><stop offset=".18" stop-color="#3f6cb6"/><stop offset=".2" stop-color="#3d68b4"/><stop offset=".22" stop-color="#3c64b1"/><stop offset=".24" stop-color="#3c5faf"/><stop offset=".26" stop-color="#3e5bac"/><stop offset=".28" stop-color="#4356a9"/><stop offset=".3" stop-color="#4d52a7"/><stop offset=".32" stop-color="#574fa4"/><stop offset=".34" stop-color="#614da3"/><stop offset=".36" stop-color="#6a4aa1"/><stop offset=".38" stop-color="#7249a1"/><stop offset=".4" stop-color="#7748a0"/><stop offset=".42" stop-color="#7b48a0"/><stop offset=".44" stop-color="#7f479f"/><stop offset=".46" stop-color="#82479f"/><stop offset=".48" stop-color="#85469e"/><stop offset=".5" stop-color="#8a469d"/><stop offset=".52" stop-color="#8f469c"/><stop offset=".54" stop-color="#95469b"/><stop offset=".56" stop-color="#9b459a"/><stop offset=".58" stop-color="#a0459a"/><stop offset=".6" stop-color="#a44599"/><stop offset=".62" stop-color="#a84599"/><stop offset=".64" stop-color="#ac4599"/><stop offset=".66" stop-color="#b04599"/><stop offset=".68" stop-color="#b34598"/><stop offset=".7" stop-color="#b64598"/><stop offset=".72" stop-color="#b94599"/><stop offset=".74" stop-color="#bc4499"/></linearGradient>
<linearGradient id="r96" gradientUnits="userSpaceOnUse" x1="120" x2="880"><stop offset=".12" stop-color="#4577be"/><stop offset=".14" stop-color="#4373bb"/><stop offset=".16" stop-color="#416fb8"/><stop offset=".18" stop-color="#3f6bb5"/><stop offset=".2" stop-color="#3d67b3"/><stop offset=".22" stop-color="#3c63b0"/><stop offset=".24" stop-color="#3c5fae"/><stop offset=".26" stop-color="#3d5aac"/><stop offset=".28" stop-color="#4355a9"/><stop offset=".3" stop-color="#4c52a6"/><stop offset=".32" stop-color="#564ea4"/><stop offset=".34" stop-color="#604ca2"/><stop offset=".36" stop-color="#694aa1"/><stop offset=".38" stop-color="#7049a1"/><stop offset=".4" stop-color="#7648a0"/><stop offset=".42" stop-color="#7a48a0"/><stop offset=".44" stop-color="#7d47a0"/><stop offset=".46" stop-color="#81479f"/><stop offset=".48" stop-color="#85469e"/><stop offset=".5" stop-color="#89469d"/><stop offset=".52" stop-color="#8e469c"/><stop offset=".54" stop-color="#94469b"/><stop offset=".56" stop-color="#9a469a"/><stop offset=".58" stop-color="#9f469a"/><stop offset=".6" stop-color="#a34599"/><stop offset=".62" stop-color="#a84599"/><stop offset=".64" stop-color="#ac4599"/><stop offset=".66" stop-color="#af4599"/><stop offset=".68" stop-color="#b24598"/><stop offset=".7" stop-color="#b54598"/><stop offset=".72" stop-color="#b84599"/><stop offset=".74" stop-color="#bb4499"/></linearGradient>
<linearGradient id="r97" gradientUnits="userSpaceOnUse" x1="120" x2="880"><stop offset=".12" stop-color="#4576bd"/><stop offset=".14" stop-color="#4372ba"/><stop offset=".16" stop-color="#416eb7"/><stop offset=".18" stop-color="#3f6ab4"/><stop offset=".2" stop-color="#3d66b2"/><stop offset=".22" stop-color="#3c62b0"/><stop offset=".24" stop-color="#3b5ead"/><stop offset=".26" stop-color="#3d59ab"/><stop offset=".28" stop-color="#4355a8"/><stop offset=".3" stop-color="#4b51a6"/><stop offset=".32" stop-color="#554ea4"/><stop offset=".34" stop-color="#5f4ba2"/><stop offset=".36" stop-color="#684aa1"/><stop offset=".38" stop-color="#6f49a1"/><stop offset=".4" stop-color="#7548a0"/><stop offset=".42" stop-color="#7948a0"/><stop offset=".44" stop-color="#7c48a0"/><stop offset=".46" stop-color="#80479f"/><stop offset=".48" stop-color="#84479e"/><stop offset=".5" stop-color="#88469d"/><stop offset=".52" stop-color="#8e469c"/><stop offset=".54" stop-color="#93469b"/><stop offset=".56" stop-color="#99469b"/><stop offset=".58" stop-color="#9e469a"/><stop offset=".6" stop-color="#a3469a"/><stop offset=".62" stop-color="#a74699"/><stop offset=".64" stop-color="#ab4699"/><stop offset=".66" stop-color="#ae4599"/><stop offset=".68" stop-color="#b14599"/><stop offset=".7" stop-color="#b44599"/><stop offset=".72" stop-color="#b74599"/></linearGradient>
<linearGradient id="r98" gradientUnits="userSpaceOnUse" x1="120" x2="880"><stop offset=".12" stop-color="#4575bc"/><stop offset=".14" stop-color="#4371b9"/><stop offset=".16" stop-color="#416db6"/><stop offset=".18" stop-color="#3f69b3"/><stop offset=".2" stop-color="#3d65b1"/><stop offset=".22" stop-color="#3c61af"/><stop offset=".24" stop-color="#3b5dad"/><stop offset=".26" stop-color="#3d58aa"/><stop offset=".28" stop-color="#4254a8"/><stop offset=".3" stop-color="#4b50a5"/><stop offset=".32" stop-color="#554da3"/><stop offset=".34" stop-color="#5e4ba2"/><stop offset=".36" stop-color="#6649a1"/><stop offset=".38" stop-color="#6e48a1"/><stop offset=".4" stop-color="#7348a0"/><stop offset=".42" stop-color="#7848a0"/><stop offset=".44" stop-color="#7b48a0"/><stop offset=".46" stop-color="#7f479f"/><stop offset=".48" stop-color="#83479e"/><stop offset=".5" stop-color="#88479d"/><stop offset=".52" stop-color="#8d479c"/><stop offset=".54" stop-color="#93469b"/><stop offset=".56" stop-color="#98469b"/><stop offset=".58" stop-color="#9d469a"/><stop offset=".6" stop-color="#a2469a"/><stop offset=".62" stop-color="#a6469a"/><stop offset=".64" stop-color="#aa4699"/><stop offset=".66" stop-color="#ad4699"/><stop offset=".68" stop-color="#b04599"/><stop offset=".7" stop-color="#b34599"/><stop offset=".72" stop-color="#b64599"/></linearGradient>
<linearGradient id="r99" gradientUnits="userSpaceOnUse" x1="120" x2="880"><stop offset=".14" stop-color="#4370b8"/><stop offset=".16" stop-color="#416cb5"/><stop offset=".18" stop-color="#3f68b2"/><stop offset=".2" stop-color="#3d64b0"/><stop offset=".22" stop-color="#3c60ae"/><stop offset=".24" stop-color="#3b5cac"/><stop offset=".26" stop-color="#3d58aa"/><stop offset=".28" stop-color="#4253a7"/><stop offset=".3" stop-color="#4a50a5"/><stop offset=".32" stop-color="#544da3"/><stop offset=".34" stop-color="#5d4ba2"/><stop offset=".36" stop-color="#6549a1"/><stop offset=".38" stop-color="#6c48a1"/><stop offset=".4" stop-color="#7248a1"/><stop offset=".42" stop-color="#7648a1"/><stop offset=".44" stop-color="#7a48a0"/><stop offset=".46" stop-color="#7e489f"/><stop offset=".48" stop-color="#83479e"/><stop offset=".5" stop-color="#87479d"/><stop offset=".52" stop-color="#8d479c"/><stop offset=".54" stop-color="#92479c"/><stop offset=".56" stop-color="#98479b"/><stop offset=".58" stop-color="#9c469a"/><stop offset=".6" stop-color="#a1469a"/><stop offset=".62" stop-color="#a5469a"/><stop offset=".64" stop-color="#a9469a"/><stop offset=".66" stop-color="#ac4699"/><stop offset=".68" stop-color="#af4599"/><stop offset=".7" stop-color="#b24599"/><stop offset=".72" stop-color="#b54599"/></linearGradient>
<linearGradient id="r100" gradientUnits="userSpaceOnUse" x1="120" x2="880"><stop offset=".14" stop-color="#436fb7"/><stop offset=".16" stop-color="#416bb4"/><stop offset=".18" stop-color="#3f67b2"/><stop offset=".2" stop-color="#3d64b0"/><stop offset=".22" stop-color="#3c60ae"/><stop offset=".24" stop-color="#3b5bac"/><stop offset=".26" stop-color="#3d57a9"/><stop offset=".28" stop-color="#4253a7"/><stop offset=".3" stop-color="#4a4fa5"/><stop offset=".32" stop-color="#534ca3"/><stop offset=".34" stop-color="#5c4aa1"/><stop offset=".36" stop-color="#6449a1"/><stop offset=".38" stop-color="#6b48a1"/><stop offset=".4" stop-color="#7148a1"/><stop offset=".42" stop-color="#7548a1"/><stop offset=".44" stop-color="#7948a0"/><stop offset=".46" stop-color="#7e489f"/><stop offset=".48" stop-color="#82479e"/><stop offset=".5" stop-color="#87479d"/><stop offset=".52" stop-color="#8c479c"/><stop offset=".54" stop-color="#92479c"/><stop offset=".56" stop-color="#97479b"/><stop offset=".58" stop-color="#9c479b"/><stop offset=".6" stop-color="#a0469a"/><stop offset=".62" stop-color="#a4469a"/><stop offset=".64" stop-color="#a8469a"/><stop offset=".66" stop-color="#ac469a"/><stop offset=".68" stop-color="#af4599"/><stop offset=".7" stop-color="#b24599"/><stop offset=".72" stop-color="#b54599"/></linearGradient>
<linearGradient id="r101" gradientUnits="userSpaceOnUse" x1="120" x2="880"><stop offset=".14" stop-color="#436eb7"/><stop offset=".16" stop-color="#416ab4"/><stop offset=".18" stop-color="#3f66b1"/><stop offset=".2" stop-color="#3d63af"/><stop offset=".22" stop-color="#3c5fad"/><stop offset=".24" stop-color="#3b5bab"/><stop offset=".26" stop-color="#3d56a9"/><stop offset=".28" stop-color="#4252a7"/><stop offset=".3" stop-color="#494fa4"/><stop offset=".32" stop-color="#524ca2"/><stop offset=".34" stop-color="#5b4aa1"/><stop offset=".36" stop-color="#6349a1"/><stop offset=".38" stop-color="#6a48a1"/><stop offset=".4" stop-color="#7048a1"/><stop offset=".42" stop-color="#7448a1"/><stop offset=".44" stop-color="#7948a0"/><stop offset=".46" stop-color="#7d489f"/><stop offset=".48" stop-color="#82489e"/><stop offset=".5" stop-color="#87479d"/><stop offset=".52" stop-color="#8c479c"/><stop offset=".54" stop-color="#91479c"/><stop offset=".56" stop-color="#96479b"/><stop offset=".58" stop-color="#9b479b"/><stop offset=".6" stop-color="#a0479b"/><stop offset=".62" stop-color="#a4479a"/><stop offset=".64" stop-color="#a7469a"/><stop offset=".66" stop-color="#ab469a"/><stop offset=".68" stop-color="#ae469a"/><stop offset=".7" stop-color="#b14599"/><stop offset=".72" stop-color="#b4459a"/></linearGradient>
<linearGradient id="r102" gradientUnits="userSpaceOnUse" x1="120" x2="880"><stop offset=".14" stop-color="#436db6"/><stop offset=".16" stop-color="#4169b3"/><stop offset=".18" stop-color="#3f65b0"/><stop offset=".2" stop-color="#3d62ae"/><stop offset=".22" stop-color="#3c5eac"/><stop offset=".24" stop-color="#3b5aab"/><stop offset=".26" stop-color="#3d56a8"/><stop offset=".28" stop-color="#4152a6"/><stop offset=".3" stop-color="#484ea4"/><stop offset=".32" stop-color="#514ba2"/><stop offset=".34" stop-color="#5a49a1"/><stop offset=".36" stop-color="#6248a1"/><stop offset=".38" stop-color="#6948a1"/><stop offset=".4" stop-color="#6e48a1"/><stop offset=".42" stop-color="#7349a1"/><stop offset=".44" stop-color="#7849a0"/><stop offset=".46" stop-color="#7d489f"/><stop offset=".48" stop-color="#81489e"/><stop offset=".5" stop-color="#86489d"/><stop offset=".52" stop-color="#8b479c"/><stop offset=".54" stop-color="#90479c"/><stop offset=".56" stop-color="#96479b"/><stop offset=".58" stop-color="#9a479b"/><stop offset=".6" stop-color="#9f479b"/><stop offset=".62" stop-color="#a3479b"/><stop offset=".64" stop-color="#a7469a"/><stop offset=".66" stop-color="#aa469a"/><stop offset=".68" stop-color="#ad469a"/><stop offset=".7" stop-color="#b0459a"/></linearGradient>
<linearGradient id="r103" gradientUnits="userSpaceOnUse" x1="120" x2="880"><stop offset=".14" stop-color="#426cb5"/><stop offset=".16" stop-color="#4168b2"/><stop offset=".18" stop-color="#3f64b0"/><stop offset=".2" stop-color="#3d61ae"/><stop offset=".22" stop-color="#3c5dac"/><stop offset=".24" stop-color="#3b59aa"/><stop offset=".26" stop-color="#3d55a8"/><stop offset=".28" stop-color="#4152a6"/><stop offset=".3" stop-color="#484ea4"/><stop offset=".32" stop-color="#504ba2"/><stop offset=".34" stop-color="#5949a1"/><stop offset=".36" stop-color="#6148a1"/><stop offset=".38" stop-color="#6748a1"/><stop offset=".4" stop-color="#6d48a1"/><stop offset=".42" stop-color="#7249a1"/><stop offset=".44" stop-color="#7749a0"/><stop offset=".46" stop-color="#7c489f"/><stop offset=".48" stop-color="#81489e"/><stop offset=".5" stop-color="#86489d"/><stop offset=".52" stop-color="#8b489c"/><stop offset=".54" stop-color="#90489c"/><stop offset=".56" stop-color="#95489b"/><stop offset=".58" stop-color="#9a479b"/><stop offset=".6" stop-color="#9e479b"/><stop offset=".62" stop-color="#a2479b"/><stop offset=".64" stop-color="#a6479b"/><stop offset=".66" stop-color="#aa469a"/><stop offset=".68" stop-color="#ad469a"/><stop offset=".7" stop-color="#b0459a"/></linearGradient>
<linearGradient id="r104" gradientUnits="userSpaceOnUse" x1="120" x2="880"><stop offset=".14" stop-color="#426bb4"/><stop offset=".16" stop-color="#4167b1"/><stop offset=".18" stop-color="#3f64af"/><stop offset=".2" stop-color="#3d60ad"/><stop offset=".22" stop-color="#3c5dab"/><stop offset=".24" stop-color="#3c59aa"/><stop offset=".26" stop-color="#3d55a8"/><stop offset=".28" stop-color="#4151a5"/><stop offset=".3" stop-color="#474da3"/><stop offset=".32" stop-color="#4f4ba2"/><stop offset=".34" stop-color="#5849a1"/><stop offset=".36" stop-color="#5f48a1"/><stop offset=".38" stop-color="#6648a1"/><stop offset=".4" stop-color="#6c48a1"/><stop offset=".42" stop-color="#7149a1"/><stop offset=".44" stop-color="#7649a0"/><stop offset=".46" stop-color="#7c489f"/><stop offset=".48" stop-color="#80489e"/><stop offset=".5" stop-color="#85489d"/><stop offset=".52" stop-color="#8a489d"/><stop offset=".54" stop-color="#8f489c"/><stop offset=".56" stop-color="#95489c"/><stop offset=".58" stop-color="#99489b"/><stop offset=".6" stop-color="#9e479b"/><stop offset=".62" stop-color="#a2479b"/><stop offset=".64" stop-color="#a6479b"/><stop offset=".66" stop-color="#a9469a"/><stop offset=".68" stop-color="#ac469a"/><stop offset=".7" stop-color="#af459a"/></linearGradient>
<linearGradient id="r105" gradientUnits="userSpaceOnUse" x1="120" x2="880"><stop offset=".14" stop-color="#426ab4"/><stop offset=".16" stop-color="#4066b1"/><stop offset=".18" stop-color="#3f63ae"/><stop offset=".2" stop-color="#3d5fad"/><stop offset=".22" stop-color="#3c5cab"/><stop offset=".24" stop-color="#3c58a9"/><stop offset=".26" stop-color="#3d55a7"/><stop offset=".28" stop-color="#4051a5"/><stop offset=".3" stop-color="#474da3"/><stop offset=".32" stop-color="#4f4aa2"/><stop offset=".34" stop-color="#5749a1"/><stop offset=".36" stop-color="#5e48a1"/><stop offset=".38" stop-color="#6548a1"/><stop offset=".4" stop-color="#6b48a1"/><stop offset=".42" stop-color="#7149a1"/><stop offset=".44" stop-color="#7649a0"/><stop offset=".46" stop-color="#7b489f"/><stop offset=".48" stop-color="#80489e"/><stop offset=".5" stop-color="#85489d"/><stop offset=".52" stop-color="#8a489d"/><stop offset=".54" stop-color="#8f489c"/><stop offset=".56" stop-color="#94489c"/><stop offset=".58" stop-color="#99489b"/><stop offset=".6" stop-color="#9d489b"/><stop offset=".62" stop-color="#a1479b"/><stop offset=".64" stop-color="#a5479b"/><stop offset=".66" stop-color="#a9479b"/><stop offset=".68" stop-color="#ac469a"/><stop offset=".7" stop-color="#af459a"/></linearGradient>
<linearGradient id="r106" gradientUnits="userSpaceOnUse" x1="120" x2="880"><stop offset=".14" stop-color="#4269b3"/><stop offset=".16" stop-color="#4065b0"/><stop offset=".18" stop-color="#3f62ae"/><stop offset=".2" stop-color="#3d5eac"/><stop offset=".22" stop-color="#3c5baa"/><stop offset=".24" stop-color="#3c58a9"/><stop offset=".26" stop-color="#3d54a7"/><stop offset=".28" stop-color="#4051a5"/><stop offset=".3" stop-color="#464da3"/><stop offset=".32" stop-color="#4e4aa1"/><stop offset=".34" stop-color="#5649a1"/><stop offset=".36" stop-color="#5d48a1"/><stop offset=".38" stop-color="#6448a1"/><stop offset=".4" stop-color="#6a48a1"/><stop offset=".42" stop-color="#7049a1"/><stop offset=".44" stop-color="#7549a0"/><stop offset=".46" stop-color="#7b489f"/><stop offset=".48" stop-color="#80489e"/><stop offset=".5" stop-color="#85489d"/><stop offset=".52" stop-color="#89489d"/><stop offset=".54" stop-color="#8f489c"/><stop offset=".56" stop-color="#94489c"/><stop offset=".58" stop-color="#98489c"/><stop offset=".6" stop-color="#9d489b"/><stop offset=".62" stop-color="#a1489b"/><stop offset=".64" stop-color="#a5479b"/><stop offset=".66" stop-color="#a8479b"/><stop offset=".68" stop-color="#ab469b"/><stop offset=".7" stop-color="#ae469b"/></linearGradient>
<linearGradient id="r107" gradientUnits="userSpaceOnUse" x1="120" x2="880"><stop offset=".16" stop-color="#4064b0"/><stop offset=".18" stop-color="#3f61ad"/><stop offset=".2" stop-color="#3d5eac"/><stop offset=".22" stop-color="#3c5baa"/><stop offset=".24" stop-color="#3c58a9"/><stop offset=".26" stop-color="#3d54a7"/><stop offset=".28" stop-color="#4050a5"/><stop offset=".3" stop-color="#454da3"/><stop offset=".32" stop-color="#4d4aa1"/><stop offset=".34" stop-color="#5549a1"/><stop offset=".36" stop-color="#5c48a1"/><stop offset=".38" stop-color="#6348a1"/><stop offset=".4" stop-color="#6a48a1"/><stop offset=".42" stop-color="#6f49a0"/><stop offset=".44" stop-color="#7549a0"/><stop offset=".46" stop-color="#7a489f"/><stop offset=".48" stop-color="#7f489e"/><stop offset=".5" stop-color="#84489d"/><stop offset=".52" stop-color="#89489c"/><stop offset=".54" stop-color="#8e489c"/><stop offset=".56" stop-color="#93489c"/><stop offset=".58" stop-color="#98489c"/><stop offset=".6" stop-color="#9d489c"/><stop offset=".62" stop-color="#a1489c"/><stop offset=".64" stop-color="#a4479b"/><stop offset=".66" stop-color="#a8479b"/><stop offset=".68" stop-color="#ab469b"/><stop offset=".7" stop-color="#ae469b"/></linearGradient>
<linearGradient id="r108" gradientUnits="userSpaceOnUse" x1="120" x2="880"><stop offset=".16" stop-color="#4063af"/><stop offset=".18" stop-color="#3f60ad"/><stop offset=".2" stop-color="#3d5dab"/><stop offset=".22" stop-color="#3c5aaa"/><stop offset=".24" stop-color="#3c57a8"/><stop offset=".26" stop-color="#3d54a7"/><stop offset=".28" stop-color="#3f50a5"/><stop offset=".3" stop-color="#454da3"/><stop offset=".32" stop-color="#4c4aa1"/><stop offset=".34" stop-color="#5449a1"/><stop offset=".36" stop-color="#5b48a1"/><stop offset=".38" stop-color="#6248a1"/><stop offset=".4" stop-color="#6949a1"/><stop offset=".42" stop-color="#6f49a0"/><stop offset=".44" stop-color="#75499f"/><stop offset=".46" stop-color="#7a489e"/><stop offset=".48" stop-color="#7f489e"/><stop offset=".5" stop-color="#84489d"/><stop offset=".52" stop-color="#89489c"/><stop offset=".54" stop-color="#8e489c"/><stop offset=".56" stop-color="#93489c"/><stop offset=".58" stop-color="#98489c"/><stop offset=".6" stop-color="#9c489c"/><stop offset=".62" stop-color="#a0489c"/><stop offset=".64" stop-color="#a4479b"/><stop offset=".66" stop-color="#a8479b"/><stop offset=".68" stop-color="#ab469b"/></linearGradient>
<linearGradient id="r109" gradientUnits="userSpaceOnUse" x1="120" x2="880"><stop offset=".16" stop-color="#4062af"/><stop offset=".18" stop-color="#3e5fac"/><stop offset=".2" stop-color="#3d5cab"/><stop offset=".22" stop-color="#3c59a9"/><stop offset=".24" stop-color="#3c57a8"/><stop offset=".26" stop-color="#3d53a6"/><stop offset=".28" stop-color="#3f50a5"/><stop offset=".3" stop-color="#444da3"/><stop offset=".32" stop-color="#4b4aa2"/><stop offset=".34" stop-color="#5349a1"/><stop offset=".36" stop-color="#5a48a1"/><stop offset=".38" stop-color="#6148a1"/><stop offset=".4" stop-color="#6849a0"/><stop offset=".42" stop-color="#6e49a0"/><stop offset=".44" stop-color="#74499f"/><stop offset=".46" stop-color="#7a489e"/><stop offset=".48" stop-color="#7f489d"/><stop offset=".5" stop-color="#83489d"/><stop offset=".52" stop-color="#88489c"/><stop offset=".54" stop-color="#8d489c"/><stop offset=".56" stop-color="#92489c"/><stop offset=".58" stop-color="#97489c"/><stop offset=".6" stop-color="#9c489c"/><stop offset=".62" stop-color="#a0489c"/><stop offset=".64" stop-color="#a4479c"/><stop offset=".66" stop-color="#a7479b"/><stop offset=".68" stop-color="#aa469b"/></linearGradient>
<linearGradient id="r110" gradientUnits="userSpaceOnUse" x1="120" x2="880"><stop offset=".16" stop-color="#3f61ae"/><stop offset=".18" stop-color="#3e5eac"/><stop offset=".2" stop-color="#3d5baa"/><stop offset=".22" stop-color="#3c59a9"/><stop offset=".24" stop-color="#3c56a8"/><stop offset=".26" stop-color="#3c53a6"/><stop offset=".28" stop-color="#3f50a4"/><stop offset=".3" stop-color="#444da3"/><stop offset=".32" stop-color="#4b4aa2"/><stop offset=".34" stop-color="#5249a1"/><stop offset=".36" stop-color="#5948a1"/><stop offset=".38" stop-color="#6048a1"/><stop offset=".4" stop-color="#6749a0"/><stop offset=".42" stop-color="#6e49a0"/><stop offset=".44" stop-color="#74499f"/><stop offset=".46" stop-color="#7a489e"/><stop offset=".48" stop-color="#7e489d"/><stop offset=".5" stop-color="#83489d"/><stop offset=".52" stop-color="#88489c"/><stop offset=".54" stop-color="#8d489c"/><stop offset=".56" stop-color="#92489c"/><stop offset=".58" stop-color="#97489c"/><stop offset=".6" stop-color="#9c489c"/><stop offset=".62" stop-color="#a0489c"/><stop offset=".64" stop-color="#a4489c"/><stop offset=".66" stop-color="#a7479c"/><stop offset=".68" stop-color="#aa469b"/></linearGradient>
<linearGradient id="r111" gradientUnits="userSpaceOnUse" x1="120" x2="880"><stop offset=".16" stop-color="#3f60ae"/><stop offset=".18" stop-color="#3e5dab"/><stop offset=".2" stop-color="#3d5baa"/><stop offset=".22" stop-color="#3c58a9"/><stop offset=".24" stop-color="#3c56a8"/><stop offset=".26" stop-color="#3c53a6"/><stop offset=".28" stop-color="#3e50a4"/><stop offset=".3" stop-color="#434ca3"/><stop offset=".32" stop-color="#4a4aa2"/><stop offset=".34" stop-color="#5149a1"/><stop offset=".36" stop-color="#5849a1"/><stop offset=".38" stop-color="#6049a1"/><stop offset=".4" stop-color="#6749a0"/><stop offset=".42" stop-color="#6d499f"/><stop offset=".44" stop-color="#74499e"/><stop offset=".46" stop-color="#79489e"/><stop offset=".48" stop-color="#7e489d"/><stop offset=".5" stop-color="#83489d"/><stop offset=".52" stop-color="#87489c"/><stop offset=".54" stop-color="#8c489c"/><stop offset=".56" stop-color="#92489c"/><stop offset=".58" stop-color="#97499c"/><stop offset=".6" stop-color="#9c489c"/><stop offset=".62" stop-color="#a0489c"/><stop offset=".64" stop-color="#a4489c"/><stop offset=".66" stop-color="#a7479c"/><stop offset=".68" stop-color="#aa479c"/></linearGradient>
<linearGradient id="r112" gradientUnits="userSpaceOnUse" x1="120" x2="880"><stop offset=".16" stop-color="#3f60ad"/><stop offset=".18" stop-color="#3e5cab"/><stop offset=".2" stop-color="#3d5aa9"/><stop offset=".22" stop-color="#3c58a8"/><stop offset=".24" stop-color="#3c55a7"/><stop offset=".26" stop-color="#3d53a6"/><stop offset=".28" stop-color="#3e4fa4"/><stop offset=".3" stop-color="#434ca3"/><stop offset=".32" stop-color="#494aa2"/><stop offset=".34" stop-color="#5049a1"/><stop offset=".36" stop-color="#5849a1"/><stop offset=".38" stop-color="#5f49a1"/><stop offset=".4" stop-color="#6649a0"/><stop offset=".42" stop-color="#6d499f"/><stop offset=".44" stop-color="#73489e"/><stop offset=".46" stop-color="#79489d"/><stop offset=".48" stop-color="#7e489d"/><stop offset=".5" stop-color="#82489c"/><stop offset=".52" stop-color="#87489c"/><stop offset=".54" stop-color="#8c489c"/><stop offset=".56" stop-color="#91499c"/><stop offset=".58" stop-color="#96499c"/><stop offset=".6" stop-color="#9b499c"/><stop offset=".62" stop-color="#a0489c"/><stop offset=".64" stop-color="#a3489c"/><stop offset=".66" stop-color="#a6479c"/><stop offset=".68" stop-color="#a9479c"/></linearGradient>
<linearGradient id="r113" gradientUnits="userSpaceOnUse" x1="120" x2="880"><stop offset=".16" stop-color="#3f5fad"/><stop offset=".18" stop-color="#3e5caa"/><stop offset=".2" stop-color="#3d59a9"/><stop offset=".22" stop-color="#3d57a8"/><stop offset=".24" stop-color="#3c55a7"/><stop offset=".26" stop-color="#3d52a6"/><stop offset=".28" stop-color="#3e4fa4"/><stop offset=".3" stop-color="#424ca3"/><stop offset=".32" stop-color="#484aa2"/><stop offset=".34" stop-color="#4f49a2"/><stop offset=".36" stop-color="#5749a1"/><stop offset=".38" stop-color="#5e49a1"/><stop offset=".4" stop-color="#6549a0"/><stop offset=".42" stop-color="#6c499f"/><stop offset=".44" stop-color="#73489e"/><stop offset=".46" stop-color="#79489d"/><stop offset=".48" stop-color="#7d489d"/><stop offset=".5" stop-color="#82489c"/><stop offset=".52" stop-color="#87489c"/><stop offset=".54" stop-color="#8c489c"/><stop offset=".56" stop-color="#91499c"/><stop offset=".58" stop-color="#96499c"/><stop offset=".6" stop-color="#9b499c"/><stop offset=".62" stop-color="#a0489c"/><stop offset=".64" stop-color="#a3489c"/><stop offset=".66" stop-color="#a6479c"/></linearGradient>
<linearGradient id="r114" gradientUnits="userSpaceOnUse" x1="120" x2="880"><stop offset=".18" stop-color="#3e5baa"/><stop offset=".2" stop-color="#3d58a8"/><stop offset=".22" stop-color="#3d56a8"/><stop offset=".24" stop-color="#3c54a7"/><stop offset=".26" stop-color="#3c52a6"/><stop offset=".28" stop-color="#3e4fa4"/><stop offset=".3" stop-color="#424ca3"/><stop offset=".32" stop-color="#484aa2"/><stop offset=".34" stop-color="#4f49a2"/><stop offset=".36" stop-color="#5649a1"/><stop offset=".38" stop-color="#5d49a1"/><stop offset=".4" stop-color="#6549a0"/><stop offset=".42" stop-color="#6c499f"/><stop offset=".44" stop-color="#72489e"/><stop offset=".46" stop-color="#78489d"/><stop offset=".48" stop-color="#7d489c"/><stop offset=".5" stop-color="#81489c"/><stop offset=".52" stop-color="#86489c"/><stop offset=".54" stop-color="#8b489c"/><stop offset=".56" stop-color="#90499c"/><stop offset=".58" stop-color="#96499c"/><stop offset=".6" stop-color="#9b499c"/><stop offset=".62" stop-color="#a0489c"/><stop offset=".64" stop-color="#a3489c"/><stop offset=".66" stop-color="#a6479c"/></linearGradient>
<linearGradient id="r115" gradientUnits="userSpaceOnUse" x1="120" x2="880"><stop offset=".18" stop-color="#3d5aaa"/><stop offset=".2" stop-color="#3d57a8"/><stop offset=".22" stop-color="#3c55a7"/><stop offset=".24" stop-color="#3c54a7"/><stop offset=".26" stop-color="#3c51a6"/><stop offset=".28" stop-color="#3e4fa4"/><stop offset=".3" stop-color="#424ca3"/><stop offset=".32" stop-color="#474aa2"/><stop offset=".34" stop-color="#4e49a2"/><stop offset=".36" stop-color="#5549a1"/><stop offset=".38" stop-color="#5d49a1"/><stop offset=".4" stop-color="#6449a0"/><stop offset=".42" stop-color="#6b489f"/><stop offset=".44" stop-color="#72489d"/><stop offset=".46" stop-color="#78489d"/><stop offset=".48" stop-color="#7c489c"/><stop offset=".5" stop-color="#81489c"/><stop offset=".52" stop-color="#86489c"/><stop offset=".54" stop-color="#8b489c"/><stop offset=".56" stop-color="#90499c"/><stop offset=".58" stop-color="#95499c"/><stop offset=".6" stop-color="#9a499c"/><stop offset=".62" stop-color="#9f489c"/><stop offset=".64" stop-color="#a3489c"/><stop offset=".66" stop-color="#a6479c"/></linearGradient>
<linearGradient id="r116" gradientUnits="userSpaceOnUse" x1="120" x2="880"><stop offset=".18" stop-color="#3d59a9"/><stop offset=".2" stop-color="#3d57a8"/><stop offset=".22" stop-color="#3c55a7"/><stop offset=".24" stop-color="#3c53a6"/><stop offset=".26" stop-color="#3c51a6"/><stop offset=".28" stop-color="#3e4ea4"/><stop offset=".3" stop-color="#414ca3"/><stop offset=".32" stop-color="#474aa2"/><stop offset=".34" stop-color="#4e49a2"/><stop offset=".36" stop-color="#5549a1"/><stop offset=".38" stop-color="#5c49a1"/><stop offset=".4" stop-color="#63499f"/><stop offset=".42" stop-color="#6b489e"/><stop offset=".44" stop-color="#71489d"/><stop offset=".46" stop-color="#77489c"/><stop offset=".48" stop-color="#7c489c"/><stop offset=".5" stop-color="#80489c"/><stop offset=".52" stop-color="#85489c"/><stop offset=".54" stop-color="#8a489c"/><stop offset=".56" stop-color="#8f499c"/><stop offset=".58" stop-color="#95499c"/><stop offset=".6" stop-color="#9a499c"/><stop offset=".62" stop-color="#9f489c"/><stop offset=".64" stop-color="#a2489c"/><stop offset=".66" stop-color="#a5479c"/></linearGradient>
<linearGradient id="r117" gradientUnits="userSpaceOnUse" x1="120" x2="880"><stop offset=".18" stop-color="#3d58a9"/><stop offset=".2" stop-color="#3d56a7"/><stop offset=".22" stop-color="#3c54a6"/><stop offset=".24" stop-color="#3c52a6"/><stop offset=".26" stop-color="#3c50a5"/><stop offset=".28" stop-color="#3d4ea4"/><stop offset=".3" stop-color="#414ca3"/><stop offset=".32" stop-color="#464aa2"/><stop offset=".34" stop-color="#4d49a2"/><stop offset=".36" stop-color="#5449a1"/><stop offset=".38" stop-color="#5c49a0"/><stop offset=".4" stop-color="#63499f"/><stop offset=".42" stop-color="#6a489e"/><stop offset=".44" stop-color="#71489d"/><stop offset=".46" stop-color="#77489c"/><stop offset=".48" stop-color="#7b489c"/><stop offset=".5" stop-color="#80489c"/><stop offset=".52" stop-color="#85489c"/><stop offset=".54" stop-color="#8a489c"/><stop offset=".56" stop-color="#8f499c"/><stop offset=".58" stop-color="#94499c"/><stop offset=".6" stop-color="#9a499c"/><stop offset=".62" stop-color="#9e499c"/><stop offset=".64" stop-color="#a2489c"/><stop offset=".66" stop-color="#a5489c"/></linearGradient>
<linearGradient id="r118" gradientUnits="userSpaceOnUse" x1="120" x2="880"><stop offset=".18" stop-color="#3d58a8"/><stop offset=".2" stop-color="#3c55a7"/><stop offset=".22" stop-color="#3c53a6"/><stop offset=".24" stop-color="#3c52a6"/><stop offset=".26" stop-color="#3c50a5"/><stop offset=".28" stop-color="#3d4ea4"/><stop offset=".3" stop-color="#404ca3"/><stop offset=".32" stop-color="#464aa2"/><stop offset=".34" stop-color="#4d49a2"/><stop offset=".36" stop-color="#5449a1"/><stop offset=".38" stop-color="#5b49a0"/><stop offset=".4" stop-color="#62499f"/><stop offset=".42" stop-color="#69489e"/><stop offset=".44" stop-color="#70489d"/><stop offset=".46" stop-color="#76489c"/><stop offset=".48" stop-color="#7b489c"/><stop offset=".5" stop-color="#7f489c"/><stop offset=".52" stop-color="#84489c"/><stop offset=".54" stop-color="#89499c"/><stop offset=".56" stop-color="#8e499c"/><stop offset=".58" stop-color="#94499c"/><stop offset=".6" stop-color="#99499c"/><stop offset=".62" stop-color="#9e499c"/><stop offset=".64" stop-color="#a1489c"/></linearGradient>
<linearGradient id="r119" gradientUnits="userSpaceOnUse" x1="120" x2="880"><stop offset=".18" stop-color="#3c57a8"/><stop offset=".2" stop-color="#3c54a6"/><stop offset=".22" stop-color="#3c52a6"/><stop offset=".24" stop-color="#3c51a5"/><stop offset=".26" stop-color="#3c4fa5"/><stop offset=".28" stop-color="#3d4da4"/><stop offset=".3" stop-color="#404ca3"/><stop offset=".32" stop-color="#464aa2"/><stop offset=".34" stop-color="#4c49a1"/><stop offset=".36" stop-color="#5349a1"/><stop offset=".38" stop-color="#5b49a0"/><stop offset=".4" stop-color="#62499f"/><stop offset=".42" stop-color="#69489e"/><stop offset=".44" stop-color="#6f489d"/><stop offset=".46" stop-color="#75489c"/><stop offset=".48" stop-color="#7a489c"/><stop offset=".5" stop-color="#7f489c"/><stop offset=".52" stop-color="#84489c"/><stop offset=".54" stop-color="#89499c"/><stop offset=".56" stop-color="#8e499c"/><stop offset=".58" stop-color="#93499c"/><stop offset=".6" stop-color="#99499c"/><stop offset=".62" stop-color="#9d499c"/><stop offset=".64" stop-color="#a1489c"/></linearGradient>
<linearGradient id="r120" gradientUnits="userSpaceOnUse" x1="120" x2="880"><stop offset=".18" stop-color="#3c56a8"/><stop offset=".2" stop-color="#3c53a6"/><stop offset=".22" stop-color="#3c52a5"/><stop offset=".24" stop-color="#3b50a5"/><stop offset=".26" stop-color="#3b4fa5"/><stop offset=".28" stop-color="#3d4da4"/><stop offset=".3" stop-color="#404ba3"/><stop offset=".32" stop-color="#454aa2"/><stop offset=".34" stop-color="#4c49a1"/><stop offset=".36" stop-color="#5349a0"/><stop offset=".38" stop-color="#5a49a0"/><stop offset=".4" stop-color="#61499f"/><stop offset=".42" stop-color="#68489e"/><stop offset=".44" stop-color="#6f489d"/><stop offset=".46" stop-color="#75489c"/><stop offset=".48" stop-color="#7a489c"/><stop offset=".5" stop-color="#7e489c"/><stop offset=".52" stop-color="#83489c"/><stop offset=".54" stop-color="#88499c"/><stop offset=".56" stop-color="#8d499c"/><stop offset=".58" stop-color="#93499c"/><stop offset=".6" stop-color="#98499c"/><stop offset=".62" stop-color="#9d499c"/><stop offset=".64" stop-color="#a0489c"/></linearGradient>
<linearGradient id="r121" gradientUnits="userSpaceOnUse" x1="120" x2="880"><stop offset=".18" stop-color="#3c55a7"/><stop offset=".2" stop-color="#3c53a6"/><stop offset=".22" stop-color="#3b51a5"/><stop offset=".24" stop-color="#3b50a5"/><stop offset=".26" stop-color="#3b4ea4"/><stop offset=".28" stop-color="#3c4da4"/><stop offset=".3" stop-color="#404ba3"/><stop offset=".32" stop-color="#454aa2"/><stop offset=".34" stop-color="#4b49a1"/><stop offset=".36" stop-color="#5249a0"/><stop offset=".38" stop-color="#5a499f"/><stop offset=".4" stop-color="#61499e"/><stop offset=".42" stop-color="#68489d"/><stop offset=".44" stop-color="#6e489d"/><stop offset=".46" stop-color="#74489c"/><stop offset=".48" stop-color="#79489c"/><stop offset=".5" stop-color="#7e489c"/><stop offset=".52" stop-color="#83499c"/><stop offset=".54" stop-color="#87499c"/><stop offset=".56" stop-color="#8d499c"/><stop offset=".58" stop-color="#92499c"/><stop offset=".6" stop-color="#97499c"/><stop offset=".62" stop-color="#9c499c"/><stop offset=".64" stop-color="#a0489d"/></linearGradient>
<linearGradient id="r122" gradientUnits="userSpaceOnUse" x1="120" x2="880"><stop offset=".2" stop-color="#3b52a6"/><stop offset=".22" stop-color="#3b51a5"/><stop offset=".24" stop-color="#3b4fa4"/><stop offset=".26" stop-color="#3b4ea4"/><stop offset=".28" stop-color="#3c4ca4"/><stop offset=".3" stop-color="#3f4ba3"/><stop offset=".32" stop-color="#454aa2"/><stop offset=".34" stop-color="#4b49a1"/><stop offset=".36" stop-color="#5249a0"/><stop offset=".38" stop-color="#59499f"/><stop offset=".4" stop-color="#61499e"/><stop offset=".42" stop-color="#67489d"/><stop offset=".44" stop-color="#6e489d"/><stop offset=".46" stop-color="#73489c"/><stop offset=".48" stop-color="#79489c"/><stop offset=".5" stop-color="#7d499c"/><stop offset=".52" stop-color="#82499c"/><stop offset=".54" stop-color="#87499c"/><stop offset=".56" stop-color="#8c499c"/><stop offset=".58" stop-color="#92499c"/><stop offset=".6" stop-color="#97499c"/><stop offset=".62" stop-color="#9c499c"/><stop offset=".64" stop-color="#9f489d"/></linearGradient>
<linearGradient id="r123" gradientUnits="userSpaceOnUse" x1="120" x2="880"><stop offset=".2" stop-color="#3b52a5"/><stop offset=".22" stop-color="#3b50a4"/><stop offset=".24" stop-color="#3b4fa4"/><stop offset=".26" stop-color="#3b4ea4"/><stop offset=".28" stop-color="#3c4ca3"/><stop offset=".3" stop-color="#3f4ba3"/><stop offset=".32" stop-color="#444aa1"/><stop offset=".34" stop-color="#4b49a0"/><stop offset=".36" stop-color="#5249a0"/><stop offset=".38" stop-color="#59499f"/><stop offset=".4" stop-color="#60499e"/><stop offset=".42" stop-color="#67489d"/><stop offset=".44" stop-color="#6d489c"/><stop offset=".46" stop-color="#73489c"/><stop offset=".48" stop-color="#78499c"/><stop offset=".5" stop-color="#7d499c"/><stop offset=".52" stop-color="#81499c"/><stop offset=".54" stop-color="#86499c"/><stop offset=".56" stop-color="#8c499c"/><stop offset=".58" stop-color="#91499c"/><stop offset=".6" stop-color="#96499c"/><stop offset=".62" stop-color="#9b499c"/></linearGradient>
<linearGradient id="r124" gradientUnits="userSpaceOnUse" x1="120" x2="880"><stop offset=".2" stop-color="#3a51a5"/><stop offset=".22" stop-color="#3a50a4"/><stop offset=".24" stop-color="#3a4ea4"/><stop offset=".26" stop-color="#3a4da4"/><stop offset=".28" stop-color="#3c4ca3"/><stop offset=".3" stop-color="#3f4ba2"/><stop offset=".32" stop-color="#444aa1"/><stop offset=".34" stop-color="#4b49a0"/><stop offset=".36" stop-color="#52499f"/><stop offset=".38" stop-color="#59499e"/><stop offset=".4" stop-color="#60499e"/><stop offset=".42" stop-color="#67489d"/><stop offset=".44" stop-color="#6d489c"/><stop offset=".46" stop-color="#72489c"/><stop offset=".48" stop-color="#77499c"/><stop offset=".5" stop-color="#7c499c"/><stop offset=".52" stop-color="#81499c"/><stop offset=".54" stop-color="#86499c"/><stop offset=".56" stop-color="#8b499c"/><stop offset=".58" stop-color="#91499c"/><stop offset=".6" stop-color="#96499c"/><stop offset=".62" stop-color="#9a499c"/></linearGradient>
<linearGradient id="r125" gradientUnits="userSpaceOnUse" x1="120" x2="880"><stop offset=".2" stop-color="#3a51a5"/><stop offset=".22" stop-color="#3a4fa4"/><stop offset=".24" stop-color="#3a4ea4"/><stop offset=".26" stop-color="#3a4da3"/><stop offset=".28" stop-color="#3b4ca3"/><stop offset=".3" stop-color="#3f4aa2"/><stop offset=".32" stop-color="#444aa1"/><stop offset=".34" stop-color="#4b49a0"/><stop offset=".36" stop-color="#52499f"/><stop offset=".38" stop-color="#59499e"/><stop offset=".4" stop-color="#60499d"/><stop offset=".42" stop-color="#66489d"/><stop offset=".44" stop-color="#6c489c"/><stop offset=".46" stop-color="#72489c"/><stop offset=".48" stop-color="#77499c"/><stop offset=".5" stop-color="#7c499c"/><stop offset=".52" stop-color="#81499c"/><stop offset=".54" stop-color="#85499c"/><stop offset=".56" stop-color="#8b499c"/><stop offset=".58" stop-color="#90499c"/><stop offset=".6" stop-color="#95499c"/><stop offset=".62" stop-color="#9a499d"/></linearGradient>
<linearGradient id="r126" gradientUnits="userSpaceOnUse" x1="120" x2="880"><stop offset=".2" stop-color="#3950a5"/><stop offset=".22" stop-color="#394fa4"/><stop offset=".24" stop-color="#394ea3"/><stop offset=".26" stop-color="#3a4ca3"/><stop offset=".28" stop-color="#3b4ba3"/><stop offset=".3" stop-color="#3f4aa2"/><stop offset=".32" stop-color="#4449a1"/><stop offset=".34" stop-color="#4a499f"/><stop offset=".36" stop-color="#52499e"/><stop offset=".38" stop-color="#59499e"/><stop offset=".4" stop-color="#5f499d"/><stop offset=".42" stop-color="#66499d"/><stop offset=".44" stop-color="#6c499c"/><stop offset=".46" stop-color="#71499c"/><stop offset=".48" stop-color="#77499c"/><stop offset=".5" stop-color="#7b499c"/><stop offset=".52" stop-color="#80499c"/><stop offset=".54" stop-color="#85499c"/><stop offset=".56" stop-color="#8a499c"/><stop offset=".58" stop-color="#904a9c"/><stop offset=".6" stop-color="#95499c"/><stop offset=".62" stop-color="#99499d"/></linearGradient>
<linearGradient id="r127" gradientUnits="userSpaceOnUse" x1="120" x2="880"><stop offset=".2" stop-color="#3950a5"/><stop offset=".22" stop-color="#394ea4"/><stop offset=".24" stop-color="#394da3"/><stop offset=".26" stop-color="#394ca3"/><stop offset=".28" stop-color="#3b4ba2"/><stop offset=".3" stop-color="#3e4aa2"/><stop offset=".32" stop-color="#4449a0"/><stop offset=".34" stop-color="#4a499f"/><stop offset=".36" stop-color="#51489e"/><stop offset=".38" stop-color="#59499d"/><stop offset=".4" stop-color="#5f499d"/><stop offset=".42" stop-color="#66499d"/><stop offset=".44" stop-color="#6b499c"/><stop offset=".46" stop-color="#71499c"/><stop offset=".48" stop-color="#76499c"/><stop offset=".5" stop-color="#7b499c"/><stop offset=".52" stop-color="#80499c"/><stop offset=".54" stop-color="#84499c"/><stop offset=".56" stop-color="#8a499c"/><stop offset=".58" stop-color="#8f4a9c"/><stop offset=".6" stop-color="#94499c"/><stop offset=".62" stop-color="#99499d"/></linearGradient>
<linearGradient id="r128" gradientUnits="userSpaceOnUse" x1="120" x2="880"><stop offset=".2" stop-color="#3850a5"/><stop offset=".22" stop-color="#384ea4"/><stop offset=".24" stop-color="#384da3"/><stop offset=".26" stop-color="#394ca2"/><stop offset=".28" stop-color="#3a4ba2"/><stop offset=".3" stop-color="#3e4aa1"/><stop offset=".32" stop-color="#4449a0"/><stop offset=".34" stop-color="#4a499f"/><stop offset=".36" stop-color="#51489e"/><stop offset=".38" stop-color="#58499d"/><stop offset=".4" stop-color="#5f499d"/><stop offset=".42" stop-color="#65499c"/><stop offset=".44" stop-color="#6b499c"/><stop offset=".46" stop-color="#70499c"/><stop offset=".48" stop-color="#76499c"/><stop offset=".5" stop-color="#7b4a9c"/><stop offset=".52" stop-color="#7f4a9c"/><stop offset=".54" stop-color="#84499c"/><stop offset=".56" stop-color="#89499c"/><stop offset=".58" stop-color="#8f4a9c"/><stop offset=".6" stop-color="#94499c"/></linearGradient>
<linearGradient id="r129" gradientUnits="userSpaceOnUse" x1="120" x2="880"><stop offset=".22" stop-color="#384ea3"/><stop offset=".24" stop-color="#384da3"/><stop offset=".26" stop-color="#384ca2"/><stop offset=".28" stop-color="#3a4ba2"/><stop offset=".3" stop-color="#3e4aa1"/><stop offset=".32" stop-color="#4349a0"/><stop offset=".34" stop-color="#4a499e"/><stop offset=".36" stop-color="#51489d"/><stop offset=".38" stop-color="#58499d"/><stop offset=".4" stop-color="#5f499d"/><stop offset=".42" stop-color="#65499c"/><stop offset=".44" stop-color="#6b499c"/><stop offset=".46" stop-color="#70499c"/><stop offset=".48" stop-color="#76499c"/><stop offset=".5" stop-color="#7b4a9c"/><stop offset=".52" stop-color="#7f4a9c"/><stop offset=".54" stop-color="#83499c"/><stop offset=".56" stop-color="#894a9c"/><stop offset=".58" stop-color="#8e4a9c"/><stop offset=".6" stop-color="#934a9c"/></linearGradient>
<linearGradient id="r130" gradientUnits="userSpaceOnUse" x1="120" x2="880"><stop offset=".22" stop-color="#374ea3"/><stop offset=".24" stop-color="#374ca2"/><stop offset=".26" stop-color="#384ba2"/><stop offset=".28" stop-color="#3a4ba1"/><stop offset=".3" stop-color="#3d4aa0"/><stop offset=".32" stop-color="#43499f"/><stop offset=".34" stop-color="#4a499e"/><stop offset=".36" stop-color="#51489d"/><stop offset=".38" stop-color="#58499d"/><stop offset=".4" stop-color="#5f499c"/><stop offset=".42" stop-color="#65499c"/><stop offset=".44" stop-color="#6b499c"/><stop offset=".46" stop-color="#70499c"/><stop offset=".48" stop-color="#754a9c"/><stop offset=".5" stop-color="#7a4a9c"/><stop offset=".52" stop-color="#7f4a9c"/><stop offset=".54" stop-color="#834a9c"/><stop offset=".56" stop-color="#884a9c"/><stop offset=".58" stop-color="#8e4a9c"/><stop offset=".6" stop-color="#934a9c"/></linearGradient>
<linearGradient id="r131" gradientUnits="userSpaceOnUse" x1="120" x2="880"><stop offset=".22" stop-color="#364da3"/><stop offset=".24" stop-color="#364ca2"/><stop offset=".26" stop-color="#374ba2"/><stop offset=".28" stop-color="#394aa1"/><stop offset=".3" stop-color="#3d4aa0"/><stop offset=".32" stop-color="#43499f"/><stop offset=".34" stop-color="#4a499e"/><stop offset=".36" stop-color="#51499d"/><stop offset=".38" stop-color="#58499d"/><stop offset=".4" stop-color="#5f499c"/><stop offset=".42" stop-color="#65499c"/><stop offset=".44" stop-color="#6b499c"/><stop offset=".46" stop-color="#70499c"/><stop offset=".48" stop-color="#754a9c"/><stop offset=".5" stop-color="#7a4a9c"/><stop offset=".52" stop-color="#7f4a9c"/><stop offset=".54" stop-color="#834a9c"/><stop offset=".56" stop-color="#884a9c"/><stop offset=".58" stop-color="#8d4a9c"/><stop offset=".6" stop-color="#924a9d"/></linearGradient>
<linearGradient id="r132" gradientUnits="userSpaceOnUse" x1="120" x2="880"><stop offset=".22" stop-color="#364da3"/><stop offset=".24" stop-color="#364ca2"/><stop offset=".26" stop-color="#364ba1"/><stop offset=".28" stop-color="#394aa1"/><stop offset=".3" stop-color="#3d4aa0"/><stop offset=".32" stop-color="#43499e"/><stop offset=".34" stop-color="#4a499d"/><stop offset=".36" stop-color="#51499d"/><stop offset=".38" stop-color="#58499d"/><stop offset=".4" stop-color="#5f499c"/><stop offset=".42" stop-color="#654a9c"/><stop offset=".44" stop-color="#6b4a9c"/><stop offset=".46" stop-color="#704a9c"/><stop offset=".48" stop-color="#754a9c"/><stop offset=".5" stop-color="#7a4a9c"/><stop offset=".52" stop-color="#7e4a9c"/><stop offset=".54" stop-color="#834a9c"/><stop offset=".56" stop-color="#884a9c"/><stop offset=".58" stop-color="#8d4a9c"/><stop offset=".6" stop-color="#924a9d"/></linearGradient>
<linearGradient id="r133" gradientUnits="userSpaceOnUse" x1="120" x2="880"><stop offset=".22" stop-color="#354da3"/><stop offset=".24" stop-color="#354ca2"/><stop offset=".26" stop-color="#364ba1"/><stop offset=".28" stop-color="#384aa0"/><stop offset=".3" stop-color="#3d4a9f"/><stop offset=".32" stop-color="#43499e"/><stop offset=".34" stop-color="#4a499d"/><stop offset=".36" stop-color="#51499d"/><stop offset=".38" stop-color="#58499c"/><stop offset=".4" stop-color="#5f4a9c"/><stop offset=".42" stop-color="#654a9c"/><stop offset=".44" stop-color="#6b4a9c"/><stop offset=".46" stop-color="#704a9c"/><stop offset=".48" stop-color="#754a9c"/><stop offset=".5" stop-color="#7a4b9c"/><stop offset=".52" stop-color="#7e4b9c"/><stop offset=".54" stop-color="#834a9c"/><stop offset=".56" stop-color="#874a9c"/><stop offset=".58" stop-color="#8c4a9c"/></linearGradient>
<linearGradient id="r134" gradientUnits="userSpaceOnUse" x1="120" x2="880"><stop offset=".22" stop-color="#344da3"/><stop offset=".24" stop-color="#354ca2"/><stop offset=".26" stop-color="#354ba1"/><stop offset=".28" stop-color="#384aa0"/><stop offset=".3" stop-color="#3c4a9f"/><stop offset=".32" stop-color="#43499e"/><stop offset=".34" stop-color="#4a499d"/><stop offset=".36" stop-color="#51499d"/><stop offset=".38" stop-color="#59499d"/><stop offset=".4" stop-color="#5f4a9c"/><stop offset=".42" stop-color="#654a9c"/><stop offset=".44" stop-color="#6b4a9c"/><stop offset=".46" stop-color="#704a9c"/><stop offset=".48" stop-color="#754b9c"/><stop offset=".5" stop-color="#7a4b9c"/><stop offset=".52" stop-color="#7e4b9c"/><stop offset=".54" stop-color="#824a9c"/><stop offset=".56" stop-color="#874a9c"/><stop offset=".58" stop-color="#8c4a9c"/></linearGradient>
<linearGradient id="r135" gradientUnits="userSpaceOnUse" x1="120" x2="880"><stop offset=".22" stop-color="#344da3"/><stop offset=".24" stop-color="#344ca2"/><stop offset=".26" stop-color="#354ba1"/><stop offset=".28" stop-color="#374aa0"/><stop offset=".3" stop-color="#3c4a9f"/><stop offset=".32" stop-color="#43499e"/><stop offset=".34" stop-color="#4a499d"/><stop offset=".36" stop-color="#52499d"/><stop offset=".38" stop-color="#594a9d"/><stop offset=".4" stop-color="#5f4a9c"/><stop offset=".42" stop-color="#654a9c"/><stop offset=".44" stop-color="#6b4b9c"/><stop offset=".46" stop-color="#704b9c"/><stop offset=".48" stop-color="#754b9c"/><stop offset=".5" stop-color="#7a4b9c"/><stop offset=".52" stop-color="#7e4b9c"/><stop offset=".54" stop-color="#824a9c"/><stop offset=".56" stop-color="#874a9c"/><stop offset=".58" stop-color="#8c4a9c"/></linearGradient>
<linearGradient id="r136" gradientUnits="userSpaceOnUse" x1="120" x2="880"><stop offset=".24" stop-color="#334ca2"/><stop offset=".26" stop-color="#344ba1"/><stop offset=".28" stop-color="#374aa0"/><stop offset=".3" stop-color="#3c4a9f"/><stop offset=".32" stop-color="#43499e"/><stop offset=".34" stop-color="#4a499d"/><stop offset=".36" stop-color="#52499d"/><stop offset=".38" stop-color="#594a9d"/><stop offset=".4" stop-color="#5f4a9d"/><stop offset=".42" stop-color="#654b9c"/><stop offset=".44" stop-color="#6b4b9c"/><stop offset=".46" stop-color="#714b9c"/><stop offset=".48" stop-color="#764b9c"/><stop offset=".5" stop-color="#7a4b9c"/><stop offset=".52" stop-color="#7e4b9c"/><stop offset=".54" stop-color="#824b9c"/><stop offset=".56" stop-color="#874a9c"/><stop offset=".58" stop-color="#8b4a9c"/></linearGradient>
<linearGradient id="r137" gradientUnits="userSpaceOnUse" x1="120" x2="880"><stop offset=".24" stop-color="#334ca2"/><stop offset=".26" stop-color="#344ba1"/><stop offset=".28" stop-color="#364aa0"/><stop offset=".3" stop-color="#3b4a9f"/><stop offset=".32" stop-color="#424a9e"/><stop offset=".34" stop-color="#4a4a9d"/><stop offset=".36" stop-color="#524a9d"/><stop offset=".38" stop-color="#594a9d"/><stop offset=".4" stop-color="#5f4a9d"/><stop offset=".42" stop-color="#664b9c"/><stop offset=".44" stop-color="#6b4b9c"/><stop offset=".46" stop-color="#714b9c"/><stop offset=".48" stop-color="#764b9c"/><stop offset=".5" stop-color="#7a4b9c"/><stop offset=".52" stop-color="#7e4b9c"/><stop offset=".54" stop-color="#824b9c"/><stop offset=".56" stop-color="#874a9c"/><stop offset=".58" stop-color="#8b4a9d"/></linearGradient>
<linearGradient id="r138" gradientUnits="userSpaceOnUse" x1="120" x2="880"><stop offset=".24" stop-color="#334ca2"/><stop offset=".26" stop-color="#334ba1"/><stop offset=".28" stop-color="#364ba0"/><stop offset=".3" stop-color="#3b4a9f"/><stop offset=".32" stop-color="#424a9e"/><stop offset=".34" stop-color="#4a4a9e"/><stop offset=".36" stop-color="#524a9d"/><stop offset=".38" stop-color="#594a9d"/><stop offset=".4" stop-color="#5f4b9d"/><stop offset=".42" stop-color="#664b9d"/><stop offset=".44" stop-color="#6c4b9c"/><stop offset=".46" stop-color="#714b9c"/><stop offset=".48" stop-color="#764b9c"/><stop offset=".5" stop-color="#7a4b9c"/><stop offset=".52" stop-color="#7e4b9c"/><stop offset=".54" stop-color="#824b9c"/><stop offset=".56" stop-color="#864a9c"/></linearGradient>
<linearGradient id="r139" gradientUnits="userSpaceOnUse" x1="120" x2="880"><stop offset=".24" stop-color="#324ca2"/><stop offset=".26" stop-color="#334ba1"/><stop offset=".28" stop-color="#364ba0"/><stop offset=".3" stop-color="#3b4a9f"/><stop offset=".32" stop-color="#424a9e"/><stop offset=".34" stop-color="#4a4a9e"/><stop offset=".36" stop-color="#524a9e"/><stop offset=".38" stop-color="#594a9d"/><stop offset=".4" stop-color="#604b9d"/><stop offset=".42" stop-color="#664b9d"/><stop offset=".44" stop-color="#6c4c9c"/><stop offset=".46" stop-color="#714c9c"/><stop offset=".48" stop-color="#764c9c"/><stop offset=".5" stop-color="#7a4b9c"/><stop offset=".52" stop-color="#7e4b9c"/><stop offset=".54" stop-color="#824b9c"/><stop offset=".56" stop-color="#864b9c"/></linearGradient>
<linearGradient id="r140" gradientUnits="userSpaceOnUse" x1="120" x2="880"><stop offset=".24" stop-color="#324ca2"/><stop offset=".26" stop-color="#334ba1"/><stop offset=".28" stop-color="#364ba0"/><stop offset=".3" stop-color="#3b4a9f"/><stop offset=".32" stop-color="#434a9f"/><stop offset=".34" stop-color="#4b4a9e"/><stop offset=".36" stop-color="#524a9e"/><stop offset=".38" stop-color="#594b9d"/><stop offset=".4" stop-color="#604b9d"/><stop offset=".42" stop-color="#664b9d"/><stop offset=".44" stop-color="#6c4c9c"/><stop offset=".46" stop-color="#714c9c"/><stop offset=".48" stop-color="#764c9c"/><stop offset=".5" stop-color="#7a4c9c"/><stop offset=".52" stop-color="#7e4b9c"/><stop offset=".54" stop-color="#824b9c"/><stop offset=".56" stop-color="#864b9c"/></linearGradient>
<linearGradient id="r141" gradientUnits="userSpaceOnUse" x1="120" x2="880"><stop offset=".26" stop-color="#334ba1"/><stop offset=".28" stop-color="#364ba0"/><stop offset=".3" stop-color="#3b4b9f"/><stop offset=".32" stop-color="#434a9f"/><stop offset=".34" stop-color="#4b4b9e"/><stop offset=".36" stop-color="#524b9e"/><stop offset=".38" stop-color="#594b9e"/><stop offset=".4" stop-color="#604b9d"/><stop offset=".42" stop-color="#664c9d"/><stop offset=".44" stop-color="#6c4c9d"/><stop offset=".46" stop-color="#714c9c"/><stop offset=".48" stop-color="#764c9c"/><stop offset=".5" stop-color="#7a4c9c"/><stop offset=".52" stop-color="#7e4b9c"/><stop offset=".54" stop-color="#824b9c"/><stop offset=".56" stop-color="#864b9c"/></linearGradient>
<linearGradient id="r142" gradientUnits="userSpaceOnUse" x1="120" x2="880"><stop offset=".26" stop-color="#334ba1"/><stop offset=".28" stop-color="#364ba0"/><stop offset=".3" stop-color="#3b4b9f"/><stop offset=".32" stop-color="#434b9f"/><stop offset=".34" stop-color="#4b4b9f"/><stop offset=".36" stop-color="#524b9e"/><stop offset=".38" stop-color="#594b9e"/><stop offset=".4" stop-color="#604b9e"/><stop offset=".42" stop-color="#664c9d"/><stop offset=".44" stop-color="#6c4c9d"/><stop offset=".46" stop-color="#714c9c"/><stop offset=".48" stop-color="#764c9c"/><stop offset=".5" stop-color="#7a4c9c"/><stop offset=".52" stop-color="#7e4c9c"/><stop offset=".54" stop-color="#824b9c"/><stop offset=".56" stop-color="#864b9c"/></linearGradient>
<linearGradient id="r143" gradientUnits="userSpaceOnUse" x1="120" x2="880"><stop offset=".26" stop-color="#334ba1"/><stop offset=".28" stop-color="#364ba0"/><stop offset=".3" stop-color="#3c4ba0"/><stop offset=".32" stop-color="#434b9f"/><stop offset=".34" stop-color="#4b4b9f"/><stop offset=".36" stop-color="#524b9f"/><stop offset=".38" stop-color="#594b9e"/><stop offset=".4" stop-color="#604c9e"/><stop offset=".42" stop-color="#664c9d"/><stop offset=".44" stop-color="#6c4c9d"/><stop offset=".46" stop-color="#714c9c"/><stop offset=".48" stop-color="#764c9c"/><stop offset=".5" stop-color="#7a4c9c"/><stop offset=".52" stop-color="#7e4c9c"/><stop offset=".54" stop-color="#814b9c"/></linearGradient>
<linearGradient id="r144" gradientUnits="userSpaceOnUse" x1="120" x2="880"><stop offset=".26" stop-color="#334ba1"/><stop offset=".28" stop-color="#374ba0"/><stop offset=".3" stop-color="#3c4ba0"/><stop offset=".32" stop-color="#434b9f"/><stop offset=".34" stop-color="#4b4b9f"/><stop offset=".36" stop-color="#524b9f"/><stop offset=".38" stop-color="#594b9e"/><stop offset=".4" stop-color="#604c9e"/><stop offset=".42" stop-color="#664c9e"/><stop offset=".44" stop-color="#6c4c9d"/><stop offset=".46" stop-color="#714c9c"/><stop offset=".48" stop-color="#764c9c"/><stop offset=".5" stop-color="#7a4c9c"/><stop offset=".52" stop-color="#7d4c9c"/><stop offset=".54" stop-color="#814b9c"/></linearGradient>
<linearGradient id="r145" gradientUnits="userSpaceOnUse" x1="120" x2="880"><stop offset=".26" stop-color="#334ba1"/><stop offset=".28" stop-color="#374ba0"/><stop offset=".3" stop-color="#3c4ba0"/><stop offset=".32" stop-color="#434ba0"/><stop offset=".34" stop-color="#4b4b9f"/><stop offset=".36" stop-color="#534b9f"/><stop offset=".38" stop-color="#594c9f"/><stop offset=".4" stop-color="#604c9e"/><stop offset=".42" stop-color="#664c9e"/><stop offset=".44" stop-color="#6c4c9d"/><stop offset=".46" stop-color="#714c9d"/><stop offset=".48" stop-color="#764c9c"/><stop offset=".5" stop-color="#7a4c9c"/><stop offset=".52" stop-color="#7d4c9c"/><stop offset=".54" stop-color="#814b9c"/></linearGradient>
<linearGradient id="r146" gradientUnits="userSpaceOnUse" x1="120" x2="880"><stop offset=".28" stop-color="#374ba1"/><stop offset=".3" stop-color="#3d4ba0"/><stop offset=".32" stop-color="#444ba0"/><stop offset=".34" stop-color="#4b4b9f"/><stop offset=".36" stop-color="#534c9f"/><stop offset=".38" stop-color="#594c9f"/><stop offset=".4" stop-color="#604c9e"/><stop offset=".42" stop-color="#664c9e"/><stop offset=".44" stop-color="#6b4c9d"/><stop offset=".46" stop-color="#714c9d"/><stop offset=".48" stop-color="#754c9c"/><stop offset=".5" stop-color="#794c9c"/><stop offset=".52" stop-color="#7d4c9c"/><stop offset=".54" stop-color="#814b9c"/></linearGradient>
<linearGradient id="r147" gradientUnits="userSpaceOnUse" x1="120" x2="880"><stop offset=".28" stop-color="#384ba1"/><stop offset=".3" stop-color="#3d4ba0"/><stop offset=".32" stop-color="#444ba0"/><stop offset=".34" stop-color="#4b4ba0"/><stop offset=".36" stop-color="#534c9f"/><stop offset=".38" stop-color="#594c9f"/><stop offset=".4" stop-color="#604c9f"/><stop offset=".42" stop-color="#664c9e"/><stop offset=".44" stop-color="#6b4c9d"/><stop offset=".46" stop-color="#704c9d"/><stop offset=".48" stop-color="#754c9c"/><stop offset=".5" stop-color="#794c9c"/><stop offset=".52" stop-color="#7d4c9c"/><stop offset=".54" stop-color="#814b9c"/></linearGradient>
<linearGradient id="r148" gradientUnits="userSpaceOnUse" x1="120" x2="880"><stop offset=".28" stop-color="#384ba1"/><stop offset=".3" stop-color="#3d4ba0"/><stop offset=".32" stop-color="#444ba0"/><stop offset=".34" stop-color="#4b4ca0"/><stop offset=".36" stop-color="#534c9f"/><stop offset=".38" stop-color="#594c9f"/><stop offset=".4" stop-color="#604c9f"/><stop offset=".42" stop-color="#664c9e"/><stop offset=".44" stop-color="#6b4c9d"/><stop offset=".46" stop-color="#704c9d"/><stop offset=".48" stop-color="#754c9c"/><stop offset=".5" stop-color="#794c9c"/><stop offset=".52" stop-color="#7c4c9c"/></linearGradient>
<linearGradient id="r149" gradientUnits="userSpaceOnUse" x1="120" x2="880"><stop offset=".28" stop-color="#384ba1"/><stop offset=".3" stop-color="#3e4ba0"/><stop offset=".32" stop-color="#444ba0"/><stop offset=".34" stop-color="#4b4ca0"/><stop offset=".36" stop-color="#524ca0"/><stop offset=".38" stop-color="#594c9f"/><stop offset=".4" stop-color="#604c9f"/><stop offset=".42" stop-color="#654c9e"/><stop offset=".44" stop-color="#6b4c9e"/><stop offset=".46" stop-color="#704c9d"/><stop offset=".48" stop-color="#744c9c"/><stop offset=".5" stop-color="#784c9c"/><stop offset=".52" stop-color="#7c4c9c"/></linearGradient>
<linearGradient id="r150" gradientUnits="userSpaceOnUse" x1="120" x2="880"><stop offset=".28" stop-color="#394ba1"/><stop offset=".3" stop-color="#3e4ba1"/><stop offset=".32" stop-color="#454ba0"/><stop offset=".34" stop-color="#4c4ca0"/><stop offset=".36" stop-color="#524ca0"/><stop offset=".38" stop-color="#594c9f"/><stop offset=".4" stop-color="#5f4c9f"/><stop offset=".42" stop-color="#654c9e"/><stop offset=".44" stop-color="#6b4c9e"/><stop offset=".46" stop-color="#6f4c9d"/><stop offset=".48" stop-color="#744c9d"/><stop offset=".5" stop-color="#784c9c"/><stop offset=".52" stop-color="#7c4c9c"/></linearGradient>
<linearGradient id="r151" gradientUnits="userSpaceOnUse" x1="120" x2="880"><stop offset=".3" stop-color="#3e4ba1"/><stop offset=".32" stop-color="#454ba0"/><stop offset=".34" stop-color="#4c4ca0"/><stop offset=".36" stop-color="#524ca0"/><stop offset=".38" stop-color="#594c9f"/><stop offset=".4" stop-color="#5f4c9f"/><stop offset=".42" stop-color="#654c9f"/><stop offset=".44" stop-color="#6a4c9e"/><stop offset=".46" stop-color="#6f4c9d"/><stop offset=".48" stop-color="#744c9d"/><stop offset=".5" stop-color="#784c9c"/><stop offset=".52" stop-color="#7c4c9d"/></linearGradient>
<linearGradient id="r152" gradientUnits="userSpaceOnUse" x1="120" x2="880"><stop offset=".3" stop-color="#3f4ba1"/><stop offset=".32" stop-color="#454ba0"/><stop offset=".34" stop-color="#4c4ca0"/><stop offset=".36" stop-color="#524ca0"/><stop offset=".38" stop-color="#594ca0"/><stop offset=".4" stop-color="#5f4c9f"/><stop offset=".42" stop-color="#654c9f"/><stop offset=".44" stop-color="#6a4c9e"/><stop offset=".46" stop-color="#6f4c9d"/><stop offset=".48" stop-color="#734c9d"/><stop offset=".5" stop-color="#774c9d"/><stop offset=".52" stop-color="#7b4c9d"/></linearGradient>
<linearGradient id="r153" gradientUnits="userSpaceOnUse" x1="120" x2="880"><stop offset=".3" stop-color="#3f4ba1"/><stop offset=".32" stop-color="#454ca0"/><stop offset=".34" stop-color="#4c4ca0"/><stop offset=".36" stop-color="#524ca0"/><stop offset=".38" stop-color="#594ca0"/><stop offset=".4" stop-color="#5f4c9f"/><stop offset=".42" stop-color="#644c9f"/><stop offset=".44" stop-color="#694c9e"/><stop offset=".46" stop-color="#6e4c9d"/><stop offset=".48" stop-color="#734c9d"/><stop offset=".5" stop-color="#774c9d"/></linearGradient>
<linearGradient id="r154" gradientUnits="userSpaceOnUse" x1="120" x2="880"><stop offset=".3" stop-color="#3f4ba1"/><stop offset=".32" stop-color="#454ca1"/><stop offset=".34" stop-color="#4c4ca0"/><stop offset=".36" stop-color="#524ca0"/><stop offset=".38" stop-color="#584ca0"/><stop offset=".4" stop-color="#5e4c9f"/><stop offset=".42" stop-color="#644c9f"/><stop offset=".44" stop-color="#694c9e"/><stop offset=".46" stop-color="#6e4c9d"/><stop offset=".48" stop-color="#724c9d"/><stop offset=".5" stop-color="#774c9d"/></linearGradient>
<linearGradient id="r155" gradientUnits="userSpaceOnUse" x1="120" x2="880"><stop offset=".3" stop-color="#404ba1"/><stop offset=".32" stop-color="#464ca1"/><stop offset=".34" stop-color="#4c4ca0"/><stop offset=".36" stop-color="#524ca0"/><stop offset=".38" stop-color="#584ca0"/><stop offset=".4" stop-color="#5e4c9f"/><stop offset=".42" stop-color="#644c9f"/><stop offset=".44" stop-color="#694c9e"/><stop offset=".46" stop-color="#6e4c9d"/><stop offset=".48" stop-color="#724c9d"/><stop offset=".5" stop-color="#764c9d"/></linearGradient>
<linearGradient id="r156" gradientUnits="userSpaceOnUse" x1="120" x2="880"><stop offset=".32" stop-color="#464ca1"/><stop offset=".34" stop-color="#4c4ca0"/><stop offset=".36" stop-color="#524ca0"/><stop offset=".38" stop-color="#584ca0"/><stop offset=".4" stop-color="#5e4c9f"/><stop offset=".42" stop-color="#634c9f"/><stop offset=".44" stop-color="#684c9e"/><stop offset=".46" stop-color="#6d4c9e"/><stop offset=".48" stop-color="#724c9d"/><stop offset=".5" stop-color="#764c9d"/></linearGradient>
<linearGradient id="r157" gradientUnits="userSpaceOnUse" x1="120" x2="880"><stop offset=".32" stop-color="#464ca1"/><stop offset=".34" stop-color="#4c4ca0"/><stop offset=".36" stop-color="#514ca0"/><stop offset=".38" stop-color="#574ca0"/><stop offset=".4" stop-color="#5d4c9f"/><stop offset=".42" stop-color="#634c9f"/><stop offset=".44" stop-color="#684c9e"/><stop offset=".46" stop-color="#6d4c9e"/><stop offset=".48" stop-color="#714c9d"/><stop offset=".5" stop-color="#764c9d"/></linearGradient>
<linearGradient id="r158" gradientUnits="userSpaceOnUse" x1="120" x2="880"><stop offset=".32" stop-color="#464ca1"/><stop offset=".34" stop-color="#4c4ca0"/><stop offset=".36" stop-color="#514ca0"/><stop offset=".38" stop-color="#574ca0"/><stop offset=".4" stop-color="#5d4c9f"/><stop offset=".42" stop-color="#624c9f"/><stop offset=".44" stop-color="#684c9e"/><stop offset=".46" stop-color="#6c4c9e"/><stop offset=".48" stop-color="#714c9d"/><stop offset=".5" stop-color="#754c9d"/></linearGradient>
<linearGradient id="r159" gradientUnits="userSpaceOnUse" x1="120" x2="880"><stop offset=".32" stop-color="#464ca1"/><stop offset=".34" stop-color="#4c4ca1"/><stop offset=".36" stop-color="#514ca0"/><stop offset=".38" stop-color="#574ca0"/><stop offset=".4" stop-color="#5d4c9f"/><stop offset=".42" stop-color="#624c9f"/><stop offset=".44" stop-color="#674c9e"/><stop offset=".46" stop-color="#6c4c9e"/><stop offset=".48" stop-color="#714c9e"/></linearGradient>
<linearGradient id="r160" gradientUnits="userSpaceOnUse" x1="120" x2="880"><stop offset=".32" stop-color="#464ca1"/><stop offset=".34" stop-color="#4c4ca1"/><stop offset=".36" stop-color="#514ca0"/><stop offset=".38" stop-color="#574ca0"/><stop offset=".4" stop-color="#5c4c9f"/><stop offset=".42" stop-color="#624c9f"/><stop offset=".44" stop-color="#674c9e"/><stop offset=".46" stop-color="#6c4c9e"/><stop offset=".48" stop-color="#704c9e"/></linearGradient>
<linearGradient id="r161" gradientUnits="userSpaceOnUse" x1="120" x2="880"><stop offset=".34" stop-color="#4c4ca1"/><stop offset=".36" stop-color="#514ca0"/><stop offset=".38" stop-color="#574ca0"/><stop offset=".4" stop-color="#5c4c9f"/><stop offset=".42" stop-color="#614c9f"/><stop offset=".44" stop-color="#664c9e"/><stop offset=".46" stop-color="#6b4c9e"/><stop offset=".48" stop-color="#704c9e"/></linearGradient>
<linearGradient id="r162" gradientUnits="userSpaceOnUse" x1="120" x2="880"><stop offset=".34" stop-color="#4c4ca1"/><stop offset=".36" stop-color="#514ca0"/><stop offset=".38" stop-color="#574ca0"/><stop offset=".4" stop-color="#5c4c9f"/><stop offset=".42" stop-color="#614c9f"/><stop offset=".44" stop-color="#664c9e"/><stop offset=".46" stop-color="#6b4c9e"/><stop offset=".48" stop-color="#704c9e"/></linearGradient>
<linearGradient id="r163" gradientUnits="userSpaceOnUse" x1="120" x2="880"><stop offset=".34" stop-color="#4c4ca1"/><stop offset=".36" stop-color="#514ca1"/><stop offset=".38" stop-color="#564ca0"/><stop offset=".4" stop-color="#5c4ca0"/><stop offset=".42" stop-color="#614c9f"/><stop offset=".44" stop-color="#664c9f"/><stop offset=".46" stop-color="#6b4c9e"/><stop offset=".48" stop-color="#6f4c9e"/></linearGradient>
<linearGradient id="r164" gradientUnits="userSpaceOnUse" x1="120" x2="880"><stop offset=".34" stop-color="#4c4ca1"/><stop offset=".36" stop-color="#514ca1"/><stop offset=".38" stop-color="#564ca0"/><stop offset=".4" stop-color="#5b4ca0"/><stop offset=".42" stop-color="#604c9f"/><stop offset=".44" stop-color="#654c9f"/><stop offset=".46" stop-color="#6a4c9f"/></linearGradient>
<linearGradient id="r165" gradientUnits="userSpaceOnUse" x1="120" x2="880"><stop offset=".36" stop-color="#514ca1"/><stop offset=".38" stop-color="#564ca0"/><stop offset=".4" stop-color="#5b4ca0"/><stop offset=".42" stop-color="#604c9f"/><stop offset=".44" stop-color="#654c9f"/><stop offset=".46" stop-color="#6a4c9f"/></linearGradient>
<linearGradient id="r166" gradientUnits="userSpaceOnUse" x1="120" x2="880"><stop offset=".36" stop-color="#514ca1"/><stop offset=".38" stop-color="#564ca0"/><stop offset=".4" stop-color="#5b4ca0"/><stop offset=".42" stop-color="#604ca0"/><stop offset=".44" stop-color="#654c9f"/><stop offset=".46" stop-color="#6a4c9f"/></linearGradient>
<linearGradient id="r167" gradientUnits="userSpaceOnUse" x1="120" x2="880"><stop offset=".36" stop-color="#514ca1"/><stop offset=".38" stop-color="#564ca1"/><stop offset=".4" stop-color="#5b4ca0"/><stop offset=".42" stop-color="#604ca0"/><stop offset=".44" stop-color="#654c9f"/><stop offset=".46" stop-color="#694c9f"/></linearGradient>
<linearGradient id="r168" gradientUnits="userSpaceOnUse" x1="120" x2="880"><stop offset=".36" stop-color="#514ca2"/><stop offset=".38" stop-color="#564ca1"/><stop offset=".4" stop-color="#5b4ca0"/><stop offset=".42" stop-color="#604ca0"/><stop offset=".44" stop-color="#654ca0"/><stop offset=".46" stop-color="#694c9f"/></linearGradient>
<linearGradient id="r169" gradientUnits="userSpaceOnUse" x1="120" x2="880"><stop offset=".38" stop-color="#564ca1"/><stop offset=".4" stop-color="#5b4ca1"/><stop offset=".42" stop-color="#604ca0"/><stop offset=".44" stop-color="#644ca0"/></linearGradient>
<linearGradient id="r170" gradientUnits="userSpaceOnUse" x1="120" x2="880"><stop offset=".38" stop-color="#564ca1"/><stop offset=".4" stop-color="#5b4ca1"/><stop offset=".42" stop-color="#604ca0"/><stop offset=".44" stop-color="#644ca0"/></linearGradient>
<linearGradient id="r171" gradientUnits="userSpaceOnUse" x1="120" x2="880"><stop offset=".38" stop-color="#564ca2"/><stop offset=".4" stop-color="#5b4ca1"/><stop offset=".42" stop-color="#604ca1"/><stop offset=".44" stop-color="#644ca0"/></linearGradient>
<filter id="bl" x="100" y="170" width="800" height="740" filterUnits="userSpaceOnUse"><feGaussianBlur stdDeviation="2"/></filter></defs>
<g clip-path="url(#hs)"><g filter="url(#bl)">
<rect x="158" y="194" width="81" height="4.6" fill="url(#r1)"/>
<rect x="147" y="198" width="129" height="4.6" fill="url(#r2)"/>
<rect x="140" y="202" width="169" height="4.6" fill="url(#r3)"/>
<rect x="134" y="206" width="205" height="4.6" fill="url(#r4)"/>
<rect x="131" y="210" width="238" height="4.6" fill="url(#r5)"/>
<rect x="128" y="214" width="270" height="4.6" fill="url(#r6)"/>
<rect x="126" y="218" width="300" height="4.6" fill="url(#r7)"/>
<rect x="125" y="222" width="329" height="4.6" fill="url(#r8)"/>
<rect x="124" y="226" width="358" height="4.6" fill="url(#r9)"/>
<rect x="124" y="230" width="386" height="4.6" fill="url(#r10)"/>
<rect x="124" y="234" width="413" height="4.6" fill="url(#r11)"/>
<rect x="124" y="238" width="440" height="4.6" fill="url(#r12)"/>
<rect x="124" y="242" width="467" height="4.6" fill="url(#r13)"/>
<rect x="124" y="246" width="494" height="4.6" fill="url(#r14)"/>
<rect x="124" y="250" width="520" height="4.6" fill="url(#r15)"/>
<rect x="124" y="254" width="547" height="4.6" fill="url(#r16)"/>
<rect x="124" y="258" width="573" height="4.6" fill="url(#r17)"/>
<rect x="124" y="262" width="599" height="4.6" fill="url(#r18)"/>
<rect x="124" y="266" width="624" height="4.6" fill="url(#r19)"/>
<rect x="125" y="270" width="650" height="4.6" fill="url(#r20)"/>
<rect x="126" y="274" width="676" height="4.6" fill="url(#r21)"/>
<rect x="126" y="278" width="704" height="4.6" fill="url(#r22)"/>
<rect x="127" y="282" width="729" height="4.6" fill="url(#r23)"/>
<rect x="128" y="286" width="744" height="4.6" fill="url(#r24)"/>
<rect x="128" y="290" width="743" height="4.6" fill="url(#r25)"/>
<rect x="129" y="294" width="743" height="4.6" fill="url(#r26)"/>
<rect x="130" y="298" width="742" height="4.6" fill="url(#r27)"/>
<rect x="131" y="302" width="740" height="4.6" fill="url(#r28)"/>
<rect x="132" y="306" width="738" height="4.6" fill="url(#r29)"/>
<rect x="133" y="310" width="734" height="4.6" fill="url(#r30)"/>
<rect x="134" y="314" width="730" height="4.6" fill="url(#r31)"/>
<rect x="135" y="318" width="726" height="4.6" fill="url(#r32)"/>
<rect x="136" y="322" width="722" height="4.6" fill="url(#r33)"/>
<rect x="137" y="326" width="718" height="4.6" fill="url(#r34)"/>
<rect x="138" y="330" width="714" height="4.6" fill="url(#r35)"/>
<rect x="139" y="334" width="710" height="4.6" fill="url(#r36)"/>
<rect x="140" y="338" width="706" height="4.6" fill="url(#r37)"/>
<rect x="141" y="342" width="702" height="4.6" fill="url(#r38)"/>
<rect x="142" y="346" width="698" height="4.6" fill="url(#r39)"/>
<rect x="144" y="350" width="693" height="4.6" fill="url(#r40)"/>
<rect x="145" y="354" width="689" height="4.6" fill="url(#r41)"/>
<rect x="146" y="358" width="685" height="4.6" fill="url(#r42)"/>
<rect x="147" y="362" width="681" height="4.6" fill="url(#r43)"/>
<rect x="148" y="366" width="677" height="4.6" fill="url(#r44)"/>
<rect x="149" y="370" width="673" height="4.6" fill="url(#r45)"/>
<rect x="150" y="374" width="669" height="4.6" fill="url(#r46)"/>
<rect x="151" y="378" width="666" height="4.6" fill="url(#r47)"/>
<rect x="153" y="382" width="661" height="4.6" fill="url(#r48)"/>
<rect x="154" y="386" width="657" height="4.6" fill="url(#r49)"/>
<rect x="155" y="390" width="653" height="4.6" fill="url(#r50)"/>
<rect x="156" y="394" width="649" height="4.6" fill="url(#r51)"/>
<rect x="157" y="398" width="645" height="4.6" fill="url(#r52)"/>
<rect x="159" y="402" width="640" height="4.6" fill="url(#r53)"/>
<rect x="160" y="406" width="636" height="4.6" fill="url(#r54)"/>
<rect x="161" y="410" width="632" height="4.6" fill="url(#r55)"/>
<rect x="162" y="414" width="628" height="4.6" fill="url(#r56)"/>
<rect x="164" y="418" width="623" height="4.6" fill="url(#r57)"/>
<rect x="165" y="422" width="619" height="4.6" fill="url(#r58)"/>
<rect x="166" y="426" width="615" height="4.6" fill="url(#r59)"/>
<rect x="167" y="430" width="611" height="4.6" fill="url(#r60)"/>
<rect x="169" y="434" width="606" height="4.6" fill="url(#r61)"/>
<rect x="170" y="438" width="602" height="4.6" fill="url(#r62)"/>
<rect x="171" y="442" width="598" height="4.6" fill="url(#r63)"/>
<rect x="173" y="446" width="593" height="4.6" fill="url(#r64)"/>
<rect x="174" y="450" width="589" height="4.6" fill="url(#r65)"/>
<rect x="175" y="454" width="585" height="4.6" fill="url(#r66)"/>
<rect x="177" y="458" width="580" height="4.6" fill="url(#r67)"/>
<rect x="178" y="462" width="576" height="4.6" fill="url(#r68)"/>
<rect x="179" y="466" width="572" height="4.6" fill="url(#r69)"/>
<rect x="181" y="470" width="567" height="4.6" fill="url(#r70)"/>
<rect x="182" y="474" width="563" height="4.6" fill="url(#r71)"/>
<rect x="184" y="478" width="558" height="4.6" fill="url(#r72)"/>
<rect x="185" y="482" width="554" height="4.6" fill="url(#r73)"/>
<rect x="187" y="486" width="549" height="4.6" fill="url(#r74)"/>
<rect x="188" y="490" width="545" height="4.6" fill="url(#r75)"/>
<rect x="190" y="494" width="540" height="4.6" fill="url(#r76)"/>
<rect x="191" y="498" width="536" height="4.6" fill="url(#r77)"/>
<rect x="193" y="502" width="531" height="4.6" fill="url(#r78)"/>
<rect x="194" y="506" width="527" height="4.6" fill="url(#r79)"/>
<rect x="196" y="510" width="522" height="4.6" fill="url(#r80)"/>
<rect x="197" y="514" width="518" height="4.6" fill="url(#r81)"/>
<rect x="199" y="518" width="513" height="4.6" fill="url(#r82)"/>
<rect x="200" y="522" width="509" height="4.6" fill="url(#r83)"/>
<rect x="202" y="526" width="504" height="4.6" fill="url(#r84)"/>
<rect x="204" y="530" width="499" height="4.6" fill="url(#r85)"/>
<rect x="205" y="534" width="495" height="4.6" fill="url(#r86)"/>
<rect x="207" y="538" width="490" height="4.6" fill="url(#r87)"/>
<rect x="208" y="542" width="486" height="4.6" fill="url(#r88)"/>
<rect x="210" y="546" width="481" height="4.6" fill="url(#r89)"/>
<rect x="212" y="550" width="476" height="4.6" fill="url(#r90)"/>
<rect x="214" y="554" width="471" height="4.6" fill="url(#r91)"/>
<rect x="215" y="558" width="467" height="4.6" fill="url(#r92)"/>
<rect x="217" y="562" width="462" height="4.6" fill="url(#r93)"/>
<rect x="219" y="566" width="457" height="4.6" fill="url(#r94)"/>
<rect x="221" y="570" width="452" height="4.6" fill="url(#r95)"/>
<rect x="222" y="574" width="448" height="4.6" fill="url(#r96)"/>
<rect x="224" y="578" width="443" height="4.6" fill="url(#r97)"/>
<rect x="226" y="582" width="438" height="4.6" fill="url(#r98)"/>
<rect x="228" y="586" width="433" height="4.6" fill="url(#r99)"/>
<rect x="229" y="590" width="429" height="4.6" fill="url(#r100)"/>
<rect x="231" y="594" width="424" height="4.6" fill="url(#r101)"/>
<rect x="233" y="598" width="419" height="4.6" fill="url(#r102)"/>
<rect x="235" y="602" width="414" height="4.6" fill="url(#r103)"/>
<rect x="237" y="606" width="410" height="4.6" fill="url(#r104)"/>
<rect x="239" y="610" width="405" height="4.6" fill="url(#r105)"/>
<rect x="241" y="614" width="400" height="4.6" fill="url(#r106)"/>
<rect x="243" y="618" width="395" height="4.6" fill="url(#r107)"/>
<rect x="245" y="622" width="390" height="4.6" fill="url(#r108)"/>
<rect x="247" y="626" width="385" height="4.6" fill="url(#r109)"/>
<rect x="249" y="630" width="380" height="4.6" fill="url(#r110)"/>
<rect x="251" y="634" width="375" height="4.6" fill="url(#r111)"/>
<rect x="253" y="638" width="370" height="4.6" fill="url(#r112)"/>
<rect x="255" y="642" width="365" height="4.6" fill="url(#r113)"/>
<rect x="257" y="646" width="360" height="4.6" fill="url(#r114)"/>
<rect x="259" y="650" width="355" height="4.6" fill="url(#r115)"/>
<rect x="261" y="654" width="350" height="4.6" fill="url(#r116)"/>
<rect x="263" y="658" width="345" height="4.6" fill="url(#r117)"/>
<rect x="265" y="662" width="340" height="4.6" fill="url(#r118)"/>
<rect x="267" y="666" width="335" height="4.6" fill="url(#r119)"/>
<rect x="269" y="670" width="330" height="4.6" fill="url(#r120)"/>
<rect x="271" y="674" width="325" height="4.6" fill="url(#r121)"/>
<rect x="273" y="678" width="320" height="4.6" fill="url(#r122)"/>
<rect x="275" y="682" width="315" height="4.6" fill="url(#r123)"/>
<rect x="277" y="686" width="310" height="4.6" fill="url(#r124)"/>
<rect x="279" y="690" width="305" height="4.6" fill="url(#r125)"/>
<rect x="281" y="694" width="300" height="4.6" fill="url(#r126)"/>
<rect x="284" y="698" width="294" height="4.6" fill="url(#r127)"/>
<rect x="286" y="702" width="289" height="4.6" fill="url(#r128)"/>
<rect x="288" y="706" width="284" height="4.6" fill="url(#r129)"/>
<rect x="290" y="710" width="279" height="4.6" fill="url(#r130)"/>
<rect x="293" y="714" width="273" height="4.6" fill="url(#r131)"/>
<rect x="295" y="718" width="268" height="4.6" fill="url(#r132)"/>
<rect x="297" y="722" width="263" height="4.6" fill="url(#r133)"/>
<rect x="300" y="726" width="257" height="4.6" fill="url(#r134)"/>
<rect x="302" y="730" width="252" height="4.6" fill="url(#r135)"/>
<rect x="305" y="734" width="246" height="4.6" fill="url(#r136)"/>
<rect x="308" y="738" width="240" height="4.6" fill="url(#r137)"/>
<rect x="310" y="742" width="235" height="4.6" fill="url(#r138)"/>
<rect x="313" y="746" width="229" height="4.6" fill="url(#r139)"/>
<rect x="316" y="750" width="223" height="4.6" fill="url(#r140)"/>
<rect x="318" y="754" width="218" height="4.6" fill="url(#r141)"/>
<rect x="321" y="758" width="212" height="4.6" fill="url(#r142)"/>
<rect x="324" y="762" width="206" height="4.6" fill="url(#r143)"/>
<rect x="327" y="766" width="200" height="4.6" fill="url(#r144)"/>
<rect x="330" y="770" width="194" height="4.6" fill="url(#r145)"/>
<rect x="333" y="774" width="188" height="4.6" fill="url(#r146)"/>
<rect x="336" y="778" width="182" height="4.6" fill="url(#r147)"/>
<rect x="340" y="782" width="175" height="4.6" fill="url(#r148)"/>
<rect x="343" y="786" width="169" height="4.6" fill="url(#r149)"/>
<rect x="346" y="790" width="163" height="4.6" fill="url(#r150)"/>
<rect x="349" y="794" width="157" height="4.6" fill="url(#r151)"/>
<rect x="352" y="798" width="151" height="4.6" fill="url(#r152)"/>
<rect x="356" y="802" width="144" height="4.6" fill="url(#r153)"/>
<rect x="359" y="806" width="138" height="4.6" fill="url(#r154)"/>
<rect x="362" y="810" width="132" height="4.6" fill="url(#r155)"/>
<rect x="365" y="814" width="126" height="4.6" fill="url(#r156)"/>
<rect x="368" y="818" width="120" height="4.6" fill="url(#r157)"/>
<rect x="372" y="822" width="113" height="4.6" fill="url(#r158)"/>
<rect x="375" y="826" width="107" height="4.6" fill="url(#r159)"/>
<rect x="378" y="830" width="101" height="4.6" fill="url(#r160)"/>
<rect x="382" y="834" width="95" height="4.6" fill="url(#r161)"/>
<rect x="385" y="838" width="89" height="4.6" fill="url(#r162)"/>
<rect x="389" y="842" width="82" height="4.6" fill="url(#r163)"/>
<rect x="392" y="846" width="76" height="4.6" fill="url(#r164)"/>
<rect x="396" y="850" width="69" height="4.6" fill="url(#r165)"/>
<rect x="400" y="854" width="62" height="4.6" fill="url(#r166)"/>
<rect x="404" y="858" width="55" height="4.6" fill="url(#r167)"/>
<rect x="408" y="862" width="48" height="4.6" fill="url(#r168)"/>
<rect x="412" y="866" width="41" height="4.6" fill="url(#r169)"/>
<rect x="417" y="870" width="33" height="4.6" fill="url(#r170)"/>
<rect x="422" y="874" width="25" height="4.6" fill="url(#r171)"/>
</g>
<path d="M189.8 204.9 L790.4 287.7 L322.1 739.9 Z M274.7 227.9 L671.4 275.7 L335.8 703.4 Z" fill="#fff" fill-opacity="0.32" fill-rule="evenodd"/>
<path d="M189.8 204.9 L790.4 287.7 L322.1 739.9 Z" fill="none" stroke="#fff" stroke-opacity=".93" stroke-width="4.3" stroke-miterlimit="10"/>
</g>
<path d="M274.7 227.9 L671.4 275.7 L335.8 703.4 Z" fill="none" stroke="#fff" stroke-width="4.3" stroke-miterlimit="10"/>
<g fill="#fff" fill-opacity=".85"><circle cx="436" cy="576.8" r="3.95"/><circle cx="365.1" cy="697" r="3.95"/></g>
<g fill="none" stroke-linecap="butt">
<path d="M440 576.8H788.4M369 697H788.4" stroke="#b3b3b3" stroke-width="2"/>
<path d="M436 576.8H655.5" stroke="#fff" stroke-opacity=".8" stroke-width="5.2" clip-path="url(#hs)"/>
<path d="M365 697H855" stroke="#fff" stroke-opacity=".8" stroke-width="5.2" clip-path="url(#hs)"/>
<path d="M436 576.8H655.5" stroke="#6a6a6a" stroke-width="2" clip-path="url(#hs)"/>
<path d="M365 697H855" stroke="#6a6a6a" stroke-width="2" clip-path="url(#hs)"/>
</g>
<g fill="#646464"><circle cx="436" cy="576.8" r="3.15"/><circle cx="365.1" cy="697" r="3.15"/></g>
<g stroke="#4a4748" stroke-width="1.2" fill="none">
<path d="M124.8 901V912.8M245.3 901V912.8M365.8 901V912.8M486.3 901V912.8M606.8 901V912.8M727.3 901V912.8M847.9 901V912.8M968.4 901V912.8M112.9 901.3H125M112.9 781.4H125M112.9 661.5H125M112.9 541.6H125M112.9 421.7H125M112.9 301.8H125M112.9 181.8H125M112.9 61.9H125"/>
</g>
<path d="M125.55 61.3V900.35H969.8" fill="none" stroke="#231f20" stroke-width="3.1" stroke-linejoin="miter"/>
<g font-family="'Liberation Sans',sans-serif" fill="#000">
<text y="35.3" font-size="22" font-weight="bold"><tspan x="296.0" letter-spacing="0">Color</tspan> <tspan x="361.7" letter-spacing="0.78">space:</tspan> <tspan x="440.2" letter-spacing="0.6">Rec.</tspan> <tspan x="495.4" letter-spacing="0.87">709/sRGB</tspan> <tspan x="611.4" letter-spacing="0.75">vs.</tspan> <tspan x="648.8" letter-spacing="0.65">Rec</tspan> <tspan x="696.5" letter-spacing="2.8">2020</tspan></text>
<g font-size="22.5">
<text x="102.9" y="910.6" text-anchor="end">0</text>
<text x="106.8" y="791.7" text-anchor="end">0.1</text>
<text x="107.6" y="671.8" text-anchor="end">0.2</text>
<text x="107.6" y="551.9" text-anchor="end">0.3</text>
<text x="107.6" y="432.0" text-anchor="end">0.4</text>
<text x="107.6" y="312.1" text-anchor="end">0.5</text>
<text x="107.6" y="192.1" text-anchor="end">0.6</text>
<text x="107.6" y="72.2" text-anchor="end">0.7</text>
<text x="116.0" y="932.3">0</text>
<text x="221.6" y="932.3">0.1</text>
<text x="345.0" y="932.3">0.2</text>
<text x="468.3" y="932.3">0.3</text>
<text x="588.1" y="932.3">0.4</text>
<text x="708.7" y="932.3">0.5</text>
<text x="829.3" y="932.3">0.6</text>
<text x="950.6" y="932.3">0.7</text>
</g>
<text x="802" y="581.4" font-size="21" letter-spacing=".85">Rec. 709/sRGB</text>
<text x="801" y="703" font-size="21" letter-spacing=".9">Rec <tspan letter-spacing="1.8">2020</tspan></text>
<text x="40" y="488.9" font-size="22" font-weight="bold" font-style="italic">v′</text>
<text x="533" y="971.4" font-size="22" font-weight="bold" font-style="italic">u′</text>
</g>
</svg>
</body></html>
